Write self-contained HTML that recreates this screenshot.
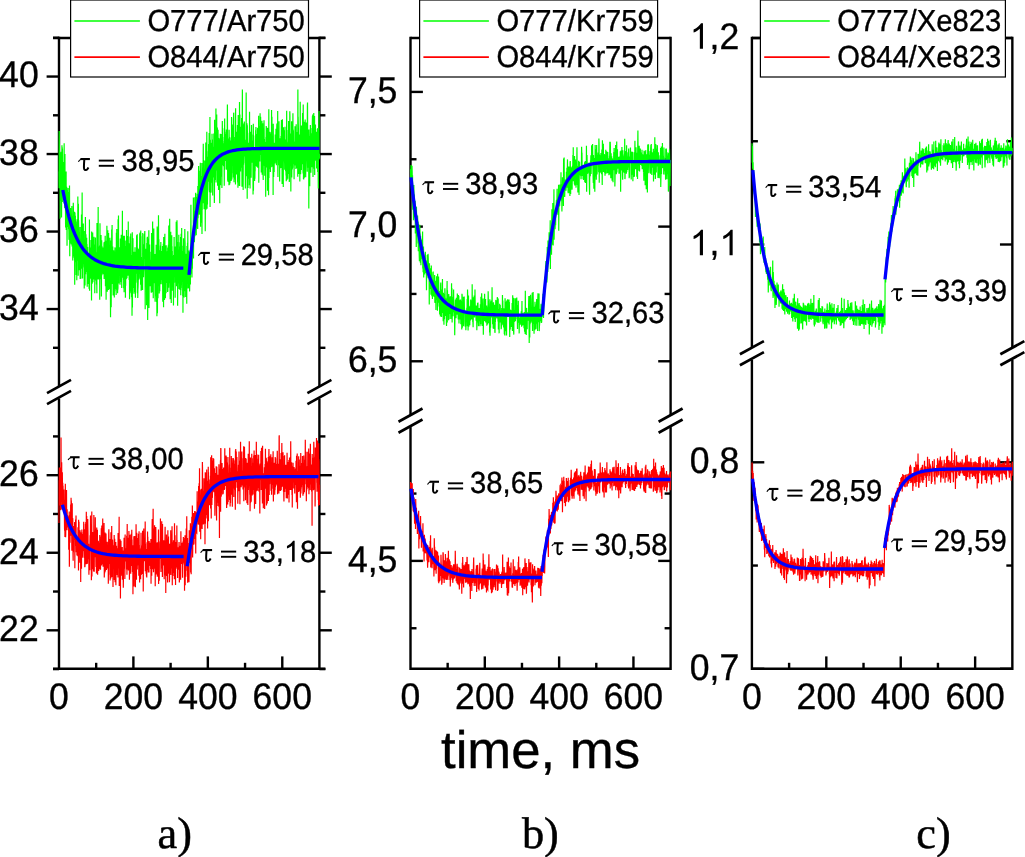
<!DOCTYPE html><html><head><meta charset="utf-8"><title>chart</title><style>html,body{margin:0;padding:0;background:#fff;overflow:hidden;}svg{display:block;text-rendering:geometricPrecision;}</style></head><body>
<svg width="1025" height="857" viewBox="0 0 1025 857">
<rect width="1025" height="857" fill="#fff"/>
<g stroke="#000" stroke-width="2.4" fill="none">
<line x1="59" y1="36.8" x2="59" y2="386.5"/>
<line x1="59" y1="398.5" x2="59" y2="670"/>
<line x1="47" y1="393.1" x2="71" y2="379.9" stroke-width="2.7"/>
<line x1="47" y1="404.1" x2="71" y2="390.9" stroke-width="2.7"/>
<line x1="319.4" y1="36.8" x2="319.4" y2="386.5"/>
<line x1="319.4" y1="398.5" x2="319.4" y2="670"/>
<line x1="307.4" y1="393.1" x2="331.4" y2="379.9" stroke-width="2.7"/>
<line x1="307.4" y1="404.1" x2="331.4" y2="390.9" stroke-width="2.7"/>
<line x1="53" y1="38" x2="325.4" y2="38"/>
<line x1="53" y1="668.8" x2="325.4" y2="668.8"/>
<line x1="59" y1="309.05" x2="46.6" y2="309.05"/>
<line x1="319.4" y1="309.05" x2="331.8" y2="309.05"/>
<line x1="59" y1="231.55" x2="46.6" y2="231.55"/>
<line x1="319.4" y1="231.55" x2="331.8" y2="231.55"/>
<line x1="59" y1="154.05" x2="46.6" y2="154.05"/>
<line x1="319.4" y1="154.05" x2="331.8" y2="154.05"/>
<line x1="59" y1="76.55" x2="46.6" y2="76.55"/>
<line x1="319.4" y1="76.55" x2="331.8" y2="76.55"/>
<line x1="59" y1="347.8" x2="53" y2="347.8"/>
<line x1="319.4" y1="347.8" x2="325.4" y2="347.8"/>
<line x1="59" y1="270.3" x2="53" y2="270.3"/>
<line x1="319.4" y1="270.3" x2="325.4" y2="270.3"/>
<line x1="59" y1="192.8" x2="53" y2="192.8"/>
<line x1="319.4" y1="192.8" x2="325.4" y2="192.8"/>
<line x1="59" y1="115.3" x2="53" y2="115.3"/>
<line x1="319.4" y1="115.3" x2="325.4" y2="115.3"/>
<line x1="59" y1="37.8" x2="53" y2="37.8"/>
<line x1="319.4" y1="37.8" x2="325.4" y2="37.8"/>
<line x1="59" y1="630.31" x2="46.6" y2="630.31"/>
<line x1="319.4" y1="630.31" x2="331.8" y2="630.31"/>
<line x1="59" y1="552.75" x2="46.6" y2="552.75"/>
<line x1="319.4" y1="552.75" x2="331.8" y2="552.75"/>
<line x1="59" y1="475.19" x2="46.6" y2="475.19"/>
<line x1="319.4" y1="475.19" x2="331.8" y2="475.19"/>
<line x1="59" y1="669.09" x2="53" y2="669.09"/>
<line x1="319.4" y1="669.09" x2="325.4" y2="669.09"/>
<line x1="59" y1="591.53" x2="53" y2="591.53"/>
<line x1="319.4" y1="591.53" x2="325.4" y2="591.53"/>
<line x1="59" y1="513.97" x2="53" y2="513.97"/>
<line x1="319.4" y1="513.97" x2="325.4" y2="513.97"/>
<line x1="59" y1="436.41" x2="53" y2="436.41"/>
<line x1="319.4" y1="436.41" x2="325.4" y2="436.41"/>
<line x1="96.17" y1="668.8" x2="96.17" y2="662.8"/>
<line x1="133.39" y1="668.8" x2="133.39" y2="656.4"/>
<line x1="170.61" y1="668.8" x2="170.61" y2="662.8"/>
<line x1="207.84" y1="668.8" x2="207.84" y2="656.4"/>
<line x1="245.06" y1="668.8" x2="245.06" y2="662.8"/>
<line x1="282.28" y1="668.8" x2="282.28" y2="656.4"/>
</g>
<g stroke="#000" stroke-width="2.4" fill="none">
<line x1="410.5" y1="36.8" x2="410.5" y2="415.1"/>
<line x1="410.5" y1="427.1" x2="410.5" y2="670"/>
<line x1="398.5" y1="421.7" x2="422.5" y2="408.5" stroke-width="2.7"/>
<line x1="398.5" y1="432.7" x2="422.5" y2="419.5" stroke-width="2.7"/>
<line x1="670.6" y1="36.8" x2="670.6" y2="415.1"/>
<line x1="670.6" y1="427.1" x2="670.6" y2="670"/>
<line x1="658.6" y1="421.7" x2="682.6" y2="408.5" stroke-width="2.7"/>
<line x1="658.6" y1="432.7" x2="682.6" y2="419.5" stroke-width="2.7"/>
<line x1="410.5" y1="38" x2="670.6" y2="38"/>
<line x1="410.5" y1="668.8" x2="670.6" y2="668.8"/>
<line x1="410.5" y1="361.27" x2="422.9" y2="361.27"/>
<line x1="670.6" y1="361.27" x2="658.2" y2="361.27"/>
<line x1="410.5" y1="226.6" x2="422.9" y2="226.6"/>
<line x1="670.6" y1="226.6" x2="658.2" y2="226.6"/>
<line x1="410.5" y1="91.92" x2="422.9" y2="91.92"/>
<line x1="670.6" y1="91.92" x2="658.2" y2="91.92"/>
<line x1="410.5" y1="293.94" x2="416.5" y2="293.94"/>
<line x1="670.6" y1="293.94" x2="664.6" y2="293.94"/>
<line x1="410.5" y1="159.26" x2="416.5" y2="159.26"/>
<line x1="670.6" y1="159.26" x2="664.6" y2="159.26"/>
<line x1="410.5" y1="560.9" x2="422.9" y2="560.9"/>
<line x1="670.6" y1="560.9" x2="658.2" y2="560.9"/>
<line x1="410.5" y1="628.24" x2="416.5" y2="628.24"/>
<line x1="670.6" y1="628.24" x2="664.6" y2="628.24"/>
<line x1="410.5" y1="493.56" x2="416.5" y2="493.56"/>
<line x1="670.6" y1="493.56" x2="664.6" y2="493.56"/>
<line x1="447.66" y1="668.8" x2="447.66" y2="662.8"/>
<line x1="484.81" y1="668.8" x2="484.81" y2="656.4"/>
<line x1="521.97" y1="668.8" x2="521.97" y2="662.8"/>
<line x1="559.13" y1="668.8" x2="559.13" y2="656.4"/>
<line x1="596.29" y1="668.8" x2="596.29" y2="662.8"/>
<line x1="633.44" y1="668.8" x2="633.44" y2="656.4"/>
</g>
<g stroke="#000" stroke-width="2.4" fill="none">
<line x1="751.9" y1="36.8" x2="751.9" y2="347.7"/>
<line x1="751.9" y1="359.7" x2="751.9" y2="670"/>
<line x1="739.9" y1="354.3" x2="763.9" y2="341.1" stroke-width="2.7"/>
<line x1="739.9" y1="365.3" x2="763.9" y2="352.1" stroke-width="2.7"/>
<line x1="1012.35" y1="36.8" x2="1012.35" y2="347.7"/>
<line x1="1012.35" y1="359.7" x2="1012.35" y2="670"/>
<line x1="1000.35" y1="354.3" x2="1024.35" y2="341.1" stroke-width="2.7"/>
<line x1="1000.35" y1="365.3" x2="1024.35" y2="352.1" stroke-width="2.7"/>
<line x1="751.9" y1="38" x2="1012.35" y2="38"/>
<line x1="751.9" y1="668.8" x2="1012.35" y2="668.8"/>
<line x1="751.9" y1="244.5" x2="764.3" y2="244.5"/>
<line x1="1012.35" y1="244.5" x2="999.95" y2="244.5"/>
<line x1="751.9" y1="38" x2="764.3" y2="38"/>
<line x1="1012.35" y1="38" x2="999.95" y2="38"/>
<line x1="751.9" y1="141.25" x2="757.9" y2="141.25"/>
<line x1="1012.35" y1="141.25" x2="1006.35" y2="141.25"/>
<line x1="751.9" y1="668.8" x2="764.3" y2="668.8"/>
<line x1="1012.35" y1="668.8" x2="999.95" y2="668.8"/>
<line x1="751.9" y1="462.3" x2="764.3" y2="462.3"/>
<line x1="1012.35" y1="462.3" x2="999.95" y2="462.3"/>
<line x1="751.9" y1="565.55" x2="757.9" y2="565.55"/>
<line x1="1012.35" y1="565.55" x2="1006.35" y2="565.55"/>
<line x1="789.11" y1="668.8" x2="789.11" y2="662.8"/>
<line x1="826.31" y1="668.8" x2="826.31" y2="656.4"/>
<line x1="863.52" y1="668.8" x2="863.52" y2="662.8"/>
<line x1="900.73" y1="668.8" x2="900.73" y2="656.4"/>
<line x1="937.94" y1="668.8" x2="937.94" y2="662.8"/>
<line x1="975.14" y1="668.8" x2="975.14" y2="656.4"/>
</g>
<path d="M58.95 171.56 59.08 188.26 59.21 130.96 59.34 149.78 59.47 152.68 59.6 162.38 59.73 160.5 59.86 153.14 59.99 156.82 60.12 218.74 60.25 174.9 60.38 170.04 60.51 180.04 60.64 191.36 60.77 151.86 60.9 181.75 61.03 176.72 61.16 200.79 61.29 178.05 61.43 156.91 61.56 217.59 61.69 173.66 61.82 155.75 61.95 145.23 62.08 192.05 62.21 147.24 62.34 202.02 62.47 148.71 62.6 182.8 62.73 182.3 62.86 183.89 62.99 195.37 63.12 164.57 63.25 187.4 63.38 162 63.51 190.51 63.64 198.35 63.77 188.23 63.9 186.61 64.03 203.57 64.16 143.14 64.29 196.89 64.42 201.33 64.55 175.44 64.68 208.35 64.81 189.52 64.94 154.03 65.07 197.31 65.2 183.36 65.33 192.66 65.46 200.25 65.59 227.49 65.72 206.26 65.85 204.33 65.98 212.83 66.12 171.57 66.25 230.12 66.38 186.65 66.51 216 66.64 186.79 66.77 190.18 66.9 201.74 67.03 245.82 67.16 223.58 67.29 199.36 67.42 205.95 67.55 189.99 67.68 211.72 67.81 201.98 67.94 227.08 68.07 188.07 68.2 207.98 68.33 198.82 68.46 201.65 68.59 229.29 68.72 218.64 68.85 227.83 68.98 239.76 69.11 239.47 69.24 192.02 69.37 228.73 69.5 185.51 69.63 218.2 69.76 256.32 69.89 216.61 70.02 213.7 70.15 224.38 70.28 221.9 70.41 222.48 70.54 208 70.67 243.36 70.81 240.1 70.94 219.58 71.07 229.99 71.2 236.92 71.33 244.41 71.46 232.65 71.59 238.78 71.72 220.96 71.85 206.02 71.98 217.3 72.11 246.45 72.24 246.03 72.37 230.59 72.5 217.4 72.63 234.38 72.76 260.5 72.89 254.98 73.02 216.6 73.15 229.11 73.28 202.7 73.41 209.04 73.54 234.53 73.67 231.76 73.8 249.95 73.93 256.03 74.06 248.14 74.19 257.67 74.32 222.52 74.45 211.78 74.58 243.05 74.71 284.75 74.84 240.94 74.97 212.58 75.1 239.37 75.23 262.15 75.36 215.71 75.49 250.92 75.63 224.34 75.76 260.42 75.89 251.45 76.02 242.58 76.15 275.09 76.28 229.6 76.41 224.61 76.54 273.16 76.67 221.54 76.8 280.24 76.93 237.96 77.06 219.29 77.19 239.21 77.32 241.99 77.45 243.59 77.58 236.37 77.71 260.82 77.84 196.45 77.97 230.23 78.1 236.04 78.23 275.83 78.36 203.64 78.49 235.29 78.62 220.26 78.75 229.58 78.88 254.61 79.01 250.48 79.14 270.27 79.27 231.74 79.4 248.46 79.53 265.87 79.66 260.96 79.79 237.63 79.92 265.67 80.05 226.9 80.18 278.92 80.32 247.8 80.45 242.94 80.58 250.43 80.71 261.62 80.84 278.78 80.97 243.2 81.1 239.11 81.23 257.44 81.36 229.93 81.49 214.46 81.62 262.76 81.75 239.86 81.88 268.67 82.01 227.94 82.14 192.6 82.27 253.19 82.4 250.94 82.53 278.59 82.66 258.35 82.79 254.42 82.92 259.86 83.05 241.91 83.18 250.53 83.31 223.55 83.44 259.27 83.57 234.27 83.7 241.27 83.83 263.2 83.96 267.46 84.09 231.09 84.22 288.46 84.35 239.31 84.48 266.57 84.61 268.94 84.74 255.28 84.87 254.44 85 285.47 85.14 268.39 85.27 260.09 85.4 217.11 85.53 237.73 85.66 274.16 85.79 255.9 85.92 234.21 86.05 240.29 86.18 246.82 86.31 265.81 86.44 260.27 86.57 272 86.7 237.67 86.83 272.06 86.96 243.92 87.09 247.91 87.22 286.65 87.35 255.26 87.48 251.33 87.61 250.11 87.74 246.92 87.87 283.98 88 280.64 88.13 268.22 88.26 258.22 88.39 274.65 88.52 253.49 88.65 263.68 88.78 262.84 88.91 257.01 89.04 286.75 89.17 288.9 89.3 280.81 89.43 219.42 89.56 290.77 89.69 269.34 89.83 247.54 89.96 255.75 90.09 277.95 90.22 278.75 90.35 272.78 90.48 259.31 90.61 257.42 90.74 272.65 90.87 255.21 91 239.98 91.13 245.3 91.26 254.59 91.39 263.66 91.52 300.45 91.65 231.51 91.78 266.7 91.91 255.98 92.04 263.54 92.17 283.64 92.3 281.59 92.43 255.11 92.56 247.59 92.69 232.38 92.82 257.01 92.95 282.15 93.08 253.5 93.21 272 93.34 272.17 93.47 266.35 93.6 279.48 93.73 256.81 93.86 243.29 93.99 236.85 94.12 276.82 94.25 252.41 94.38 253.46 94.52 275.3 94.65 244.54 94.78 293.24 94.91 272.34 95.04 249.75 95.17 247.8 95.3 280.46 95.43 237.49 95.56 247.88 95.69 260.25 95.82 264.06 95.95 260.56 96.08 267.7 96.21 253.5 96.34 258.18 96.47 284.59 96.6 272.9 96.73 252.15 96.86 293.34 96.99 223 97.12 262.49 97.25 273.65 97.38 279.5 97.51 263.21 97.64 253.84 97.77 272.34 97.9 257.6 98.03 270.36 98.16 207.12 98.29 268.71 98.42 246.5 98.55 279.46 98.68 275.85 98.81 275.55 98.94 254.07 99.07 270.06 99.2 255.37 99.34 266.01 99.47 259.41 99.6 245.48 99.73 299.66 99.86 275.9 99.99 223.13 100.12 279.24 100.25 235.82 100.38 257.95 100.51 251.36 100.64 252.31 100.77 267.09 100.9 256.39 101.03 235.1 101.16 262.56 101.29 269.65 101.42 296.39 101.55 254.94 101.68 240.27 101.81 255.69 101.94 275.37 102.07 246.22 102.2 249.35 102.33 273.63 102.46 262.93 102.59 267.41 102.72 251.29 102.85 247.58 102.98 257.17 103.11 260.44 103.24 257.06 103.37 271.65 103.5 273.89 103.63 273.95 103.76 272.69 103.89 246.79 104.03 242.39 104.16 278.94 104.29 263.98 104.42 266.1 104.55 241.79 104.68 259.85 104.81 251.79 104.94 247.52 105.07 252.01 105.2 235.63 105.33 265.67 105.46 286.24 105.59 250.68 105.72 265.96 105.85 243.45 105.98 277 106.11 299.68 106.24 240.87 106.37 260.02 106.5 291.43 106.63 271.4 106.76 266.63 106.89 225.65 107.02 261.65 107.15 281.99 107.28 291.86 107.41 276.79 107.54 253.63 107.67 251.63 107.8 230.14 107.93 244.3 108.06 286.09 108.19 262.62 108.32 239.39 108.45 289.92 108.58 233.11 108.72 288.87 108.85 258.81 108.98 271.43 109.11 277.92 109.24 270.02 109.37 289.22 109.5 265.39 109.63 258.91 109.76 252.57 109.89 237.72 110.02 252 110.15 283.89 110.28 280.94 110.41 291.72 110.54 317.14 110.67 278.89 110.8 274.88 110.93 240.4 111.06 260.8 111.19 307.15 111.32 275.52 111.45 262.86 111.58 271.39 111.71 229.51 111.84 249.7 111.97 240.7 112.1 224.98 112.23 280.23 112.36 284 112.49 262.32 112.62 272.28 112.75 246.58 112.88 274.34 113.01 280.26 113.14 294.94 113.27 295.46 113.4 275.09 113.54 263.43 113.67 250.17 113.8 254.38 113.93 277.63 114.06 276.68 114.19 266.31 114.32 297.59 114.45 278.32 114.58 266.32 114.71 262.4 114.84 267.52 114.97 248.03 115.1 247.47 115.23 272.71 115.36 255.01 115.49 260.99 115.62 289.35 115.75 262.51 115.88 291.16 116.01 266.06 116.14 295.06 116.27 275.07 116.4 232.86 116.53 289.82 116.66 262.37 116.79 229 116.92 268.5 117.05 269.31 117.18 241.85 117.31 254.85 117.44 276.8 117.57 293.25 117.7 288.11 117.83 289.68 117.96 287.76 118.09 219.27 118.23 252.69 118.36 270.07 118.49 215.45 118.62 281.18 118.75 283.5 118.88 251.84 119.01 259.36 119.14 248.76 119.27 266.28 119.4 265.86 119.53 266.51 119.66 247.25 119.79 274.03 119.92 260.21 120.05 284.76 120.18 272.66 120.31 238.53 120.44 239.33 120.57 268.08 120.7 257.55 120.83 275.7 120.96 282.11 121.09 267.18 121.22 234.79 121.35 244.12 121.48 277.72 121.61 246.9 121.74 287.94 121.87 265.15 122 276.77 122.13 250.1 122.26 265.01 122.39 210.66 122.52 262.98 122.65 277.86 122.78 249.92 122.92 250.96 123.05 265.97 123.18 268.22 123.31 251.65 123.44 279.85 123.57 235.76 123.7 288.21 123.83 240.38 123.96 251.41 124.09 292.37 124.22 248.18 124.35 235.67 124.48 268.54 124.61 249.63 124.74 245.9 124.87 253.8 125 253 125.13 248.62 125.26 247.61 125.39 297.79 125.52 254.4 125.65 285.64 125.78 240.49 125.91 277.54 126.04 243.45 126.17 258.5 126.3 279.31 126.43 257.15 126.56 229.91 126.69 256.76 126.82 264.27 126.95 278.16 127.08 248.31 127.21 261.62 127.34 268.48 127.47 235.97 127.6 265.28 127.74 251.58 127.87 275.64 128 265.24 128.13 264.18 128.26 221.47 128.39 265.29 128.52 260.32 128.65 249.44 128.78 257.68 128.91 243.37 129.04 270.71 129.17 279.94 129.3 278.76 129.43 257.54 129.56 299.34 129.69 283.66 129.82 249.42 129.95 264.8 130.08 236.49 130.21 265.21 130.34 281 130.47 291.57 130.6 259.53 130.73 233.5 130.86 264.26 130.99 293.36 131.12 270.24 131.25 291.74 131.38 283.24 131.51 297.16 131.64 278.9 131.77 254.91 131.9 276.01 132.03 315.75 132.16 257.71 132.29 232.29 132.43 307.53 132.56 275.33 132.69 255.67 132.82 256.05 132.95 238.32 133.08 280.97 133.21 270.32 133.34 255.57 133.47 259.57 133.6 259.48 133.73 287.9 133.86 264.15 133.99 293.84 134.12 251.71 134.25 256.01 134.38 258.47 134.51 257.41 134.64 265.93 134.77 287.14 134.9 290.65 135.03 247.29 135.16 291.96 135.29 269.48 135.42 297.87 135.55 264.49 135.68 251.78 135.81 282.69 135.94 279.54 136.07 258.99 136.2 268.13 136.33 270.19 136.46 273.63 136.59 235.14 136.72 244.82 136.85 268.78 136.98 272.67 137.12 257.78 137.25 234.3 137.38 293.27 137.51 261.9 137.64 247.87 137.77 298.06 137.9 289.28 138.03 287.49 138.16 283.63 138.29 278.59 138.42 249.28 138.55 268.36 138.68 274.54 138.81 279.82 138.94 276.83 139.07 248.65 139.2 256.31 139.33 261.49 139.46 264.09 139.59 251.21 139.72 233.17 139.85 244.71 139.98 273.66 140.11 267.62 140.24 278.85 140.37 231.97 140.5 259.93 140.63 284.76 140.76 230.56 140.89 247.27 141.02 236.2 141.15 290.86 141.28 268.44 141.41 256.95 141.54 270.71 141.67 266.15 141.8 285.06 141.94 290.09 142.07 285.25 142.2 274.39 142.33 282.38 142.46 283.32 142.59 290.02 142.72 232.99 142.85 274.46 142.98 269.38 143.11 270.93 143.24 263.16 143.37 266.5 143.5 277.3 143.63 271.69 143.76 270.34 143.89 247.52 144.02 244.04 144.15 253.71 144.28 234.05 144.41 258.11 144.54 251.79 144.67 233.79 144.8 231.09 144.93 259 145.06 256.92 145.19 309.24 145.32 284.35 145.45 253.09 145.58 258.45 145.71 248.73 145.84 252.98 145.97 261.28 146.1 267.02 146.23 256.11 146.36 283.58 146.49 280.2 146.63 305.13 146.76 243.09 146.89 280.81 147.02 260.85 147.15 237.45 147.28 262.24 147.41 236.76 147.54 267.46 147.67 319.99 147.8 292.78 147.93 302.57 148.06 290.67 148.19 238.57 148.32 275.84 148.45 270.7 148.58 276.24 148.71 248.27 148.84 230.33 148.97 307.98 149.1 290.66 149.23 273.84 149.36 258.67 149.49 271.47 149.62 244.44 149.75 286.24 149.88 271.14 150.01 265.15 150.14 259.84 150.27 266.75 150.4 270.52 150.53 260.37 150.66 286.3 150.79 272.01 150.92 266.23 151.05 251.65 151.18 291.16 151.31 292.67 151.45 281.12 151.58 233 151.71 261.41 151.84 286.89 151.97 268.74 152.1 292.28 152.23 259.7 152.36 283.17 152.49 278.01 152.62 221.56 152.75 260.33 152.88 263.54 153.01 256.13 153.14 251.08 153.27 298.25 153.4 265.77 153.53 283.05 153.66 242.61 153.79 228.57 153.92 259.07 154.05 275.79 154.18 254.32 154.31 278.14 154.44 283.31 154.57 259.54 154.7 266.93 154.83 254.05 154.96 288.59 155.09 301.67 155.22 277.5 155.35 258.47 155.48 254.67 155.61 262.77 155.74 284.98 155.87 253.69 156 296.18 156.14 244.86 156.27 267.92 156.4 293.11 156.53 301.97 156.66 260.34 156.79 283.14 156.92 316.15 157.05 290.28 157.18 226.45 157.31 273.43 157.44 313.24 157.57 246.01 157.7 285.44 157.83 228.42 157.96 298.26 158.09 252.07 158.22 283.44 158.35 285.41 158.48 215.24 158.61 240.91 158.74 274.36 158.87 239.17 159 267.72 159.13 250.1 159.26 293.62 159.39 258.43 159.52 250.72 159.65 280.31 159.78 291.33 159.91 265.13 160.04 273.42 160.17 277.47 160.3 258.72 160.43 245.54 160.56 278.22 160.69 261.4 160.83 242.11 160.96 284.36 161.09 276.37 161.22 270.8 161.35 253.79 161.48 263.88 161.61 279.7 161.74 277.33 161.87 252.44 162 250.97 162.13 274.63 162.26 271.62 162.39 284.24 162.52 246.11 162.65 285.63 162.78 301.63 162.91 286.16 163.04 270.61 163.17 285.34 163.3 243.67 163.43 259.7 163.56 307.26 163.69 237.07 163.82 246.13 163.95 283.76 164.08 255.65 164.21 257.39 164.34 246.86 164.47 300.09 164.6 256.56 164.73 262.86 164.86 233.68 164.99 282.76 165.12 267.96 165.25 277.61 165.38 298.17 165.51 271.04 165.65 245.49 165.78 248.88 165.91 269.7 166.04 293.23 166.17 245.36 166.3 263.45 166.43 265.38 166.56 280.63 166.69 251.2 166.82 274.06 166.95 283.03 167.08 267.42 167.21 266.28 167.34 279.9 167.47 279.19 167.6 292.05 167.73 247.64 167.86 291.52 167.99 263.81 168.12 246.51 168.25 257.63 168.38 244.71 168.51 264.34 168.64 287.79 168.77 225.4 168.9 245.68 169.03 282.75 169.16 262.43 169.29 283.21 169.42 242.93 169.55 267.15 169.68 218.64 169.81 252.07 169.94 282.21 170.07 291.25 170.2 299.15 170.34 267.09 170.47 251.48 170.6 260.83 170.73 231.71 170.86 293.89 170.99 290.54 171.12 250.87 171.25 302.96 171.38 242.45 171.51 278.79 171.64 252.79 171.77 235.13 171.9 275.68 172.03 246.14 172.16 290.84 172.29 251.07 172.42 270.16 172.55 259.06 172.68 270.73 172.81 256.15 172.94 283.75 173.07 279.76 173.2 269.49 173.33 265.75 173.46 305.62 173.59 254.94 173.72 259.82 173.85 282.84 173.98 267.95 174.11 237.12 174.24 265.47 174.37 260.86 174.5 249.27 174.63 271.86 174.76 246.57 174.89 263.41 175.03 246.59 175.16 297.84 175.29 262.79 175.42 276.57 175.55 273.6 175.68 281.58 175.81 265.3 175.94 282.49 176.07 270.54 176.2 221.7 176.33 274.1 176.46 243.62 176.59 286.21 176.72 272.32 176.85 261.09 176.98 220.23 177.11 227.54 177.24 245.81 177.37 260.97 177.5 241.96 177.63 305.87 177.76 276.88 177.89 266.49 178.02 249.43 178.15 261.71 178.28 263.66 178.41 259.76 178.54 266.7 178.67 283.46 178.8 234.71 178.93 272.46 179.06 289.11 179.19 242.17 179.32 264.57 179.45 260.9 179.58 246.45 179.71 286.22 179.85 261.97 179.98 289.93 180.11 275.99 180.24 262.87 180.37 273.63 180.5 261.04 180.63 236.99 180.76 295.2 180.89 275.13 181.02 290.15 181.15 233.76 181.28 288.07 181.41 283.84 181.54 267.4 181.67 227.88 181.8 270.09 181.93 255.49 182.06 264.51 182.19 269.22 182.32 250.98 182.45 265.7 182.58 268.4 182.71 295.92 182.84 266.25 182.97 312.85 183.1 245.71 183.23 265.58 183.36 291.73 183.49 238.32 183.62 279.95 183.75 275.69 183.88 256.74 184.01 263.61 184.14 297.57 184.27 259.65 184.4 273.47 184.54 276.39 184.67 291.13 184.8 228.9 184.93 240.21 185.06 242.7 185.19 262.86 185.32 279.84 185.45 283.99 185.58 262.73 185.71 296.97 185.84 266.77 185.97 281.31 186.1 253.75 186.23 284.02 186.36 254.52 186.49 290.21 186.62 284.57 186.75 303.71 186.88 260.11 187.01 246.11 187.14 283.95 187.27 274.22 187.4 258.14 187.53 242.75 187.66 283.38 187.79 231.14 187.92 259.34 188.05 288.51 188.18 263.4 188.31 276.9 188.44 277.5 188.57 279.46 188.7 288.3 188.83 280.61 188.96 261.06 189.09 250.43 189.23 266.91 189.36 258.39 189.49 277.12 189.62 291.38 189.75 281.47 189.88 251.98 190.01 267.65 190.14 262.57 190.27 252.18 190.4 284.49 190.53 270.16 190.66 264.05 190.79 232.68 190.92 204.71 191.05 239.44 191.18 273.81 191.31 246.84 191.44 249.24 191.57 243.52 191.7 256.47 191.83 246.01 191.96 277.6 192.09 241.58 192.22 237.77 192.35 268.64 192.48 254.81 192.61 252.69 192.74 248.41 192.87 236.59 193 242.31 193.13 245.44 193.26 236.25 193.39 197.51 193.52 258.38 193.65 222.1 193.78 219.44 193.91 222.78 194.05 214.6 194.18 210.72 194.31 224.85 194.44 242.33 194.57 219.01 194.7 232.71 194.83 197.16 194.96 236.31 195.09 199.49 195.22 233.53 195.35 205.3 195.48 207.14 195.61 193.86 195.74 192.78 195.87 211.85 196 196.77 196.13 210.28 196.26 235.32 196.39 196.93 196.52 206.17 196.65 209.53 196.78 198.93 196.91 209.34 197.04 213.67 197.17 228.33 197.3 193.99 197.43 203.01 197.56 203.36 197.69 228.89 197.82 186.03 197.95 207.63 198.08 218.34 198.21 214.23 198.34 188.98 198.47 182.15 198.6 166 198.74 190.39 198.87 195.09 199 170.87 199.13 214.74 199.26 201.23 199.39 192.99 199.52 186.89 199.65 205.39 199.78 190.39 199.91 204.89 200.04 185.58 200.17 214.25 200.3 162.67 200.43 172.73 200.56 226.77 200.69 211.89 200.82 222.7 200.95 175.96 201.08 204.35 201.21 209.03 201.34 206.91 201.47 185.56 201.6 216.52 201.73 195.98 201.86 163.01 201.99 233.97 202.12 189.11 202.25 210.12 202.38 172.62 202.51 167.62 202.64 201.69 202.77 200.11 202.9 169.91 203.03 188.33 203.16 157.99 203.29 143.75 203.42 203.17 203.56 160.26 203.69 195.72 203.82 201.47 203.95 187.88 204.08 209.29 204.21 186.98 204.34 185.27 204.47 179.35 204.6 186.94 204.73 185.3 204.86 160.44 204.99 176.99 205.12 170.41 205.25 231.22 205.38 200.17 205.51 161.53 205.64 187.5 205.77 142.56 205.9 176.59 206.03 209.74 206.16 176.46 206.29 198.96 206.42 167.28 206.55 182.68 206.68 180.78 206.81 131.65 206.94 157.84 207.07 208.8 207.2 156.68 207.33 195.09 207.46 204.59 207.59 170.79 207.72 190.45 207.85 178.06 207.98 159.54 208.11 181.69 208.25 178.58 208.38 151.3 208.51 161.34 208.64 143.93 208.77 162.88 208.9 168.28 209.03 150.19 209.16 133.11 209.29 181.12 209.42 192.15 209.55 150.55 209.68 168.99 209.81 154.68 209.94 117.09 210.07 207.11 210.2 172.23 210.33 139.77 210.46 190.4 210.59 179.83 210.72 192.73 210.85 179.59 210.98 175.54 211.11 192.55 211.24 159.84 211.37 169.41 211.5 144.03 211.63 142.71 211.76 168.27 211.89 168.51 212.02 133.78 212.15 170.81 212.28 182.76 212.41 139.49 212.54 156.73 212.67 195.59 212.8 146.7 212.94 173.53 213.07 177.42 213.2 165.73 213.33 164.94 213.46 172.78 213.59 167.3 213.72 164.53 213.85 133.48 213.98 166.02 214.11 146.24 214.24 189.5 214.37 203.05 214.5 181.92 214.63 119.75 214.76 179.44 214.89 162.58 215.02 139.51 215.15 136.94 215.28 180.05 215.41 147.46 215.54 158.12 215.67 160.75 215.8 177.27 215.93 108.39 216.06 182.49 216.19 143.58 216.32 151.15 216.45 170.48 216.58 165.58 216.71 114.56 216.84 169.82 216.97 155.34 217.1 138.54 217.23 146.37 217.36 127.57 217.49 172.68 217.62 185.75 217.76 145.59 217.89 148.52 218.02 129.66 218.15 143.82 218.28 137.77 218.41 157.47 218.54 189.97 218.67 176.84 218.8 175.31 218.93 138.17 219.06 172.41 219.19 142.76 219.32 139.5 219.45 170.16 219.58 154.23 219.71 203.29 219.84 159.59 219.97 150.05 220.1 169.98 220.23 133.67 220.36 168.54 220.49 185.21 220.62 152.85 220.75 145.58 220.88 176.65 221.01 133.93 221.14 162.22 221.27 145.03 221.4 160.65 221.53 139.94 221.66 166.31 221.79 165.39 221.92 187.99 222.05 147.63 222.18 162.89 222.31 120.94 222.45 139.39 222.58 159.34 222.71 128.19 222.84 152.1 222.97 137 223.1 163.11 223.23 165.33 223.36 144.89 223.49 166.28 223.62 143.17 223.75 155.85 223.88 163.52 224.01 164.14 224.14 164.76 224.27 185.69 224.4 141.08 224.53 150.35 224.66 118.48 224.79 169.76 224.92 131.81 225.05 141.76 225.18 143.29 225.31 160.88 225.44 147.54 225.57 147.46 225.7 154.28 225.83 146.38 225.96 152.27 226.09 133.99 226.22 142.13 226.35 129.39 226.48 168.76 226.61 169.58 226.74 165.01 226.87 158.69 227 140.83 227.14 162.8 227.27 122.77 227.4 104.62 227.53 129.54 227.66 180.48 227.79 156.68 227.92 181.48 228.05 138.38 228.18 171.12 228.31 182.09 228.44 170.62 228.57 157.19 228.7 172.22 228.83 143.01 228.96 185.18 229.09 129.67 229.22 137.14 229.35 151.97 229.48 136.92 229.61 184.77 229.74 164.19 229.87 137.46 230 183.19 230.13 177.09 230.26 144.07 230.39 180.93 230.52 173.73 230.65 141.63 230.78 140.52 230.91 157.02 231.04 172.9 231.17 180.88 231.3 179.59 231.43 141.78 231.56 117.02 231.69 118.83 231.82 179.59 231.96 170.94 232.09 173.31 232.22 150.74 232.35 152.38 232.48 159.98 232.61 159.48 232.74 152.23 232.87 132.2 233 124.58 233.13 153.54 233.26 147.56 233.39 177.47 233.52 130.24 233.65 112.74 233.78 113.11 233.91 149.76 234.04 182.27 234.17 143.84 234.3 137.04 234.43 157.53 234.56 179.6 234.69 170.93 234.82 166.96 234.95 167.94 235.08 144.7 235.21 151.84 235.34 158.03 235.47 184.62 235.6 108.22 235.73 139.72 235.86 157.16 235.99 145.45 236.12 147.6 236.25 144.98 236.38 131.86 236.51 159.57 236.65 174.59 236.78 143.1 236.91 158.28 237.04 171 237.17 137.42 237.3 148.15 237.43 125.08 237.56 179.87 237.69 182.5 237.82 145.97 237.95 187.74 238.08 166.05 238.21 114.95 238.34 159.02 238.47 154.48 238.6 159.32 238.73 162.65 238.86 141.04 238.99 171.23 239.12 155.62 239.25 185.65 239.38 147.46 239.51 101.94 239.64 185.9 239.77 160.1 239.9 114.59 240.03 137.97 240.16 134.39 240.29 167.27 240.42 137.51 240.55 171.55 240.68 139.84 240.81 167.7 240.94 137.82 241.07 126.72 241.2 160.64 241.33 144.95 241.47 159.23 241.6 117.98 241.73 129.62 241.86 142.73 241.99 186.77 242.12 156.91 242.25 117.34 242.38 89.44 242.51 184.61 242.64 155.59 242.77 125.19 242.9 168.01 243.03 165.47 243.16 190.02 243.29 152.91 243.42 139.76 243.55 164.77 243.68 123.48 243.81 140.66 243.94 130.16 244.07 138.28 244.2 124.67 244.33 121.6 244.46 128.01 244.59 156.53 244.72 149.68 244.85 147.63 244.98 158.04 245.11 163.34 245.24 158.14 245.37 188.45 245.5 154.46 245.63 156.32 245.76 139.74 245.89 169.68 246.02 176.21 246.16 92.56 246.29 164.54 246.42 128.11 246.55 155.67 246.68 150.58 246.81 125 246.94 123.2 247.07 144.07 247.2 198.83 247.33 125.35 247.46 141.2 247.59 143.41 247.72 143.82 247.85 170.28 247.98 188.01 248.11 148.03 248.24 156.76 248.37 142.69 248.5 178.81 248.63 147.81 248.76 161.88 248.89 145.16 249.02 170.27 249.15 147.58 249.28 132.79 249.41 185.15 249.54 111.8 249.67 152.09 249.8 142.05 249.93 131.47 250.06 188.51 250.19 155.23 250.32 140.93 250.45 131.88 250.58 155.19 250.71 148.69 250.85 144.17 250.98 136.1 251.11 177.74 251.24 152.89 251.37 145.17 251.5 124.9 251.63 133.94 251.76 162.66 251.89 134.41 252.02 161.13 252.15 146.58 252.28 156.23 252.41 155.32 252.54 140.39 252.67 143.65 252.8 147.38 252.93 161.17 253.06 194.43 253.19 165.24 253.32 123.75 253.45 190.84 253.58 146.42 253.71 135.46 253.84 151.02 253.97 147.57 254.1 153.47 254.23 148.08 254.36 148.13 254.49 172.7 254.62 180.89 254.75 150.48 254.88 178.8 255.01 166.38 255.14 171.33 255.27 153.7 255.4 152.56 255.53 163.78 255.67 130.32 255.8 149.69 255.93 127.06 256.06 165.95 256.19 152.64 256.32 159.9 256.45 142.19 256.58 133.96 256.71 166.85 256.84 140.38 256.97 144.5 257.1 149.23 257.23 157.42 257.36 149.71 257.49 128.77 257.62 128.61 257.75 167.86 257.88 142.56 258.01 143.96 258.14 131.71 258.27 166.26 258.4 157.43 258.53 138.26 258.66 115.78 258.79 182.8 258.92 137.85 259.05 126.39 259.18 139.17 259.31 126.86 259.44 148.36 259.57 137.98 259.7 125.96 259.83 161.46 259.96 132.26 260.09 113.19 260.22 154.96 260.36 138.06 260.49 127.81 260.62 116.79 260.75 135.14 260.88 136.99 261.01 139.29 261.14 138.91 261.27 172.53 261.4 168.62 261.53 154.44 261.66 159.22 261.79 139.79 261.92 120.8 262.05 158.59 262.18 174.64 262.31 135.23 262.44 135.31 262.57 135.17 262.7 123.31 262.83 158.9 262.96 127.82 263.09 174.6 263.22 180.11 263.35 150.08 263.48 147.63 263.61 132.21 263.74 165.63 263.87 150.06 264 120.14 264.13 130.68 264.26 157.35 264.39 138.98 264.52 156.8 264.65 153.15 264.78 175.73 264.91 146.55 265.05 168.57 265.18 169.44 265.31 173.57 265.44 141.88 265.57 153.74 265.7 196.79 265.83 144.72 265.96 136.91 266.09 150.7 266.22 126.02 266.35 132.21 266.48 140.28 266.61 143.02 266.74 167.51 266.87 127.56 267 144.91 267.13 153.38 267.26 142.85 267.39 162.5 267.52 190.86 267.65 127.88 267.78 131.88 267.91 138.66 268.04 138.06 268.17 138.1 268.3 156.41 268.43 181.53 268.56 195.22 268.69 146.87 268.82 109.36 268.95 178.05 269.08 148.66 269.21 140.53 269.34 169.26 269.47 146.22 269.6 144.12 269.73 131.77 269.87 165.9 270 164.44 270.13 132.2 270.26 137.73 270.39 171.93 270.52 134.71 270.65 140.45 270.78 133.79 270.91 143.83 271.04 164.72 271.17 149.53 271.3 167.3 271.43 159.8 271.56 109.97 271.69 148.09 271.82 147.95 271.95 116.76 272.08 163.23 272.21 147.4 272.34 138.78 272.47 158.23 272.6 166.65 272.73 162.09 272.86 138.37 272.99 147.65 273.12 194.9 273.25 123.73 273.38 149.74 273.51 148.99 273.64 176.89 273.77 160.03 273.9 152.58 274.03 142.73 274.16 171.93 274.29 149.68 274.42 146.52 274.56 151.56 274.69 161.43 274.82 149.08 274.95 153.25 275.08 163.47 275.21 134.62 275.34 143.82 275.47 149.7 275.6 161.35 275.73 158.99 275.86 139.2 275.99 128.74 276.12 141.24 276.25 138.84 276.38 165.28 276.51 160.44 276.64 149.56 276.77 127.86 276.9 123.54 277.03 150.68 277.16 159.95 277.29 155.49 277.42 143.53 277.55 159.18 277.68 110.9 277.81 170.14 277.94 176.92 278.07 151.65 278.2 152.9 278.33 144.4 278.46 165.34 278.59 130.96 278.72 137.38 278.85 155.91 278.98 121.29 279.11 157.69 279.25 157.03 279.38 148.11 279.51 138.9 279.64 181.52 279.77 138.15 279.9 151.27 280.03 163.65 280.16 148.07 280.29 168.25 280.42 148.37 280.55 153.2 280.68 148.19 280.81 160.84 280.94 136.05 281.07 165.25 281.2 167.97 281.33 128.52 281.46 119.91 281.59 123.12 281.72 133.18 281.85 161.42 281.98 149.56 282.11 184.09 282.24 178.3 282.37 119.23 282.5 140.94 282.63 142.6 282.76 178.84 282.89 163.22 283.02 165.94 283.15 132.89 283.28 186.9 283.41 127.36 283.54 148.87 283.67 130.05 283.8 131.29 283.93 153.12 284.07 131.29 284.2 161.36 284.33 158.18 284.46 149.39 284.59 160.43 284.72 169.71 284.85 169.05 284.98 126.69 285.11 160.73 285.24 165.29 285.37 141.18 285.5 140.97 285.63 171.26 285.76 160.87 285.89 150.82 286.02 175.55 286.15 166.02 286.28 181.26 286.41 140.95 286.54 167.01 286.67 110.63 286.8 136.08 286.93 180.05 287.06 129.92 287.19 145.44 287.32 141.72 287.45 157.41 287.58 169.99 287.71 178.76 287.84 145.46 287.97 154.7 288.1 164.96 288.23 170.31 288.36 143.03 288.49 174.07 288.62 121 288.76 153.61 288.89 122.16 289.02 139.54 289.15 133.3 289.28 181.97 289.41 180.09 289.54 163.1 289.67 151.39 289.8 111.2 289.93 116.04 290.06 151.86 290.19 162.18 290.32 158.07 290.45 134.5 290.58 133.6 290.71 158.59 290.84 191.46 290.97 162.17 291.1 147.59 291.23 146.21 291.36 156.71 291.49 154.19 291.62 121.17 291.75 177.62 291.88 156.97 292.01 158.89 292.14 139.76 292.27 169.36 292.4 167.55 292.53 134.53 292.66 167.82 292.79 134.79 292.92 113.27 293.05 164.23 293.18 129.46 293.31 137.82 293.44 130.55 293.58 146.92 293.71 141.5 293.84 151.35 293.97 157.26 294.1 179.28 294.23 156.98 294.36 157.97 294.49 157.63 294.62 163.76 294.75 165.41 294.88 153.78 295.01 126.23 295.14 130.12 295.27 153.76 295.4 142.3 295.53 140.54 295.66 138.44 295.79 134.67 295.92 169.09 296.05 163.17 296.18 124.21 296.31 151.91 296.44 147.97 296.57 139.54 296.7 168.2 296.83 154.38 296.96 149.71 297.09 132.02 297.22 166.37 297.35 153.02 297.48 153.68 297.61 135.21 297.74 176.68 297.87 89.55 298 121.92 298.13 116.75 298.27 123.8 298.4 128.79 298.53 138.69 298.66 141.99 298.79 152.01 298.92 174.01 299.05 159.03 299.18 150.67 299.31 145.42 299.44 155.49 299.57 163.63 299.7 134.4 299.83 181.53 299.96 148.06 300.09 164.55 300.22 101.81 300.35 151.94 300.48 140.87 300.61 174.19 300.74 167.56 300.87 154.37 301 160.24 301.13 142.43 301.26 131.13 301.39 170.02 301.52 125.49 301.65 138.34 301.78 126.18 301.91 130.34 302.04 140.51 302.17 164.18 302.3 129.88 302.43 162.23 302.56 113.01 302.69 132.5 302.82 131.84 302.96 160.94 303.09 173.41 303.22 104.4 303.35 149.68 303.48 179.04 303.61 148.77 303.74 179.54 303.87 170.25 304 153.72 304.13 121.64 304.26 135.76 304.39 177.64 304.52 131.46 304.65 127.75 304.78 139.7 304.91 172.32 305.04 150.3 305.17 119.38 305.3 136.38 305.43 161.14 305.56 170.13 305.69 177.28 305.82 158.04 305.95 157.17 306.08 129.94 306.21 137.62 306.34 122.42 306.47 145.6 306.6 156.01 306.73 149.2 306.86 130.47 306.99 159.15 307.12 165.73 307.25 171.79 307.38 107.38 307.51 102.45 307.64 127.66 307.78 158.51 307.91 167.86 308.04 162.16 308.17 149.03 308.3 153.05 308.43 143.65 308.56 135.49 308.69 129.59 308.82 208.51 308.95 143.59 309.08 158.89 309.21 158.67 309.34 165.28 309.47 147.39 309.6 166.01 309.73 186.24 309.86 136.22 309.99 137.35 310.12 129.4 310.25 141.58 310.38 125.05 310.51 154.59 310.64 160.99 310.77 171.31 310.9 172.74 311.03 141.23 311.16 151.92 311.29 133.25 311.42 149.52 311.55 150.08 311.68 157.8 311.81 147.18 311.94 128.1 312.07 167.27 312.2 145.75 312.33 122.06 312.47 115.89 312.6 161.24 312.73 114.56 312.86 161.09 312.99 176.97 313.12 158.42 313.25 163.71 313.38 159.1 313.51 137.01 313.64 152.5 313.77 113 313.9 160.03 314.03 160.45 314.16 151.13 314.29 168.83 314.42 145.13 314.55 116.02 314.68 175.1 314.81 150.2 314.94 136.73 315.07 138.51 315.2 141.39 315.33 152.2 315.46 124.39 315.59 150.39 315.72 141.66 315.85 160.65 315.98 142.3 316.11 160.33 316.24 131.69 316.37 155.04 316.5 142.64 316.63 168.45 316.76 155.38 316.89 167.57 317.02 139.31 317.16 136.93 317.29 147.77 317.42 128.91 317.55 143.19 317.68 172.1 317.81 128.08 317.94 137.61 318.07 149.8 318.2 179.09 318.33 188.48 318.46 137.9 318.59 139.59 318.72 153.26 318.85 136 318.98 111 319.11 159.39 319.24 155.35 319.37 153.66 319.5 158.61" fill="none" stroke="#00ff00" stroke-width="1.2"/>
<path d="M58.95 523.08 59.08 480.35 59.21 493.59 59.34 467.62 59.47 468.8 59.6 479.02 59.73 470.23 59.86 485.73 59.99 505.54 60.12 486.12 60.25 492.62 60.38 492.84 60.51 467.54 60.64 510.19 60.77 493.89 60.9 500.1 61.03 437.46 61.16 494 61.29 509.6 61.43 471.68 61.56 498.35 61.69 462.23 61.82 499.54 61.95 490.37 62.08 479.19 62.21 494.44 62.34 472.27 62.47 491.66 62.6 509.85 62.73 482.81 62.86 500.41 62.99 485.75 63.12 491.06 63.25 495.61 63.38 504.35 63.51 502.2 63.64 504.54 63.77 493.28 63.9 489.38 64.03 508.13 64.16 500.34 64.29 504.79 64.42 516.18 64.55 528.64 64.68 530.81 64.81 504.89 64.94 536.9 65.07 525.8 65.2 509.41 65.33 483.64 65.46 523.39 65.59 537.32 65.72 535.05 65.85 523.53 65.98 514.91 66.12 526.9 66.25 521.93 66.38 512.71 66.51 490.07 66.64 514.27 66.77 518.87 66.9 528.73 67.03 530.21 67.16 509.36 67.29 519.18 67.42 516.7 67.55 514.9 67.68 527.61 67.81 518.48 67.94 516.31 68.07 525.01 68.2 521.3 68.33 522.15 68.46 519.91 68.59 522.21 68.72 549.64 68.85 528.78 68.98 531.66 69.11 519.29 69.24 511.48 69.37 566.76 69.5 536.86 69.63 527.78 69.76 528.97 69.89 515.06 70.02 542.77 70.15 526.31 70.28 519.92 70.41 525.33 70.54 530.51 70.67 504.61 70.81 535.72 70.94 526.31 71.07 497.75 71.2 529.78 71.33 500.56 71.46 524.8 71.59 513.98 71.72 533 71.85 550.8 71.98 527.58 72.11 536.57 72.24 503.15 72.37 540.37 72.5 544.41 72.63 545.07 72.76 518.22 72.89 542.62 73.02 554.55 73.15 560.83 73.28 531.46 73.41 552.28 73.54 530.62 73.67 534.55 73.8 526.09 73.93 530.85 74.06 537.36 74.19 535.38 74.32 537.68 74.45 539.93 74.58 523.42 74.71 522.1 74.84 568.26 74.97 531.82 75.1 545.87 75.23 535.31 75.36 525.64 75.49 539.75 75.63 519.43 75.76 525.57 75.89 543.58 76.02 515.41 76.15 536.35 76.28 552.13 76.41 535.94 76.54 537.27 76.67 551.97 76.8 541.09 76.93 555.59 77.06 552.94 77.19 538.74 77.32 545.07 77.45 543.01 77.58 548.29 77.71 542.55 77.84 556.16 77.97 527.33 78.1 542.23 78.23 533.44 78.36 532.12 78.49 570.54 78.62 519.76 78.75 538.25 78.88 525.29 79.01 521.74 79.14 539.34 79.27 554.96 79.4 545.7 79.53 532.2 79.66 539.86 79.79 562.83 79.92 555.87 80.05 530.15 80.18 554.72 80.32 559.26 80.45 532.79 80.58 532.14 80.71 582.08 80.84 540.54 80.97 544.64 81.1 540.13 81.23 536.81 81.36 533.57 81.49 568.85 81.62 542.05 81.75 541.12 81.88 529.46 82.01 548.03 82.14 533.99 82.27 544.71 82.4 539.21 82.53 541.11 82.66 541.23 82.79 557.79 82.92 549.65 83.05 542.27 83.18 544.93 83.31 535.4 83.44 532.01 83.57 538.76 83.7 521.77 83.83 550.65 83.96 539.51 84.09 549.84 84.22 549.7 84.35 549.64 84.48 557.72 84.61 529.22 84.74 567.14 84.87 540.47 85 566.8 85.14 549.41 85.27 550.16 85.4 523.76 85.53 533 85.66 546.72 85.79 521.96 85.92 553.55 86.05 544.74 86.18 564.26 86.31 511.77 86.44 552.08 86.57 558.27 86.7 516 86.83 553.51 86.96 537.13 87.09 549.41 87.22 564.04 87.35 546.78 87.48 562.83 87.61 534.04 87.74 519 87.87 525.35 88 534.5 88.13 559.19 88.26 555.83 88.39 556.34 88.52 548.26 88.65 543.84 88.78 551.18 88.91 574.64 89.04 564.33 89.17 569.35 89.3 547.33 89.43 557.17 89.56 557.61 89.69 551.46 89.83 570.26 89.96 542.71 90.09 535.27 90.22 542.4 90.35 548.31 90.48 515.57 90.61 540.59 90.74 549.78 90.87 543.19 91 527.13 91.13 547.39 91.26 548.42 91.39 580.19 91.52 528.3 91.65 555.4 91.78 511.59 91.91 576.54 92.04 553.99 92.17 531.95 92.3 559.75 92.43 562.51 92.56 569.3 92.69 553.98 92.82 557.15 92.95 544.46 93.08 534.24 93.21 549.62 93.34 532.11 93.47 563.44 93.6 571.44 93.73 542.22 93.86 514.91 93.99 557.27 94.12 539.54 94.25 571.77 94.38 537.96 94.52 530.86 94.65 557.34 94.78 543.1 94.91 540.82 95.04 541.35 95.17 531.82 95.3 517.37 95.43 550.07 95.56 549.92 95.69 529.61 95.82 556.63 95.95 567.09 96.08 537.86 96.21 552.86 96.34 549.39 96.47 573.54 96.6 543.84 96.73 527.59 96.86 532.74 96.99 556.96 97.12 547.72 97.25 561.9 97.38 529.8 97.51 559.56 97.64 574.68 97.77 544.29 97.9 547.51 98.03 554.96 98.16 545.05 98.29 540.81 98.42 542.57 98.55 552.08 98.68 571.02 98.81 543.1 98.94 554.6 99.07 558.09 99.2 551.53 99.34 569.2 99.47 553.07 99.6 563.71 99.73 534.93 99.86 553.34 99.99 536.42 100.12 547.05 100.25 541.46 100.38 551.19 100.51 569.83 100.64 558.8 100.77 554.09 100.9 553.34 101.03 544.32 101.16 553.22 101.29 528.16 101.42 535.55 101.55 565.38 101.68 559.95 101.81 525.55 101.94 559 102.07 559.77 102.2 541.65 102.33 564.26 102.46 552.9 102.59 555.49 102.72 518.59 102.85 540.37 102.98 541.71 103.11 566.83 103.24 542.21 103.37 564.08 103.5 562.12 103.63 544.79 103.76 543.99 103.89 540.52 104.03 522.99 104.16 546.2 104.29 577.47 104.42 566.23 104.55 547 104.68 573.35 104.81 559.85 104.94 534 105.07 532.54 105.2 571.08 105.33 570.93 105.46 565.22 105.59 540.45 105.72 565.21 105.85 569.27 105.98 533.54 106.11 545.69 106.24 545.3 106.37 555.9 106.5 569.95 106.63 555.54 106.76 565.72 106.89 561.01 107.02 552.48 107.15 560.16 107.28 541.66 107.41 546.11 107.54 563.8 107.67 568.39 107.8 561.81 107.93 562.18 108.06 567.83 108.19 546.57 108.32 583.78 108.45 568.14 108.58 547.24 108.72 533.49 108.85 529.24 108.98 551.57 109.11 560.42 109.24 555.33 109.37 563.89 109.5 548.65 109.63 542.21 109.76 538.95 109.89 574.72 110.02 557.47 110.15 580.6 110.28 545.05 110.41 544.05 110.54 560.62 110.67 543.09 110.8 578.4 110.93 532.29 111.06 532.97 111.19 554.51 111.32 577.23 111.45 547.45 111.58 555.09 111.71 526.08 111.84 576.94 111.97 545.53 112.1 566.74 112.23 553.43 112.36 539.69 112.49 540.18 112.62 545.38 112.75 565.65 112.88 571.43 113.01 587.09 113.14 545.19 113.27 568.01 113.4 562.31 113.54 549.42 113.67 562.36 113.8 553.32 113.93 568.24 114.06 557.5 114.19 534.94 114.32 579.92 114.45 573.18 114.58 539 114.71 538.75 114.84 562.2 114.97 557.5 115.1 582.25 115.23 546.26 115.36 562.75 115.49 550 115.62 549.08 115.75 542.1 115.88 585.18 116.01 561.89 116.14 559.8 116.27 558.44 116.4 565.8 116.53 545.86 116.66 560.6 116.79 549.48 116.92 564.4 117.05 556.64 117.18 575.03 117.31 548.3 117.44 567.28 117.57 556.03 117.7 550.4 117.83 572.71 117.96 577.43 118.09 533.04 118.23 566.12 118.36 567.2 118.49 568.42 118.62 562.86 118.75 544.82 118.88 557.79 119.01 536.06 119.14 516.73 119.27 585.88 119.4 542.95 119.53 565.74 119.66 546.48 119.79 547.1 119.92 565.72 120.05 539.19 120.18 540.5 120.31 546.3 120.44 598.38 120.57 551.6 120.7 564.17 120.83 542.42 120.96 540.85 121.09 564.87 121.22 562.26 121.35 557.66 121.48 563.2 121.61 555.5 121.74 575.66 121.87 547.46 122 560.68 122.13 552.83 122.26 546.97 122.39 579.78 122.52 562.53 122.65 556.15 122.78 550.57 122.92 562.9 123.05 568.64 123.18 572.77 123.31 587.77 123.44 576.64 123.57 553.12 123.7 552.14 123.83 564.38 123.96 549.52 124.09 537.68 124.22 557.98 124.35 566.73 124.48 568.78 124.61 564.73 124.74 559.4 124.87 579.05 125 542.88 125.13 534.47 125.26 552.8 125.39 561.47 125.52 550.37 125.65 548.32 125.78 556.3 125.91 561.02 126.04 560.51 126.17 557.06 126.3 560.53 126.43 558.97 126.56 569.58 126.69 535.67 126.82 536.25 126.95 574.71 127.08 543.09 127.21 524.1 127.34 554.56 127.47 559.49 127.6 561.76 127.74 564.3 127.87 537.71 128 559.44 128.13 569.5 128.26 551.56 128.39 570.53 128.52 543.07 128.65 562.35 128.78 563.75 128.91 531.08 129.04 541.09 129.17 549.85 129.3 550.82 129.43 579.83 129.56 566.34 129.69 555.21 129.82 549.63 129.95 534.86 130.08 554.13 130.21 553.09 130.34 546.98 130.47 553.02 130.6 562.54 130.73 573.78 130.86 543.82 130.99 540.26 131.12 555.01 131.25 533.86 131.38 551.69 131.51 556.81 131.64 559.82 131.77 529.76 131.9 566 132.03 539.54 132.16 565.3 132.29 558.38 132.43 571.93 132.56 568.93 132.69 547.31 132.82 553.62 132.95 594.14 133.08 545.33 133.21 569.03 133.34 546.72 133.47 553.62 133.6 565.62 133.73 566.15 133.86 536.32 133.99 550.9 134.12 586.58 134.25 542.79 134.38 549.99 134.51 536.5 134.64 567.76 134.77 536.03 134.9 562 135.03 572.23 135.16 571.65 135.29 551.83 135.42 587.32 135.55 559.07 135.68 568.77 135.81 542.34 135.94 552.84 136.07 524.19 136.2 551.05 136.33 563.66 136.46 579.67 136.59 547.47 136.72 532.69 136.85 541.33 136.98 561.32 137.12 547.07 137.25 569.58 137.38 555.98 137.51 565.55 137.64 547.01 137.77 557.65 137.9 537.94 138.03 559.83 138.16 553.07 138.29 564.4 138.42 533.86 138.55 538.87 138.68 559.7 138.81 575.75 138.94 540.13 139.07 531.3 139.2 551.2 139.33 545.11 139.46 563.5 139.59 582.54 139.72 555.59 139.85 558.46 139.98 562.81 140.11 549.38 140.24 551.45 140.37 567.86 140.5 555.44 140.63 579.23 140.76 547.81 140.89 569.16 141.02 532.63 141.15 569.45 141.28 575.01 141.41 558.46 141.54 561.83 141.67 562.33 141.8 545.45 141.94 547.68 142.07 573.81 142.2 563.87 142.33 574 142.46 545.77 142.59 530.65 142.72 557.05 142.85 563.4 142.98 552.2 143.11 545.05 143.24 591.56 143.37 564.94 143.5 552.01 143.63 547.97 143.76 528.44 143.89 537.65 144.02 544.26 144.15 546 144.28 554.77 144.41 557.52 144.54 561.32 144.67 552.4 144.8 549.62 144.93 546.05 145.06 546.5 145.19 521.42 145.32 571.18 145.45 543.74 145.58 566.56 145.71 549.11 145.84 563.18 145.97 559.22 146.1 573.77 146.23 558.92 146.36 550.69 146.49 576.55 146.63 549.19 146.76 577.51 146.89 563.8 147.02 542.36 147.15 566.35 147.28 570.14 147.41 566.5 147.54 531.59 147.67 553.26 147.8 536.86 147.93 545.51 148.06 555.4 148.19 546.32 148.32 572.5 148.45 558.91 148.58 561.82 148.71 562.13 148.84 548.65 148.97 572.38 149.1 540.99 149.23 542.68 149.36 562.6 149.49 554.05 149.62 550.71 149.75 554.23 149.88 549.01 150.01 542.95 150.14 564.25 150.27 565.91 150.4 547.77 150.53 542.7 150.66 568.99 150.79 551.82 150.92 539.06 151.05 583.71 151.18 551.05 151.31 552.2 151.45 559.3 151.58 543.13 151.71 575.64 151.84 549.82 151.97 566.7 152.1 527.78 152.23 519.08 152.36 554.22 152.49 569.29 152.62 558.5 152.75 557.38 152.88 554.85 153.01 531.17 153.14 508.76 153.27 550.27 153.4 528.62 153.53 572.22 153.66 564.69 153.79 544.61 153.92 546.7 154.05 534.31 154.18 568.69 154.31 558.69 154.44 560.12 154.57 525.35 154.7 535.85 154.83 566.39 154.96 537.5 155.09 547.83 155.22 586.19 155.35 566.85 155.48 559.12 155.61 563.62 155.74 526.95 155.87 530.77 156 574.39 156.14 571.22 156.27 568.8 156.4 565.93 156.53 560.73 156.66 557.03 156.79 557.93 156.92 542.49 157.05 565.88 157.18 552.42 157.31 576.81 157.44 572.77 157.57 562.02 157.7 542.13 157.83 553.92 157.96 562.84 158.09 552.65 158.22 542.22 158.35 563.48 158.48 529.55 158.61 584.09 158.74 540.93 158.87 548.92 159 542.18 159.13 562.09 159.26 580.86 159.39 548.68 159.52 551.34 159.65 549.64 159.78 550.25 159.91 552.26 160.04 554.62 160.17 558.94 160.3 545.5 160.43 518.62 160.56 544.42 160.69 542.3 160.83 556.41 160.96 571.91 161.09 541.83 161.22 559.78 161.35 555.23 161.48 566.44 161.61 556.6 161.74 521.16 161.87 565.09 162 538.49 162.13 568.4 162.26 558.57 162.39 577.02 162.52 524.05 162.65 538.74 162.78 550.96 162.91 552.26 163.04 546.53 163.17 553.25 163.3 543.21 163.43 565.58 163.56 543.41 163.69 547.03 163.82 540.87 163.95 540.94 164.08 553.02 164.21 579.37 164.34 549.37 164.47 541.6 164.6 564.65 164.73 575.45 164.86 542.27 164.99 535.8 165.12 526.84 165.25 570.77 165.38 569.43 165.51 545.28 165.65 545.39 165.78 592.9 165.91 547.89 166.04 541.17 166.17 569.03 166.3 558.64 166.43 534.5 166.56 539.82 166.69 575.9 166.82 551.78 166.95 563.03 167.08 545.88 167.21 538.68 167.34 542.36 167.47 565.61 167.6 582.38 167.73 554.5 167.86 530.19 167.99 573.85 168.12 543.3 168.25 550.24 168.38 541.37 168.51 536.53 168.64 573.41 168.77 543.55 168.9 549.29 169.03 543.9 169.16 571.72 169.29 560.42 169.42 582.19 169.55 578.95 169.68 543.82 169.81 571.3 169.94 555.53 170.07 547.55 170.2 562.83 170.34 545.49 170.47 573.41 170.6 565.85 170.73 530.26 170.86 574.94 170.99 550.49 171.12 558.65 171.25 560.01 171.38 556.89 171.51 533.86 171.64 557.41 171.77 568.61 171.9 560.53 172.03 526.23 172.16 560.61 172.29 585.15 172.42 551.12 172.55 544.45 172.68 542.15 172.81 559.81 172.94 575.88 173.07 562.61 173.2 566.98 173.33 565.43 173.46 540.25 173.59 554.1 173.72 540.66 173.85 553.37 173.98 573.12 174.11 546.95 174.24 551.76 174.37 579.22 174.5 523.21 174.63 560.94 174.76 566.15 174.89 565.09 175.03 535.29 175.16 559.46 175.29 575.24 175.42 558.6 175.55 584.91 175.68 541.9 175.81 547.55 175.94 564.17 176.07 568.88 176.2 543.13 176.33 558.78 176.46 560.54 176.59 565.08 176.72 546.47 176.85 525.52 176.98 567.49 177.11 540.07 177.24 558.44 177.37 549.08 177.5 562.04 177.63 578.09 177.76 562.47 177.89 556.54 178.02 558.19 178.15 547.17 178.28 562.19 178.41 569.65 178.54 557.56 178.67 554.72 178.8 565.24 178.93 548 179.06 541.89 179.19 549.5 179.32 582.5 179.45 581.45 179.58 568.1 179.71 579.59 179.85 567.88 179.98 545.64 180.11 561.48 180.24 555.21 180.37 566.34 180.5 569.66 180.63 579.65 180.76 568.24 180.89 531.23 181.02 552.23 181.15 555.73 181.28 559.76 181.41 564.03 181.54 550.27 181.67 550.06 181.8 560.18 181.93 542.84 182.06 548.2 182.19 557.78 182.32 560.32 182.45 543.39 182.58 577.8 182.71 562.33 182.84 564.97 182.97 541.57 183.1 542.72 183.23 563.38 183.36 537.1 183.49 561.37 183.62 549.76 183.75 559.54 183.88 554.86 184.01 561.4 184.14 561.04 184.27 559.14 184.4 539.75 184.54 590.67 184.67 538.1 184.8 575.34 184.93 550.66 185.06 535.15 185.19 585.35 185.32 555.46 185.45 547.1 185.58 553.75 185.71 555.54 185.84 576.78 185.97 558.73 186.1 551.06 186.23 528.6 186.36 556.65 186.49 548.73 186.62 553.45 186.75 516.29 186.88 549.23 187.01 541.82 187.14 555.05 187.27 570.67 187.4 538.97 187.53 537.93 187.66 582.81 187.79 579.52 187.92 571.77 188.05 552.23 188.18 564.05 188.31 551.61 188.44 551.82 188.57 574.31 188.7 568.79 188.83 542.91 188.96 582.17 189.09 570.98 189.23 530.26 189.36 541.03 189.49 552.68 189.62 563.07 189.75 557.24 189.88 553.65 190.01 534.38 190.14 552.88 190.27 531.5 190.4 523.17 190.53 528.56 190.66 572.43 190.79 536.06 190.92 532.08 191.05 556.42 191.18 574.27 191.31 538.46 191.44 536.6 191.57 533.9 191.7 526.03 191.83 516.73 191.96 549.09 192.09 538.76 192.22 547.37 192.35 505.59 192.48 527.22 192.61 557.6 192.74 547.72 192.87 531.51 193 523.78 193.13 521.49 193.26 514.46 193.39 526.37 193.52 513.07 193.65 523.1 193.78 544.69 193.91 529.79 194.05 543.75 194.18 521.84 194.31 530.73 194.44 527.9 194.57 538.96 194.7 510.93 194.83 536.27 194.96 524.14 195.09 512.79 195.22 511.14 195.35 518.5 195.48 523.53 195.61 529.67 195.74 553.56 195.87 512.67 196 524.76 196.13 512.36 196.26 523.48 196.39 524.58 196.52 513.97 196.65 532.55 196.78 532.75 196.91 518.06 197.04 506.84 197.17 491.36 197.3 516.41 197.43 516.47 197.56 519.16 197.69 501.43 197.82 511.23 197.95 521.69 198.08 512.37 198.21 524.45 198.34 512.44 198.47 522.91 198.6 486.09 198.74 508.89 198.87 506.01 199 524.85 199.13 483.32 199.26 513.14 199.39 514.25 199.52 468.24 199.65 521.26 199.78 531.83 199.91 503.38 200.04 526.25 200.17 489.47 200.3 504.4 200.43 504.83 200.56 511.9 200.69 539.32 200.82 507.91 200.95 517.98 201.08 495.28 201.21 528.42 201.34 519.65 201.47 488.64 201.6 504.29 201.73 498.79 201.86 497.46 201.99 508.75 202.12 529.06 202.25 499.06 202.38 461.9 202.51 467.59 202.64 517.73 202.77 514.99 202.9 490.74 203.03 508.04 203.16 495.81 203.29 524.6 203.42 511.85 203.56 511.24 203.69 513.49 203.82 498.11 203.95 478.15 204.08 504.1 204.21 523.86 204.34 516.64 204.47 503.54 204.6 512.85 204.73 487.44 204.86 482.08 204.99 544.21 205.12 493.88 205.25 472.27 205.38 523.67 205.51 476.59 205.64 472.84 205.77 484.5 205.9 485.29 206.03 495.93 206.16 493.89 206.29 506.62 206.42 515.08 206.55 498.43 206.68 469.62 206.81 513.28 206.94 518.39 207.07 502.37 207.2 498.58 207.33 506.01 207.46 484.43 207.59 528.38 207.72 483.79 207.85 480.64 207.98 495 208.11 497.12 208.25 466.86 208.38 521.29 208.51 472.36 208.64 499.69 208.77 495.45 208.9 488.97 209.03 485.45 209.16 505.12 209.29 493.64 209.42 505.28 209.55 488.02 209.68 484.08 209.81 486.81 209.94 479.5 210.07 485.76 210.2 483.1 210.33 493.98 210.46 475.73 210.59 508.57 210.72 457.36 210.85 487.17 210.98 488.17 211.11 463.47 211.24 518.45 211.37 475.3 211.5 469.4 211.63 455.36 211.76 493.88 211.89 505.12 212.02 477.7 212.15 482.8 212.28 484.75 212.41 497.88 212.54 488.52 212.67 482.88 212.8 460.58 212.94 491.41 213.07 457.97 213.2 490.86 213.33 488.02 213.46 487.16 213.59 489.87 213.72 458.77 213.85 469.97 213.98 492.27 214.11 482.68 214.24 475.65 214.37 468.2 214.5 478.3 214.63 473.98 214.76 488.72 214.89 515.79 215.02 504.65 215.15 472.97 215.28 482.23 215.41 484.69 215.54 483.83 215.67 495.94 215.8 485.87 215.93 495.28 216.06 474.59 216.19 466.35 216.32 498.87 216.45 512.49 216.58 520.56 216.71 484.91 216.84 466.84 216.97 474.35 217.1 480.21 217.23 505.94 217.36 491.27 217.49 477.48 217.62 501.23 217.76 502.67 217.89 484.07 218.02 490.71 218.15 474.7 218.28 484.28 218.41 486.39 218.54 495.03 218.67 506.38 218.8 496.9 218.93 464.35 219.06 475.06 219.19 476.85 219.32 507.07 219.45 538.07 219.58 469.35 219.71 494.91 219.84 486.2 219.97 496.61 220.1 491.47 220.23 472 220.36 466.32 220.49 460.15 220.62 511.71 220.75 448.09 220.88 448.56 221.01 464.01 221.14 491.59 221.27 496.64 221.4 492.53 221.53 475.83 221.66 473.79 221.79 476.61 221.92 476.6 222.05 462.93 222.18 486.53 222.31 473.67 222.45 482.78 222.58 486.77 222.71 494.53 222.84 472.78 222.97 469.09 223.1 485.42 223.23 493.8 223.36 478.57 223.49 488.58 223.62 467.6 223.75 472.66 223.88 480.81 224.01 481.85 224.14 484.81 224.27 478.79 224.4 489.93 224.53 488.83 224.66 489.1 224.79 448.29 224.92 481.36 225.05 471.05 225.18 482.67 225.31 477.56 225.44 485.93 225.57 485.1 225.7 462.85 225.83 473.07 225.96 456.14 226.09 455.56 226.22 480.72 226.35 456.75 226.48 494.93 226.61 508.07 226.74 503.66 226.87 467.1 227 499.93 227.14 491.11 227.27 462.46 227.4 477.88 227.53 477.25 227.66 504.44 227.79 488.48 227.92 456.93 228.05 472.37 228.18 501.94 228.31 498.29 228.44 490.92 228.57 481.29 228.7 480 228.83 496.16 228.96 492.3 229.09 495.57 229.22 477.93 229.35 467.84 229.48 464.54 229.61 500 229.74 447.7 229.87 484.72 230 467.7 230.13 506.57 230.26 492.53 230.39 474.93 230.52 502.98 230.65 484.98 230.78 472.71 230.91 484.35 231.04 493.23 231.17 494.72 231.3 455.91 231.43 490.49 231.56 478.55 231.69 458.21 231.82 458.74 231.96 465.39 232.09 492.26 232.22 483.41 232.35 506.73 232.48 463.43 232.61 484.67 232.74 471.84 232.87 468.4 233 484.88 233.13 464.12 233.26 457.95 233.39 488.57 233.52 467.46 233.65 459.19 233.78 497.04 233.91 460.22 234.04 461.43 234.17 489.86 234.3 481.74 234.43 474.89 234.56 469.07 234.69 463.77 234.82 472.58 234.95 482.58 235.08 472.79 235.21 501.55 235.34 509.8 235.47 450.47 235.6 479.2 235.73 448.9 235.86 482.28 235.99 470.69 236.12 467.74 236.25 451.44 236.38 478.41 236.51 466.74 236.65 473.84 236.78 464.69 236.91 457.07 237.04 487.69 237.17 474.69 237.3 471.23 237.43 474.95 237.56 474.23 237.69 485.22 237.82 503.8 237.95 487.41 238.08 472.35 238.21 478.85 238.34 468.98 238.47 464.77 238.6 478.15 238.73 491.13 238.86 485.63 238.99 451.5 239.12 468.97 239.25 487.32 239.38 484.99 239.51 487.67 239.64 478.12 239.77 475.14 239.9 504.19 240.03 487.06 240.16 474.08 240.29 460.5 240.42 479.73 240.55 441.67 240.68 479.86 240.81 481.57 240.94 476.51 241.07 463.05 241.2 487.29 241.33 467.38 241.47 463.48 241.6 480.47 241.73 471.78 241.86 451.52 241.99 484.16 242.12 481.86 242.25 485.39 242.38 471.67 242.51 472.26 242.64 470.53 242.77 475.52 242.9 482.56 243.03 489.47 243.16 481.62 243.29 458.32 243.42 461.91 243.55 464.88 243.68 446.36 243.81 501.13 243.94 460.87 244.07 466.15 244.2 487.37 244.33 481.92 244.46 446.82 244.59 459.1 244.72 476.07 244.85 472.86 244.98 480.93 245.11 468.18 245.24 469.72 245.37 472.15 245.5 500.2 245.63 486.65 245.76 457.96 245.89 479.1 246.02 471.98 246.16 458.92 246.29 466.43 246.42 483.65 246.55 466.77 246.68 475.3 246.81 475.29 246.94 503.32 247.07 464.79 247.2 496.41 247.33 470.42 247.46 462.82 247.59 480.1 247.72 464.77 247.85 505.03 247.98 477.88 248.11 477.15 248.24 453.82 248.37 490.07 248.5 470.17 248.63 459.6 248.76 486.01 248.89 485.27 249.02 468.84 249.15 479.09 249.28 441.34 249.41 477.1 249.54 479.85 249.67 487.96 249.8 494.69 249.93 484.5 250.06 511.16 250.19 502.54 250.32 493.75 250.45 457.59 250.58 502.66 250.71 473.44 250.85 483 250.98 471.66 251.11 466.34 251.24 501.82 251.37 467.28 251.5 476.43 251.63 493.67 251.76 453.68 251.89 469.41 252.02 475.45 252.15 495.47 252.28 458.15 252.41 474.82 252.54 462.75 252.67 471.84 252.8 466.16 252.93 486.37 253.06 494.4 253.19 476.41 253.32 488.24 253.45 485.89 253.58 479.19 253.71 455.46 253.84 489.91 253.97 484.17 254.1 450.62 254.23 485.22 254.36 473.51 254.49 508.63 254.62 478.09 254.75 474.35 254.88 459.33 255.01 477.25 255.14 456.63 255.27 455.04 255.4 484.98 255.53 502.58 255.67 503.97 255.8 478.46 255.93 476.7 256.06 480.22 256.19 491.58 256.32 441.82 256.45 463.32 256.58 456.17 256.71 468.31 256.84 483.42 256.97 463.61 257.1 454.57 257.23 475.3 257.36 490.69 257.49 475.45 257.62 488.02 257.75 478.01 257.88 475.64 258.01 485.92 258.14 478.14 258.27 480.91 258.4 458.74 258.53 477.89 258.66 454.83 258.79 491.38 258.92 464.59 259.05 483.45 259.18 477.77 259.31 470.75 259.44 480.64 259.57 472.63 259.7 487.5 259.83 513.62 259.96 472.99 260.09 469.88 260.22 463.6 260.36 472.17 260.49 479.68 260.62 469.22 260.75 479.16 260.88 451.03 261.01 471.55 261.14 458.64 261.27 489.88 261.4 489.32 261.53 447.65 261.66 467.38 261.79 481.47 261.92 489.74 262.05 466.06 262.18 473.69 262.31 498.26 262.44 503.53 262.57 445.83 262.7 468.78 262.83 484.65 262.96 476.78 263.09 488.83 263.22 483.29 263.35 508.23 263.48 473.73 263.61 473.36 263.74 484.38 263.87 481.87 264 489.61 264.13 474.19 264.26 480.31 264.39 467.2 264.52 488.21 264.65 508.95 264.78 491.76 264.91 484.46 265.05 464 265.18 474.38 265.31 477.84 265.44 448.71 265.57 478.33 265.7 488.77 265.83 460.47 265.96 478.16 266.09 460.13 266.22 458.51 266.35 458.69 266.48 505.53 266.61 473.43 266.74 477.67 266.87 461.25 267 485.02 267.13 488.76 267.26 503.59 267.39 462.5 267.52 466.85 267.65 475.09 267.78 484.19 267.91 473.43 268.04 496.94 268.17 467.84 268.3 456.94 268.43 501.03 268.56 481.67 268.69 469.38 268.82 456.36 268.95 448.97 269.08 472.7 269.21 495.12 269.34 472.29 269.47 460.45 269.6 484.08 269.73 483.5 269.87 456.31 270 478.72 270.13 464.58 270.26 468.3 270.39 470.43 270.52 474.51 270.65 475.55 270.78 454.16 270.91 471.85 271.04 490.66 271.17 467.94 271.3 483.36 271.43 469.84 271.56 494.8 271.69 478.03 271.82 468.73 271.95 488.63 272.08 457.17 272.21 462.71 272.34 484.89 272.47 467.06 272.6 459.17 272.73 466.71 272.86 469.19 272.99 459.29 273.12 451.27 273.25 482.33 273.38 501.6 273.51 479.82 273.64 481.19 273.77 484.55 273.9 469.25 274.03 462.79 274.16 473.51 274.29 481.5 274.42 487.38 274.56 480.26 274.69 494.83 274.82 489.24 274.95 480.92 275.08 490.01 275.21 457.03 275.34 487.29 275.47 484.86 275.6 458.19 275.73 478.26 275.86 484.28 275.99 463.95 276.12 471.68 276.25 475.1 276.38 466.81 276.51 471.75 276.64 464.12 276.77 474.96 276.9 485.53 277.03 477.13 277.16 459.73 277.29 450.66 277.42 469.3 277.55 494.35 277.68 479.68 277.81 471.59 277.94 486.07 278.07 481.7 278.2 467.26 278.33 463.81 278.46 484.87 278.59 484.62 278.72 486.05 278.85 493.49 278.98 477.05 279.11 436.73 279.25 435.2 279.38 489.08 279.51 473.4 279.64 483.18 279.77 475.11 279.9 487.09 280.03 490.78 280.16 468.77 280.29 459.14 280.42 490.91 280.55 479.96 280.68 462.53 280.81 477.32 280.94 478.3 281.07 453.09 281.2 490.34 281.33 484.91 281.46 468.37 281.59 452.84 281.72 456.18 281.85 443 281.98 475.74 282.11 462.37 282.24 486.66 282.37 459.7 282.5 460.94 282.63 465.61 282.76 477.01 282.89 454.18 283.02 452.33 283.15 483.16 283.28 455.97 283.41 487.81 283.54 491.72 283.67 467.63 283.8 495.21 283.93 501.57 284.07 478.92 284.2 486.21 284.33 490.94 284.46 480.85 284.59 455.16 284.72 492.01 284.85 483.18 284.98 488.92 285.11 477.02 285.24 473.52 285.37 469.7 285.5 480.85 285.63 478.18 285.76 464.67 285.89 481.04 286.02 482.03 286.15 482.31 286.28 498.18 286.41 479.67 286.54 479.34 286.67 476.91 286.8 480.81 286.93 473.75 287.06 452.7 287.19 464.01 287.32 474.01 287.45 498.61 287.58 482.13 287.71 477.48 287.84 494.66 287.97 487.19 288.1 475.82 288.23 470.79 288.36 462.43 288.49 462.39 288.62 473.56 288.76 471.47 288.89 460.07 289.02 502.55 289.15 481.98 289.28 477.56 289.41 489.88 289.54 457.58 289.67 479.11 289.8 476.95 289.93 469.44 290.06 461.85 290.19 489.98 290.32 466.12 290.45 478.58 290.58 487.08 290.71 441.35 290.84 465.8 290.97 462.63 291.1 485.82 291.23 490.1 291.36 479.33 291.49 464.46 291.62 462.22 291.75 482.58 291.88 469.42 292.01 495.06 292.14 467.36 292.27 507.54 292.4 483.09 292.53 466.2 292.66 479.45 292.79 477.88 292.92 482.45 293.05 462.79 293.18 479.87 293.31 479.67 293.44 478.48 293.58 467.08 293.71 488.42 293.84 470.19 293.97 467.45 294.1 467.12 294.23 472.2 294.36 470.08 294.49 475.82 294.62 483.88 294.75 493.58 294.88 483.73 295.01 478.26 295.14 476.53 295.27 485.11 295.4 468.47 295.53 478.54 295.66 479.66 295.79 473.05 295.92 481.52 296.05 460.78 296.18 477.08 296.31 491.36 296.44 502.36 296.57 455.73 296.7 464.52 296.83 477.99 296.96 499.44 297.09 468.27 297.22 453.39 297.35 490.37 297.48 508.72 297.61 470.98 297.74 478.2 297.87 487.39 298 470.86 298.13 484.35 298.27 470.67 298.4 492.02 298.53 484.16 298.66 456.2 298.79 470.16 298.92 468.04 299.05 466.11 299.18 477.68 299.31 459.44 299.44 488.25 299.57 491.56 299.7 465.86 299.83 490.99 299.96 482.56 300.09 485.76 300.22 474.66 300.35 497.63 300.48 491.28 300.61 478.8 300.74 452.89 300.87 493.44 301 488.93 301.13 488.6 301.26 482.03 301.39 463 301.52 487.14 301.65 473.62 301.78 464.41 301.91 476.99 302.04 475.53 302.17 481.96 302.3 480.12 302.43 456.07 302.56 485.02 302.69 462.67 302.82 485.29 302.96 495.74 303.09 493.32 303.22 469.29 303.35 475.18 303.48 493.94 303.61 492.65 303.74 455.57 303.87 460.18 304 459.77 304.13 484.22 304.26 478.15 304.39 492.21 304.52 477.69 304.65 473.93 304.78 476.78 304.91 484.24 305.04 460.3 305.17 472.29 305.3 439.67 305.43 478.75 305.56 453 305.69 465.34 305.82 463.29 305.95 479.4 306.08 451.78 306.21 468.84 306.34 501.26 306.47 487.04 306.6 490.81 306.73 485.41 306.86 471.79 306.99 489.35 307.12 466.2 307.25 475.56 307.38 468.48 307.51 486.92 307.64 480.04 307.78 451.69 307.91 459.55 308.04 460.64 308.17 469.75 308.3 464.33 308.43 488.16 308.56 470.12 308.69 448.62 308.82 464.42 308.95 494.21 309.08 470.36 309.21 485.57 309.34 490.31 309.47 481.53 309.6 463.4 309.73 465.8 309.86 453.39 309.99 484.45 310.12 455.63 310.25 482.95 310.38 443.76 310.51 464.58 310.64 468.92 310.77 490 310.9 477.94 311.03 464.7 311.16 480.11 311.29 464.44 311.42 486.82 311.55 491.39 311.68 465.27 311.81 472.05 311.94 469.41 312.07 525.77 312.2 454.11 312.33 476.04 312.47 460.77 312.6 485.32 312.73 474.66 312.86 485.08 312.99 487.38 313.12 457.84 313.25 471.72 313.38 490.36 313.51 471.73 313.64 474.68 313.77 441.67 313.9 445.86 314.03 470.24 314.16 461.9 314.29 489.53 314.42 488.83 314.55 457.33 314.68 465.76 314.81 484.98 314.94 468.98 315.07 506.42 315.2 499.72 315.33 447.4 315.46 470.2 315.59 452.2 315.72 457.85 315.85 458.13 315.98 462.88 316.11 453.1 316.24 450.19 316.37 476.85 316.5 438 316.63 468.2 316.76 481.49 316.89 481.37 317.02 491.65 317.16 456.1 317.29 469 317.42 440.5 317.55 484.66 317.68 475.05 317.81 477.65 317.94 455.98 318.07 473 318.2 477.79 318.33 500.12 318.46 486.8 318.59 505.83 318.72 443.32 318.85 488.37 318.98 459.26 319.11 461.59 319.24 484.73 319.37 504.98 319.5 484.73" fill="none" stroke="#ff0000" stroke-width="1.2"/>
<path d="M410.5 169.13 410.69 180.62 410.87 173.21 411.06 165.07 411.24 167.29 411.43 183.67 411.61 181.82 411.8 172.51 411.99 165.83 412.17 171.85 412.36 188.88 412.54 175.28 412.73 209.7 412.92 201.64 413.1 188.37 413.29 192.63 413.47 220.31 413.66 204.76 413.84 185.08 414.03 206.41 414.22 217.28 414.4 194.53 414.59 217.24 414.77 203.94 414.96 214.13 415.14 200.66 415.33 233.5 415.52 205.67 415.7 220.48 415.89 220.33 416.07 224 416.26 246.89 416.45 206.73 416.63 227.82 416.82 219.04 417 236.46 417.19 217.86 417.37 233.18 417.56 215.4 417.75 221.54 417.93 243.41 418.12 221.77 418.3 251.29 418.49 223.97 418.67 250.29 418.86 234.33 419.05 247.4 419.23 255.6 419.42 261.11 419.6 234.1 419.79 224.73 419.98 234 420.16 247.06 420.35 262.85 420.53 236.07 420.72 240.96 420.9 265.32 421.09 254.91 421.28 252.2 421.46 248.13 421.65 252.75 421.83 239.57 422.02 256.21 422.2 259.09 422.39 255.17 422.58 231.61 422.76 268.52 422.95 259.04 423.13 272.24 423.32 261.28 423.5 246.39 423.69 277.44 423.88 271.43 424.06 257.88 424.25 269.44 424.43 260.76 424.62 274.48 424.81 269.03 424.99 269.93 425.18 264.98 425.36 251.82 425.55 272.99 425.73 267.3 425.92 268.81 426.11 273.11 426.29 260.49 426.48 290.26 426.66 262.71 426.85 260.59 427.03 278.14 427.22 254.99 427.41 269.01 427.59 260.12 427.78 264.27 427.96 253.94 428.15 255.6 428.34 262.26 428.52 273.74 428.71 273.3 428.89 267.47 429.08 266.39 429.26 304.58 429.45 263.3 429.64 275.49 429.82 288.93 430.01 279.06 430.19 276.82 430.38 278.14 430.56 268.24 430.75 269.95 430.94 294.66 431.12 286.59 431.31 265.51 431.49 285.29 431.68 272.13 431.87 296.24 432.05 282.96 432.24 281.26 432.42 299 432.61 290.37 432.79 292.73 432.98 283.25 433.17 271.58 433.35 289.81 433.54 281.89 433.72 295.93 433.91 283.02 434.09 296.93 434.28 280.19 434.47 282.91 434.65 275.1 434.84 301.71 435.02 302.91 435.21 291.79 435.4 288.89 435.58 280.82 435.77 293.75 435.95 309.92 436.14 291.53 436.32 298.28 436.51 276.3 436.7 298.57 436.88 299.88 437.07 298.23 437.25 282.56 437.44 310.8 437.62 273.72 437.81 301.69 438 298.71 438.18 302.78 438.37 281.32 438.55 276.57 438.74 287.67 438.93 297.61 439.11 305.15 439.3 304.92 439.48 303.15 439.67 314.52 439.85 300.15 440.04 290.91 440.23 293.49 440.41 316.51 440.6 285.17 440.78 282.45 440.97 294.7 441.15 302.83 441.34 293.34 441.53 317.09 441.71 297.45 441.9 308.85 442.08 289.42 442.27 305.01 442.46 279.11 442.64 312.88 442.83 300.57 443.01 301.05 443.2 321.22 443.38 292.81 443.57 312.25 443.76 299.99 443.94 324.65 444.13 293.68 444.31 304.6 444.5 319.25 444.68 310.08 444.87 288.38 445.06 293.31 445.24 301.27 445.43 298.3 445.61 309.19 445.8 315.92 445.99 308.95 446.17 298.6 446.36 322.45 446.54 325.87 446.73 310.12 446.91 295.25 447.1 280.9 447.29 322.47 447.47 290.16 447.66 302.76 447.84 303.64 448.03 304.4 448.21 298.1 448.4 299.95 448.59 320.15 448.77 294.1 448.96 303.51 449.14 319.17 449.33 299.95 449.51 301.16 449.7 312.67 449.89 313.81 450.07 296.6 450.26 308.14 450.44 296.38 450.63 310.68 450.82 319.09 451 309.27 451.19 300.63 451.37 313.1 451.56 283.34 451.74 313.94 451.93 288.22 452.12 322.39 452.3 308.03 452.49 309.66 452.67 304.88 452.86 306.46 453.04 316.17 453.23 296.64 453.42 305.97 453.6 289.56 453.79 311.25 453.97 311.8 454.16 308.3 454.35 312.25 454.53 312.43 454.72 335.15 454.9 320.82 455.09 311.49 455.27 305.15 455.46 299.45 455.65 308.82 455.83 305.06 456.02 318.33 456.2 300.52 456.39 297.81 456.57 304.82 456.76 314.8 456.95 306.84 457.13 314.44 457.32 293.52 457.5 303.84 457.69 306.55 457.88 312.85 458.06 314.44 458.25 319.38 458.43 295.09 458.62 298.59 458.8 296 458.99 323.5 459.18 302.08 459.36 302.35 459.55 301.63 459.73 319.57 459.92 307.25 460.1 299.81 460.29 306.53 460.48 299.45 460.66 311.19 460.85 324.21 461.03 309.48 461.22 307.03 461.41 300.87 461.59 316.23 461.78 329.56 461.96 293.76 462.15 294.98 462.33 327.65 462.52 313.45 462.71 303.22 462.89 306.01 463.08 312.7 463.26 317.66 463.45 296.88 463.63 326.15 463.82 299.19 464.01 302.99 464.19 296.47 464.38 307.14 464.56 309.86 464.75 310.96 464.94 311.35 465.12 323.51 465.31 326.61 465.49 316.59 465.68 313.38 465.86 330.18 466.05 325.16 466.24 313.21 466.42 314.36 466.61 315.26 466.79 307.7 466.98 321.34 467.16 298.96 467.35 326.15 467.54 289.61 467.72 295.49 467.91 303.3 468.09 330.53 468.28 316.76 468.47 295.55 468.65 311.44 468.84 326.76 469.02 323.88 469.21 316.27 469.39 311.25 469.58 306.56 469.77 325.27 469.95 316.66 470.14 305.81 470.32 316.43 470.51 320.37 470.69 299.51 470.88 300.98 471.07 304.93 471.25 319.48 471.44 305.12 471.62 319.2 471.81 309.23 472 315.4 472.18 284.17 472.37 313.18 472.55 297.96 472.74 322.61 472.92 322.12 473.11 327.34 473.3 313.98 473.48 297.22 473.67 301.06 473.85 312.1 474.04 299.09 474.22 295.44 474.41 316.36 474.6 317.43 474.78 313.26 474.97 289.49 475.15 301.96 475.34 312.34 475.52 312.27 475.71 306.84 475.9 312.88 476.08 320.84 476.27 305.63 476.45 308.91 476.64 315.57 476.83 330.21 477.01 322.44 477.2 311.18 477.38 310.72 477.57 303.11 477.75 322.52 477.94 302.48 478.13 313.07 478.31 321.42 478.5 326.13 478.68 315.72 478.87 309.03 479.05 318.42 479.24 307.89 479.43 321.31 479.61 314.92 479.8 308.08 479.98 326.36 480.17 313.37 480.36 304.21 480.54 307.01 480.73 324.26 480.91 296.83 481.1 302.54 481.28 309.79 481.47 310.26 481.66 293.24 481.84 299.95 482.03 324.49 482.21 325.95 482.4 311.22 482.58 315.24 482.77 322.08 482.96 310.99 483.14 298.4 483.33 334.75 483.51 308.86 483.7 314.65 483.89 321.31 484.07 313.95 484.26 321.28 484.44 308.35 484.63 293.86 484.81 321.07 485 309.5 485.19 320.59 485.37 307.38 485.56 298.95 485.74 322.51 485.93 318.52 486.11 316.89 486.3 318.97 486.49 306.71 486.67 305.63 486.86 325.63 487.04 313.92 487.23 313.36 487.42 308.63 487.6 324.48 487.79 307.14 487.97 315.19 488.16 291.37 488.34 300.83 488.53 304.07 488.72 323.14 488.9 320.92 489.09 320.48 489.27 311.92 489.46 310.05 489.64 332.55 489.83 299.23 490.02 335.72 490.2 329.34 490.39 301.56 490.57 327.85 490.76 315.07 490.95 305.63 491.13 307.6 491.32 300.61 491.5 317.6 491.69 306.72 491.87 315.42 492.06 287.16 492.25 308.46 492.43 302.87 492.62 324.26 492.8 322.96 492.99 304.44 493.17 328.5 493.36 308.68 493.55 302.17 493.73 321.2 493.92 328.92 494.1 310.15 494.29 309.8 494.48 326.92 494.66 304.73 494.85 332.69 495.03 332.28 495.22 320.91 495.4 322.32 495.59 312.12 495.78 300.49 495.96 300.14 496.15 309.55 496.33 305.81 496.52 317.29 496.7 316.65 496.89 318.48 497.08 310.99 497.26 297.16 497.45 297.78 497.63 310.11 497.82 309.48 498.01 321.44 498.19 298.58 498.38 329.54 498.56 327.24 498.75 318.23 498.93 315.21 499.12 333.37 499.31 308.98 499.49 322.61 499.68 303.83 499.86 322.6 500.05 316.28 500.23 304.93 500.42 317.93 500.61 310.6 500.79 314.29 500.98 319.84 501.16 329.19 501.35 327.14 501.54 313.96 501.72 308.11 501.91 319.13 502.09 325.35 502.28 314.12 502.46 295.11 502.65 314.84 502.84 300.5 503.02 321.56 503.21 323.63 503.39 319.56 503.58 327.38 503.76 308.38 503.95 311.96 504.14 314.96 504.32 333.83 504.51 334.11 504.69 318.65 504.88 335.44 505.06 298.34 505.25 304.83 505.44 324.18 505.62 301.74 505.81 307.38 505.99 331.29 506.18 312.64 506.37 308.47 506.55 335.41 506.74 300.44 506.92 316.48 507.11 314.91 507.29 314.29 507.48 317.07 507.67 299.25 507.85 301.9 508.04 315.71 508.22 308.17 508.41 316.78 508.59 312.12 508.78 314.49 508.97 299.48 509.15 315 509.34 301.94 509.52 319.84 509.71 337.09 509.9 309.25 510.08 327.67 510.27 329.47 510.45 312.57 510.64 312.63 510.82 310.05 511.01 321.14 511.2 326.93 511.38 321.38 511.57 323.7 511.75 311 511.94 326.5 512.12 302.98 512.31 329.26 512.5 331.04 512.68 295.19 512.87 300.42 513.05 311.32 513.24 297.77 513.43 304.22 513.61 331.38 513.8 334.62 513.98 306.16 514.17 298.33 514.35 322.09 514.54 309.93 514.73 315.58 514.91 319.29 515.1 316.25 515.28 317.06 515.47 321.19 515.65 298.36 515.84 315.4 516.03 304.11 516.21 312.47 516.4 309.66 516.58 307.69 516.77 297.39 516.96 319.14 517.14 309.56 517.33 319.07 517.51 329.01 517.7 304.94 517.88 308.14 518.07 322.83 518.26 300.81 518.44 312.45 518.63 315.25 518.81 315.9 519 319.93 519.18 333.38 519.37 322.56 519.56 324.53 519.74 317.62 519.93 322.1 520.11 320.37 520.3 324.78 520.49 316.38 520.67 317.35 520.86 320.18 521.04 319.31 521.23 311.35 521.41 315.37 521.6 326.79 521.79 316.79 521.97 301.05 522.16 324.36 522.34 325.55 522.53 318.6 522.71 313.14 522.9 316.66 523.09 322.56 523.27 313.51 523.46 325.31 523.64 321.98 523.83 322.84 524.02 328.11 524.2 311.98 524.39 319.71 524.57 331.65 524.76 320.73 524.94 312.16 525.13 333.93 525.32 290.64 525.5 320.56 525.69 312.59 525.87 322.93 526.06 313.19 526.24 334.88 526.43 308.32 526.62 307.95 526.8 328.76 526.99 324.24 527.17 329.35 527.36 312.38 527.54 317.84 527.73 315.22 527.92 320.72 528.1 318.71 528.29 318.66 528.47 315.98 528.66 302.04 528.85 296.04 529.03 324.05 529.22 342.93 529.4 295.88 529.59 317.98 529.77 337.41 529.96 302.45 530.15 324.16 530.33 317.13 530.52 294.71 530.7 298.9 530.89 322.83 531.07 319.88 531.26 318.3 531.45 310.85 531.63 307.67 531.82 321.38 532 304.61 532.19 292.72 532.38 323.25 532.56 330.94 532.75 313.1 532.93 294.75 533.12 292.05 533.3 307.12 533.49 307.89 533.68 323.66 533.86 317.6 534.05 333.79 534.23 306.68 534.42 316.21 534.6 323.51 534.79 330.27 534.98 301.78 535.16 304.69 535.35 305.72 535.53 323.32 535.72 324.83 535.91 329.18 536.09 327.16 536.28 316.92 536.46 316.04 536.65 298.96 536.83 321.69 537.02 319.73 537.21 323.77 537.39 302.3 537.58 331.01 537.76 300.03 537.95 293.29 538.13 322.31 538.32 314.13 538.51 305.5 538.69 312.32 538.88 318.22 539.06 293.43 539.25 331.12 539.44 326.25 539.62 323.77 539.81 318.6 539.99 318.01 540.18 310.44 540.36 308.72 540.55 321.11 540.74 317.06 540.92 306.37 541.11 303.88 541.29 322.97 541.48 315.75 541.66 322.64 541.85 313.63 542.04 304.77 542.22 310.88 542.41 316.5 542.59 296.89 542.78 312.25 542.97 293.81 543.15 307.13 543.34 308.65 543.52 317.99 543.71 307.76 543.89 297.86 544.08 295.55 544.27 299.02 544.45 288.49 544.64 291.62 544.82 283.27 545.01 276.73 545.19 284 545.38 287.65 545.57 265.58 545.75 265.41 545.94 260.92 546.12 280.3 546.31 264.52 546.5 260.67 546.68 261.29 546.87 282.47 547.05 278.31 547.24 247.12 547.42 250.92 547.61 264.15 547.8 271.9 547.98 240.49 548.17 259.91 548.35 263.39 548.54 257.81 548.72 247.62 548.91 250.79 549.1 232.38 549.28 241.98 549.47 232.57 549.65 252.37 549.84 237.92 550.03 237.94 550.21 220.26 550.4 268.91 550.58 233.07 550.77 247.6 550.95 243.11 551.14 239.25 551.33 246.98 551.51 254.71 551.7 228.85 551.88 209.26 552.07 244.78 552.25 227.67 552.44 240.05 552.63 221.29 552.81 202.97 553 237.74 553.18 245.6 553.37 207.89 553.56 203.53 553.74 222.98 553.93 189.24 554.11 239.82 554.3 226.32 554.48 213.27 554.67 223.04 554.86 213.11 555.04 229.3 555.23 224.03 555.41 209.84 555.6 225.22 555.78 209.87 555.97 208.71 556.16 210.08 556.34 200.92 556.53 199.82 556.71 212.24 556.9 206.54 557.08 188.85 557.27 204.87 557.46 210.27 557.64 201.31 557.83 214.62 558.01 208.89 558.2 205.67 558.39 203.46 558.57 184.79 558.76 230.71 558.94 195.84 559.13 207.13 559.31 191.8 559.5 203.48 559.69 205.91 559.87 184.58 560.06 199.91 560.24 186.5 560.43 193.15 560.61 200.61 560.8 187.7 560.99 172.32 561.17 198.94 561.36 196.46 561.54 184.29 561.73 193.22 561.92 211.4 562.1 197.1 562.29 191.29 562.47 177.35 562.66 187.46 562.84 191.35 563.03 192.17 563.22 194.04 563.4 206.08 563.59 158.55 563.77 193.95 563.96 193.79 564.14 157.42 564.33 193.09 564.52 187.49 564.7 197.06 564.89 186.19 565.07 183.03 565.26 187.5 565.45 179.57 565.63 182.45 565.82 180.41 566 190.68 566.19 186.43 566.37 171.85 566.56 181.96 566.75 185.09 566.93 167.83 567.12 187.74 567.3 170.15 567.49 159.38 567.67 183.28 567.86 172.47 568.05 191.76 568.23 193.21 568.42 182.39 568.6 166.48 568.79 185.36 568.98 166.48 569.16 176.96 569.35 184.37 569.53 193.08 569.72 179.08 569.9 195.92 570.09 162.77 570.28 161.05 570.46 179.72 570.65 194.1 570.83 167.43 571.02 166.87 571.2 168.86 571.39 168.8 571.58 174.39 571.76 181.65 571.95 189.7 572.13 188.12 572.32 173.67 572.51 165.72 572.69 179.44 572.88 155.08 573.06 179.02 573.25 147.28 573.43 181.24 573.62 178.3 573.81 180.64 573.99 161.66 574.18 170.98 574.36 184.36 574.55 155.88 574.73 185.53 574.92 165.64 575.11 185.56 575.29 174.24 575.48 159.51 575.66 167.4 575.85 167.93 576.04 187.63 576.22 175.07 576.41 168.01 576.59 165.43 576.78 161.31 576.96 147.38 577.15 167.98 577.34 185.02 577.52 166.03 577.71 177.95 577.89 192.49 578.08 173.93 578.26 179 578.45 173.68 578.64 160.82 578.82 165.54 579.01 195.09 579.19 177.63 579.38 165.4 579.57 161.7 579.75 173.94 579.94 173.9 580.12 174.27 580.31 172.49 580.49 167.49 580.68 168.85 580.87 174.99 581.05 179.33 581.24 173.97 581.42 166.65 581.61 146.86 581.79 153.83 581.98 152.66 582.17 175.98 582.35 167.4 582.54 170.99 582.72 165.95 582.91 165.48 583.09 179.1 583.28 165.17 583.47 180.1 583.65 174.11 583.84 168.77 584.02 172.2 584.21 164.72 584.4 171.84 584.58 162.38 584.77 182.26 584.95 165.29 585.14 162.34 585.32 161.11 585.51 182.99 585.7 171.88 585.88 168.82 586.07 171.89 586.25 175.27 586.44 145.74 586.62 191.64 586.81 173.67 587 154.97 587.18 162.97 587.37 173.6 587.55 171.84 587.74 173.83 587.93 164.35 588.11 169.09 588.3 169.37 588.48 171.91 588.67 172.03 588.85 168.49 589.04 162.52 589.23 173.79 589.41 188.51 589.6 194.77 589.78 163.94 589.97 164.74 590.15 174.54 590.34 176.25 590.53 160.57 590.71 161.61 590.9 155.3 591.08 174.08 591.27 165.51 591.46 163.93 591.64 145.25 591.83 153.11 592.01 158.96 592.2 152.65 592.38 161.18 592.57 143.95 592.76 159.49 592.94 168.28 593.13 177.61 593.31 182.9 593.5 155.13 593.68 175.61 593.87 188.76 594.06 167.14 594.24 158.07 594.43 162.84 594.61 170.76 594.8 191.76 594.99 173.26 595.17 144.98 595.36 175.24 595.54 164.74 595.73 164.55 595.91 176.45 596.1 149.29 596.29 179.68 596.47 162.37 596.66 145.04 596.84 160.29 597.03 174.42 597.21 170.54 597.4 157.45 597.59 165.29 597.77 155.36 597.96 157.42 598.14 152.58 598.33 162.58 598.52 158.75 598.7 172.21 598.89 138.53 599.07 144.93 599.26 182.68 599.44 154.47 599.63 167.37 599.82 155.19 600 171.28 600.19 161.54 600.37 171.87 600.56 171.64 600.74 161.63 600.93 152.91 601.12 157.31 601.3 155.71 601.49 174.26 601.67 160.19 601.86 149.45 602.05 164.44 602.23 184.98 602.42 140.14 602.6 151.08 602.79 160.46 602.97 159.5 603.16 159.74 603.35 143.8 603.53 171.93 603.72 163.11 603.9 158.72 604.09 168.92 604.27 153.99 604.46 172.65 604.65 161.18 604.83 165.38 605.02 175.65 605.2 170.9 605.39 154.69 605.58 173.78 605.76 149.72 605.95 156.41 606.13 169.27 606.32 151.38 606.5 161.9 606.69 151.33 606.88 173.5 607.06 172.36 607.25 152.1 607.43 166.83 607.62 168.24 607.8 151.91 607.99 172.99 608.18 165.01 608.36 165.58 608.55 158.36 608.73 170.09 608.92 175.33 609.1 164.59 609.29 173.86 609.48 155.76 609.66 160.48 609.85 141.86 610.03 174.57 610.22 141.72 610.41 146.79 610.59 167.93 610.78 178.18 610.96 177.32 611.15 153.17 611.33 170.51 611.52 168.85 611.71 156.35 611.89 169.4 612.08 180.68 612.26 158.27 612.45 159.32 612.63 171.85 612.82 163.71 613.01 182.34 613.19 162.9 613.38 165.43 613.56 169.83 613.75 152.02 613.94 170.23 614.12 148.06 614.31 168.17 614.49 155.69 614.68 152.13 614.86 186.51 615.05 179.08 615.24 160.24 615.42 157.66 615.61 144.98 615.79 168.33 615.98 165.83 616.16 161.64 616.35 174.17 616.54 162.57 616.72 141.62 616.91 172.59 617.09 166.3 617.28 153.22 617.47 149.35 617.65 168.78 617.84 167.21 618.02 156.97 618.21 158.17 618.39 164.71 618.58 160.2 618.77 159.83 618.95 173.85 619.14 156.55 619.32 157.69 619.51 159.72 619.69 163.11 619.88 173.82 620.07 170.14 620.25 151.25 620.44 155.13 620.62 191.64 620.81 154.74 621 150.49 621.18 164.41 621.37 170.41 621.55 166.38 621.74 158.32 621.92 146.98 622.11 158.75 622.3 150.39 622.48 176.32 622.67 179.7 622.85 150.27 623.04 161.15 623.22 154.42 623.41 172.39 623.6 165.91 623.78 158.99 623.97 168.24 624.15 166.88 624.34 156.23 624.53 172.9 624.71 138.84 624.9 179.12 625.08 177.99 625.27 155.71 625.45 166.15 625.64 162.82 625.83 164.41 626.01 151.02 626.2 161.73 626.38 173.81 626.57 145.22 626.75 171.89 626.94 165.47 627.13 156.46 627.31 165.97 627.5 161.6 627.68 170.08 627.87 158.24 628.06 152.38 628.24 167.46 628.43 166.52 628.61 148.6 628.8 166.57 628.98 162.09 629.17 178.36 629.36 165.09 629.54 177.33 629.73 156.42 629.91 157.35 630.1 161.68 630.28 150.79 630.47 147.48 630.66 158.02 630.84 153.51 631.03 153.19 631.21 179.42 631.4 168.14 631.59 169.56 631.77 151.92 631.96 154.08 632.14 157.52 632.33 174.8 632.51 151.82 632.7 165.09 632.89 181.19 633.07 171.5 633.26 160.72 633.44 173.99 633.63 161.23 633.81 169.01 634 177.04 634.19 152.29 634.37 176.45 634.56 157.11 634.74 158.99 634.93 140.83 635.11 157.87 635.3 148.25 635.49 163.44 635.67 169.23 635.86 152.66 636.04 147.3 636.23 162.22 636.42 164.82 636.6 155.06 636.79 176.77 636.97 171.7 637.16 152.88 637.34 158.58 637.53 179.04 637.72 147.49 637.9 130.39 638.09 153.25 638.27 170.78 638.46 146.17 638.64 161.14 638.83 163.09 639.02 153.92 639.2 145.69 639.39 154.26 639.57 171.49 639.76 154.08 639.95 158.19 640.13 157.06 640.32 148.4 640.5 157.63 640.69 164.97 640.87 152.6 641.06 158.39 641.25 160.5 641.43 154.98 641.62 155.92 641.8 165.94 641.99 149.67 642.17 169.25 642.36 164.38 642.55 163.8 642.73 154.34 642.92 162.34 643.1 155.01 643.29 161.33 643.48 172.35 643.66 169.47 643.85 180.81 644.03 151.44 644.22 150.72 644.4 160.47 644.59 169.48 644.78 165.04 644.96 151.42 645.15 185.2 645.33 180.99 645.52 179.17 645.7 150.13 645.89 163.21 646.08 159.4 646.26 189.13 646.45 167.02 646.63 174.47 646.82 154.34 647.01 161.04 647.19 166.84 647.38 192.48 647.56 165.98 647.75 144.54 647.93 165.56 648.12 158.71 648.31 156.35 648.49 144.29 648.68 163.36 648.86 173.32 649.05 171.01 649.23 159.98 649.42 162.03 649.61 155.05 649.79 157.27 649.98 154.1 650.16 151.11 650.35 160.94 650.54 173.77 650.72 148.53 650.91 145.06 651.09 161.09 651.28 143.99 651.46 170.08 651.65 160.88 651.84 175.04 652.02 152.33 652.21 156.03 652.39 167.83 652.58 163.42 652.76 156.79 652.95 155.77 653.14 162.17 653.32 148.73 653.51 181.57 653.69 155.43 653.88 160.04 654.07 151.19 654.25 174.78 654.44 165.23 654.62 160.85 654.81 137.19 654.99 163.37 655.18 167.58 655.37 179.09 655.55 159.35 655.74 143.91 655.92 163.22 656.11 169.51 656.29 172.43 656.48 154.32 656.67 148.7 656.85 164.61 657.04 166.48 657.22 145.63 657.41 145.67 657.6 162.34 657.78 162.49 657.97 177.95 658.15 170.93 658.34 152.29 658.52 169.06 658.71 176.34 658.9 160.95 659.08 160.11 659.27 178.23 659.45 170.29 659.64 161.62 659.82 159.41 660.01 155.24 660.2 174.29 660.38 164.17 660.57 148 660.75 186.91 660.94 177.12 661.12 173.09 661.31 146.57 661.5 174.11 661.68 146.43 661.87 166.93 662.05 157.94 662.24 168.34 662.43 142.98 662.61 167.22 662.8 157.11 662.98 167.96 663.17 157.32 663.35 163.95 663.54 155.85 663.73 174.41 663.91 147.53 664.1 157.4 664.28 160.9 664.47 163.85 664.65 171.2 664.84 163.13 665.03 166.13 665.21 174.73 665.4 159.74 665.58 179.72 665.77 148.71 665.96 152.04 666.14 160.31 666.33 148.44 666.51 153.2 666.7 165.63 666.88 179.23 667.07 168.9 667.26 156.55 667.44 161.5 667.63 174.28 667.81 155.16 668 153.22 668.18 153.37 668.37 191.2 668.56 191.62 668.74 166.58 668.93 170.49 669.11 167.02 669.3 161.48 669.49 149.16 669.67 161.54 669.86 161.87 670.04 186.06 670.23 160.09 670.41 162.35 670.6 160.47" fill="none" stroke="#00ff00" stroke-width="1.2"/>
<path d="M410.5 481.91 410.69 488.81 410.87 485.95 411.06 484.26 411.24 485.35 411.43 483.05 411.61 492.01 411.8 487.51 411.99 493.33 412.17 483.23 412.36 499.06 412.54 504.06 412.73 489.95 412.92 490.74 413.1 510.62 413.29 489.07 413.47 511.87 413.66 509.24 413.84 500.3 414.03 497.45 414.22 510.41 414.4 515.39 414.59 523.77 414.77 518.94 414.96 516.64 415.14 503.64 415.33 506.54 415.52 528.92 415.7 499.03 415.89 507.26 416.07 520.53 416.26 508.38 416.45 507.72 416.63 522.96 416.82 514.11 417 521.01 417.19 514.98 417.37 533.99 417.56 523.61 417.75 522.67 417.93 518.3 418.12 518.93 418.3 515.54 418.49 522.92 418.67 510.74 418.86 548.55 419.05 529.53 419.23 535.07 419.42 531.36 419.6 539.32 419.79 528.19 419.98 537.23 420.16 530.49 420.35 524.37 420.53 516.05 420.72 526.33 420.9 535.23 421.09 535.21 421.28 535.89 421.46 547.85 421.65 530.94 421.83 531.97 422.02 533.94 422.2 541.11 422.39 535.14 422.58 538.48 422.76 533 422.95 523.21 423.13 551.6 423.32 536.32 423.5 541.82 423.69 540.48 423.88 536.4 424.06 561.47 424.25 543.51 424.43 534.78 424.62 553.33 424.81 539.81 424.99 546.72 425.18 538.54 425.36 547.93 425.55 553.19 425.73 550.72 425.92 551.91 426.11 553.33 426.29 545.27 426.48 549.68 426.66 547.85 426.85 554.7 427.03 560.42 427.22 544.65 427.41 554.12 427.59 567.67 427.78 562.59 427.96 545.57 428.15 553.09 428.34 553.44 428.52 552.29 428.71 557.4 428.89 562.23 429.08 553.66 429.26 554.47 429.45 547.08 429.64 553.63 429.82 557.58 430.01 553.85 430.19 540.99 430.38 552.05 430.56 535.34 430.75 567.57 430.94 549.64 431.12 556.48 431.31 554.14 431.49 557.37 431.68 551.32 431.87 559.58 432.05 568.33 432.24 547.88 432.42 555.59 432.61 557.84 432.79 557.91 432.98 564.13 433.17 560.05 433.35 564.28 433.54 562 433.72 556.14 433.91 576.5 434.09 565.42 434.28 538.14 434.47 550.7 434.65 546.68 434.84 570.26 435.02 553.04 435.21 549.72 435.4 561 435.58 552.4 435.77 566.19 435.95 564.87 436.14 573.86 436.32 550.4 436.51 568.8 436.7 559.48 436.88 555.17 437.07 551.42 437.25 554.31 437.44 552.27 437.62 552.43 437.81 561.82 438 561.57 438.18 558.49 438.37 581.59 438.55 555.4 438.74 583.21 438.93 574.19 439.11 576.25 439.3 562.4 439.48 581.37 439.67 570.09 439.85 579.89 440.04 580.52 440.23 564.56 440.41 563.69 440.6 571.73 440.78 575.99 440.97 554.8 441.15 561.21 441.34 571.72 441.53 564.52 441.71 584.7 441.9 567.57 442.08 583.23 442.27 568.78 442.46 578.21 442.64 577.18 442.83 571.14 443.01 552.32 443.2 552.88 443.38 563.21 443.57 571.82 443.76 579.56 443.94 560.59 444.13 583.07 444.31 570.1 444.5 560.2 444.68 567.24 444.87 568.83 445.06 579.48 445.24 571.58 445.43 553.89 445.61 570.65 445.8 566.34 445.99 567.08 446.17 561.2 446.36 580.08 446.54 568.93 446.73 569.99 446.91 577.9 447.1 557.88 447.29 578.83 447.47 575.5 447.66 560.54 447.84 580.02 448.03 568.65 448.21 576.15 448.4 550.72 448.59 572.74 448.77 574.3 448.96 573.37 449.14 559.52 449.33 560.18 449.51 563.15 449.7 570.87 449.89 580.07 450.07 561.16 450.26 586.45 450.44 578.4 450.63 574.11 450.82 578.21 451 576.27 451.19 565.12 451.37 573.59 451.56 567.75 451.74 575.74 451.93 568.93 452.12 577.84 452.3 579.86 452.49 567.43 452.67 580.92 452.86 582.82 453.04 565.81 453.23 579.57 453.42 573.12 453.6 564.3 453.79 570.5 453.97 571.14 454.16 564.35 454.35 578.38 454.53 575.91 454.72 577.5 454.9 567.35 455.09 575.78 455.27 550.82 455.46 565.3 455.65 565.18 455.83 568.38 456.02 569.36 456.2 581.17 456.39 569.19 456.57 579.46 456.76 570.33 456.95 583.13 457.13 563.8 457.32 567.6 457.5 568.54 457.69 582.57 457.88 584.48 458.06 566.72 458.25 582.96 458.43 576.42 458.62 576.7 458.8 583.11 458.99 585.53 459.18 581.79 459.36 589.56 459.55 567.41 459.73 581.89 459.92 568.16 460.1 583.38 460.29 581.24 460.48 579.07 460.66 579.24 460.85 572.84 461.03 570.86 461.22 569.1 461.41 574.33 461.59 576.5 461.78 593.83 461.96 577.36 462.15 581.73 462.33 562.73 462.52 581.85 462.71 557.01 462.89 580.74 463.08 583.82 463.26 565 463.45 575.51 463.63 587.43 463.82 570.25 464.01 579.11 464.19 574.56 464.38 568.57 464.56 565.85 464.75 575.08 464.94 564.62 465.12 578.7 465.31 569.71 465.49 582.67 465.68 572.05 465.86 562.05 466.05 565.9 466.24 573.68 466.42 569.21 466.61 576.52 466.79 582.57 466.98 557.39 467.16 557 467.35 582.11 467.54 571.1 467.72 564.13 467.91 584.23 468.09 574.15 468.28 583.72 468.47 580.84 468.65 576.32 468.84 564.32 469.02 572.95 469.21 570.39 469.39 571.09 469.58 586.39 469.77 572.73 469.95 577.67 470.14 578.49 470.32 598.93 470.51 572.3 470.69 585.42 470.88 571.02 471.07 574.85 471.25 579.33 471.44 575.91 471.62 581.73 471.81 591.05 472 569.06 472.18 577.03 472.37 571.91 472.55 576.77 472.74 582.86 472.92 580.73 473.11 574.84 473.3 579.31 473.48 564.95 473.67 557.5 473.85 570.63 474.04 575.67 474.22 585.9 474.41 578.37 474.6 579.39 474.78 583.13 474.97 577.82 475.15 578.49 475.34 578.42 475.52 582.95 475.71 576.22 475.9 585.9 476.08 568.83 476.27 575.23 476.45 565.27 476.64 591.9 476.83 571.9 477.01 574.7 477.2 566.81 477.38 572.3 477.57 564.91 477.75 567.93 477.94 573.69 478.13 585.2 478.31 589.09 478.5 573.79 478.68 577 478.87 584.55 479.05 590.57 479.24 576.44 479.43 584.51 479.61 570.34 479.8 562.64 479.98 573.13 480.17 583.58 480.36 575.15 480.54 577.67 480.73 577.9 480.91 575.75 481.1 581.18 481.28 575.73 481.47 585.23 481.66 589.48 481.84 579.39 482.03 571.8 482.21 568.5 482.4 573.96 482.58 575.92 482.77 572.01 482.96 588.87 483.14 553.62 483.33 572.18 483.51 560 483.7 583.97 483.89 574.02 484.07 585.45 484.26 564.87 484.44 573.8 484.63 575.04 484.81 564.4 485 565.28 485.19 573.17 485.37 587.59 485.56 585.44 485.74 570.66 485.93 587.75 486.11 579.58 486.3 576.49 486.49 592.44 486.67 573.53 486.86 571.36 487.04 585.72 487.23 570.4 487.42 569.21 487.6 589.6 487.79 589.9 487.97 566.7 488.16 585.58 488.34 569.44 488.53 573.74 488.72 567.03 488.9 554.37 489.09 573.21 489.27 575.18 489.46 579.69 489.64 575.05 489.83 568.22 490.02 567.04 490.2 574.17 490.39 577.15 490.57 582.38 490.76 589.42 490.95 583.06 491.13 587.28 491.32 570.62 491.5 593.23 491.69 591.66 491.87 581.5 492.06 568.94 492.25 592.22 492.43 577.28 492.62 569.43 492.8 569.59 492.99 589.8 493.17 578.66 493.36 585.9 493.55 579.12 493.73 581.74 493.92 583.04 494.1 587.22 494.29 568.98 494.48 579.88 494.66 571.23 494.85 569.12 495.03 584.1 495.22 585.11 495.4 578.96 495.59 590.16 495.78 575.21 495.96 581.54 496.15 572.27 496.33 572.26 496.52 564.46 496.7 574.92 496.89 569.25 497.08 577.96 497.26 578.61 497.45 591 497.63 565.51 497.82 575.17 498.01 590.22 498.19 568.15 498.38 583.34 498.56 581.05 498.75 571.55 498.93 572.94 499.12 573.2 499.31 575.39 499.49 577.18 499.68 576.77 499.86 583.71 500.05 580.89 500.23 575.2 500.42 577.5 500.61 574.01 500.79 582.01 500.98 576.93 501.16 581.84 501.35 580.28 501.54 587.92 501.72 572.61 501.91 584.43 502.09 571.52 502.28 582.71 502.46 582.02 502.65 554.52 502.84 583.89 503.02 580.28 503.21 582.41 503.39 579.48 503.58 574.16 503.76 583.8 503.95 576.19 504.14 566.91 504.32 572.66 504.51 579.95 504.69 575.66 504.88 580.17 505.06 573.35 505.25 577.01 505.44 575.58 505.62 577.89 505.81 572.48 505.99 577.95 506.18 579.38 506.37 574.25 506.55 583.6 506.74 587.98 506.92 576.25 507.11 561.8 507.29 595.24 507.48 579.95 507.67 582.18 507.85 595.86 508.04 572.17 508.22 568.7 508.41 557.59 508.59 593.18 508.78 583.36 508.97 574.12 509.15 566.3 509.34 579.43 509.52 574.36 509.71 578.73 509.9 581.45 510.08 567.69 510.27 578.72 510.45 570.26 510.64 575.55 510.82 576.83 511.01 562.54 511.2 577.53 511.38 575.25 511.57 580.56 511.75 581.92 511.94 578.17 512.12 587.58 512.31 581.15 512.5 587.69 512.68 573.29 512.87 583.59 513.05 572.55 513.24 559.33 513.43 580.06 513.61 584.15 513.8 582.79 513.98 576.81 514.17 582.44 514.35 578.29 514.54 583.21 514.73 566.18 514.91 585.91 515.1 573.99 515.28 583.88 515.47 579.15 515.65 575.94 515.84 569.79 516.03 582.28 516.21 583.26 516.4 570.32 516.58 579.1 516.77 573.46 516.96 578.84 517.14 590.86 517.33 579.98 517.51 576.54 517.7 569.38 517.88 582.35 518.07 581.76 518.26 562 518.44 571.52 518.63 556.55 518.81 579.87 519 572.59 519.18 576.62 519.37 569.54 519.56 570.47 519.74 567.28 519.93 570.14 520.11 585.73 520.3 578.65 520.49 578.78 520.67 573.41 520.86 582.24 521.04 578.77 521.23 575.61 521.41 585.59 521.6 573.11 521.79 587.63 521.97 580.92 522.16 583.76 522.34 573.06 522.53 568.73 522.71 595.15 522.9 572.77 523.09 577.11 523.27 584.5 523.46 567.96 523.64 575.18 523.83 567.13 524.02 589.07 524.2 580.35 524.39 585.79 524.57 589.29 524.76 588.49 524.94 558.38 525.13 564.38 525.32 585.11 525.5 587.1 525.69 575.39 525.87 576.02 526.06 584.24 526.24 563.1 526.43 593.74 526.62 586.49 526.8 579.79 526.99 567.1 527.17 571.61 527.36 575.82 527.54 585.77 527.73 580.59 527.92 581.03 528.1 573.49 528.29 571.21 528.47 578.57 528.66 570.31 528.85 559.06 529.03 582.38 529.22 573.32 529.4 576.98 529.59 577.76 529.77 562.45 529.96 574.67 530.15 579.17 530.33 574.98 530.52 574.57 530.7 578.77 530.89 562.15 531.07 585.35 531.26 574.33 531.45 592.23 531.63 591.32 531.82 573.49 532 582.67 532.19 594.15 532.38 602.48 532.56 564.32 532.75 578.14 532.93 577.53 533.12 575.06 533.3 586.58 533.49 574.43 533.68 579.06 533.86 570.13 534.05 568.54 534.23 571.12 534.42 570.67 534.6 566.12 534.79 573.85 534.98 585.16 535.16 580.78 535.35 579.89 535.53 580.23 535.72 578.01 535.91 570.6 536.09 574.14 536.28 582.8 536.46 574.15 536.65 575.45 536.83 575.6 537.02 575.18 537.21 581.87 537.39 576.22 537.58 578.57 537.76 567.76 537.95 571.57 538.13 580.51 538.32 569.15 538.51 587.66 538.69 567.93 538.88 575.99 539.06 577.65 539.25 588.41 539.44 581.77 539.62 585.35 539.81 571.81 539.99 569.53 540.18 568.63 540.36 572.57 540.55 584.26 540.74 595.9 540.92 572.42 541.11 566.01 541.29 585.7 541.48 575.11 541.66 574.19 541.85 583.25 542.04 568.74 542.22 575.94 542.41 566.29 542.59 571.89 542.78 559.13 542.97 564.83 543.15 555.01 543.34 569.92 543.52 553.93 543.71 573.09 543.89 559.58 544.08 549.61 544.27 557.47 544.45 549.6 544.64 573.45 544.82 565.74 545.01 551.04 545.19 549.25 545.38 548.33 545.57 546.42 545.75 540.17 545.94 536.45 546.12 544.61 546.31 548.34 546.5 549.18 546.68 538.94 546.87 539.98 547.05 546.98 547.24 536.89 547.42 530.25 547.61 547.44 547.8 542.15 547.98 536.1 548.17 534.54 548.35 556.92 548.54 532.06 548.72 518.8 548.91 534.78 549.1 509.05 549.28 520.53 549.47 523.26 549.65 532.5 549.84 525.61 550.03 524.72 550.21 515.61 550.4 533.45 550.58 514.66 550.77 518.08 550.95 529.05 551.14 517.5 551.33 519.11 551.51 511.65 551.7 525.35 551.88 522.09 552.07 517.92 552.25 518.63 552.44 515.34 552.63 519.6 552.81 502.78 553 517.93 553.18 514.73 553.37 497.21 553.56 508.02 553.74 522.84 553.93 517.75 554.11 506.19 554.3 513.81 554.48 508.32 554.67 523.84 554.86 501.52 555.04 523.31 555.23 506.41 555.41 505.75 555.6 499.24 555.78 503.62 555.97 490.74 556.16 496.32 556.34 500.57 556.53 510.81 556.71 501.8 556.9 503.24 557.08 505.71 557.27 511.42 557.46 495.49 557.64 500.05 557.83 497.27 558.01 505.55 558.2 509.79 558.39 506.49 558.57 495.82 558.76 493.41 558.94 504.04 559.13 502.13 559.31 496.23 559.5 500.03 559.69 498.01 559.87 494.43 560.06 485.71 560.24 485.38 560.43 500.12 560.61 496.56 560.8 501.32 560.99 492.91 561.17 501.25 561.36 494.18 561.54 486.14 561.73 484.39 561.92 477.43 562.1 497.2 562.29 481.27 562.47 512.29 562.66 491.08 562.84 493.81 563.03 486.75 563.22 480.64 563.4 492.81 563.59 497.09 563.77 476.75 563.96 492.26 564.14 481.02 564.33 492.09 564.52 503.05 564.7 496.32 564.89 502.16 565.07 492.23 565.26 492.69 565.45 506.32 565.63 486.64 565.82 490.01 566 492.85 566.19 496.05 566.37 478.09 566.56 498.19 566.75 501.8 566.93 495.13 567.12 480.92 567.3 489.02 567.49 491.89 567.67 496.85 567.86 492.21 568.05 486.81 568.23 477.7 568.42 490.69 568.6 502.13 568.79 498.13 568.98 492.22 569.16 488.3 569.35 488.51 569.53 492.48 569.72 500.56 569.9 487.64 570.09 488.55 570.28 479.95 570.46 487.8 570.65 477.74 570.83 482.18 571.02 482.11 571.2 469.8 571.39 480.58 571.58 495.72 571.76 490.56 571.95 490.11 572.13 498.76 572.32 494.69 572.51 479.35 572.69 496.14 572.88 491.08 573.06 480.12 573.25 486.95 573.43 490.96 573.62 477.48 573.81 485.6 573.99 498.76 574.18 491.4 574.36 474.7 574.55 472.59 574.73 491.73 574.92 474.21 575.11 489.95 575.29 473.53 575.48 471.36 575.66 490.55 575.85 487.41 576.04 482.26 576.22 486.96 576.41 487.7 576.59 468.88 576.78 488.09 576.96 468.62 577.15 481.11 577.34 476.87 577.52 491.03 577.71 483.68 577.89 494.55 578.08 483.22 578.26 484.22 578.45 475.15 578.64 489.15 578.82 487.8 579.01 478.69 579.19 495.75 579.38 476.59 579.57 490.3 579.75 494.14 579.94 501.09 580.12 474.83 580.31 479.88 580.49 475.35 580.68 471.66 580.87 479.43 581.05 478.63 581.24 479.11 581.42 489.64 581.61 475.86 581.79 488.28 581.98 485.11 582.17 489.76 582.35 486.34 582.54 490.05 582.72 487.38 582.91 479.39 583.09 496.35 583.28 482.52 583.47 476.89 583.65 485.73 583.84 472.27 584.02 479.64 584.21 498.77 584.4 489.57 584.58 481.98 584.77 477.85 584.95 478.89 585.14 465.39 585.32 482.4 585.51 474.7 585.7 491.66 585.88 489.21 586.07 501.17 586.25 485.93 586.44 480.29 586.62 481.95 586.81 474.28 587 486.51 587.18 482.29 587.37 480.04 587.55 472.52 587.74 477.13 587.93 480.36 588.11 484.6 588.3 487.61 588.48 466.63 588.67 479.77 588.85 474.38 589.04 483.14 589.23 491.16 589.41 474.75 589.6 481.42 589.78 466.76 589.97 474.82 590.15 481.41 590.34 489.51 590.53 488.17 590.71 480.61 590.9 463.92 591.08 488.79 591.27 476.22 591.46 460.54 591.64 482.07 591.83 487.13 592.01 484.5 592.2 470.45 592.38 477.61 592.57 477.06 592.76 477.61 592.94 475.69 593.13 480.27 593.31 476.85 593.5 483.75 593.68 475.82 593.87 490.37 594.06 476.63 594.24 483.23 594.43 469.02 594.61 482.66 594.8 478.41 594.99 486.26 595.17 469.28 595.36 485.03 595.54 491.68 595.73 482.95 595.91 495.71 596.1 485.83 596.29 485.53 596.47 493.82 596.66 489.14 596.84 482.16 597.03 479.64 597.21 493.69 597.4 480.73 597.59 476.16 597.77 492.15 597.96 484.18 598.14 473.58 598.33 483.82 598.52 475.81 598.7 486.2 598.89 473.26 599.07 476.53 599.26 486.17 599.44 486.46 599.63 493.35 599.82 479.1 600 476.52 600.19 462.52 600.37 473.08 600.56 482.55 600.74 480.99 600.93 476.51 601.12 480.46 601.3 475.6 601.49 473.29 601.67 473.43 601.86 480.36 602.05 477.18 602.23 473.04 602.42 467.08 602.6 491.43 602.79 482.79 602.97 477.52 603.16 492.58 603.35 480.49 603.53 479.83 603.72 472.26 603.9 484.97 604.09 497.48 604.27 477.8 604.46 484.03 604.65 480.63 604.83 468.09 605.02 487.58 605.2 482.3 605.39 470.22 605.58 492.56 605.76 472.98 605.95 487.79 606.13 472.14 606.32 479.08 606.5 492.49 606.69 476.06 606.88 462.32 607.06 480.58 607.25 481.25 607.43 476.54 607.62 484.82 607.8 477.7 607.99 481.56 608.18 473.44 608.36 474.49 608.55 479.42 608.73 483.35 608.92 476.56 609.1 478.15 609.29 483.76 609.48 474.91 609.66 482.95 609.85 477.33 610.03 469.32 610.22 488.39 610.41 471.3 610.59 478.57 610.78 483.14 610.96 476.54 611.15 485.28 611.33 472.16 611.52 478.1 611.71 486.76 611.89 477.73 612.08 490.55 612.26 470.91 612.45 483.11 612.63 470.54 612.82 467.22 613.01 477.59 613.19 473.48 613.38 473.62 613.56 469.34 613.75 486.12 613.94 475.46 614.12 466.82 614.31 477.02 614.49 476.14 614.68 485.63 614.86 474.18 615.05 474.45 615.24 483.78 615.42 473.75 615.61 481.63 615.79 490.15 615.98 460.27 616.16 465.86 616.35 487.26 616.54 476.74 616.72 468.88 616.91 483.22 617.09 469.25 617.28 479.31 617.47 467.03 617.65 488.61 617.84 490.36 618.02 470.97 618.21 479.53 618.39 463.29 618.58 478.93 618.77 498.2 618.95 480.68 619.14 483.04 619.32 475.03 619.51 479.75 619.69 479.2 619.88 490.23 620.07 484.27 620.25 485.91 620.44 467.1 620.62 493.48 620.81 487.79 621 484 621.18 475.04 621.37 480.51 621.55 475.36 621.74 485.67 621.92 473.33 622.11 487.32 622.3 471.38 622.48 476.54 622.67 469.62 622.85 483.49 623.04 475.55 623.22 479.96 623.41 475.12 623.6 472.92 623.78 482.07 623.97 476.25 624.15 473.25 624.34 477.69 624.53 469.88 624.71 468.91 624.9 473.57 625.08 471.36 625.27 484.64 625.45 477.23 625.64 487.94 625.83 479.33 626.01 476.8 626.2 476.5 626.38 484.06 626.57 480.42 626.75 473.98 626.94 478 627.13 480.8 627.31 475.2 627.5 470.84 627.68 465.25 627.87 473.35 628.06 463.02 628.24 486.43 628.43 465.77 628.61 488.58 628.8 481.85 628.98 477 629.17 487.53 629.36 477.84 629.54 467.02 629.73 480.9 629.91 484.12 630.1 491.12 630.28 484.98 630.47 481.05 630.66 476.46 630.84 482.31 631.03 482.75 631.21 482.53 631.4 479.35 631.59 465.36 631.77 472.23 631.96 485.19 632.14 489.91 632.33 473.59 632.51 488.99 632.7 475.19 632.89 480.41 633.07 486.87 633.26 474 633.44 489.95 633.63 478.35 633.81 490.54 634 476.66 634.19 480.23 634.37 479.79 634.56 491.06 634.74 478.95 634.93 483.36 635.11 465.14 635.3 471.7 635.49 488.87 635.67 477.87 635.86 477.33 636.04 462.08 636.23 475.17 636.42 466.66 636.6 474.77 636.79 486.9 636.97 482.83 637.16 469.6 637.34 479.16 637.53 484.66 637.72 472.06 637.9 470.9 638.09 475.7 638.27 474.82 638.46 470.39 638.64 474.45 638.83 483.42 639.02 484.3 639.2 474.01 639.39 478.09 639.57 473.48 639.76 484.94 639.95 479.09 640.13 472.96 640.32 483.12 640.5 488.6 640.69 470.71 640.87 479.06 641.06 485.32 641.25 479.16 641.43 471.04 641.62 481.16 641.8 483.03 641.99 477.44 642.17 468.23 642.36 480.59 642.55 476.59 642.73 475.19 642.92 480.05 643.1 474.42 643.29 477.11 643.48 480.76 643.66 489.44 643.85 486.64 644.03 491.41 644.22 482.58 644.4 484.83 644.59 479.7 644.78 473.41 644.96 475.42 645.15 492.53 645.33 466.39 645.52 474.03 645.7 493.11 645.89 464.79 646.08 486.18 646.26 483.54 646.45 473.36 646.63 481.33 646.82 484.76 647.01 473.73 647.19 482.19 647.38 478.2 647.56 469.2 647.75 483.28 647.93 481.54 648.12 470.78 648.31 484.79 648.49 475.64 648.68 476.36 648.86 483.53 649.05 482.86 649.23 487.86 649.42 478.91 649.61 474.44 649.79 471.22 649.98 480.13 650.16 488.54 650.35 478.52 650.54 481.57 650.72 474.19 650.91 480.85 651.09 478.46 651.28 485.92 651.46 488.52 651.65 470.13 651.84 477.7 652.02 474.32 652.21 474.49 652.39 475.39 652.58 472.83 652.76 468.89 652.95 473.21 653.14 474.68 653.32 491.79 653.51 490.11 653.69 458.66 653.88 487.1 654.07 482.65 654.25 481.94 654.44 483.56 654.62 466.17 654.81 481.82 654.99 489.3 655.18 489.35 655.37 490.86 655.55 462.54 655.74 479.73 655.92 474.16 656.11 477.44 656.29 469.52 656.48 477.5 656.67 493.16 656.85 472.18 657.04 492.52 657.22 485.24 657.41 474.15 657.6 488.99 657.78 490.27 657.97 481.68 658.15 482.8 658.34 483.6 658.52 475.49 658.71 478.99 658.9 487.27 659.08 478.64 659.27 474.44 659.45 478.33 659.64 482.16 659.82 478.96 660.01 492.41 660.2 472.72 660.38 471.41 660.57 481.07 660.75 478.34 660.94 477.34 661.12 490.36 661.31 465.92 661.5 496.03 661.68 482.79 661.87 499 662.05 478.22 662.24 467.85 662.43 487.27 662.61 476.52 662.8 475.15 662.98 486.63 663.17 478.17 663.35 465.09 663.54 470.1 663.73 469.37 663.91 472.67 664.1 467.83 664.28 489.68 664.47 490.09 664.65 472.71 664.84 478.05 665.03 486.82 665.21 487.24 665.4 480.9 665.58 486.76 665.77 474.38 665.96 477.97 666.14 479.85 666.33 482.59 666.51 471.01 666.7 491.4 666.88 479.72 667.07 485.65 667.26 486.56 667.44 487.49 667.63 479.22 667.81 474.48 668 479.99 668.18 478.49 668.37 482.07 668.56 481.83 668.74 480.24 668.93 476.35 669.11 478.86 669.3 474.2 669.49 478.43 669.67 482.91 669.86 482.31 670.04 472.54 670.23 490.36 670.41 474.39 670.6 471.5" fill="none" stroke="#ff0000" stroke-width="1.2"/>
<path d="M751.9 143.28 752.09 144.32 752.27 162.66 752.46 145.95 752.64 168.73 752.83 165.94 753.02 162.16 753.2 170.06 753.39 178.88 753.57 170.15 753.76 173.36 753.95 178.87 754.13 191.03 754.32 194.12 754.5 188.99 754.69 190.86 754.88 195.68 755.06 190.81 755.25 200.24 755.43 216.93 755.62 203.48 755.81 197.13 755.99 211.25 756.18 202.51 756.36 204.16 756.55 203.62 756.74 219.25 756.92 207.13 757.11 226.8 757.3 210.98 757.48 213.55 757.67 223.22 757.85 220.39 758.04 223.22 758.23 226.64 758.41 225 758.6 223.58 758.78 225.04 758.97 223.97 759.16 222.38 759.34 224.62 759.53 242.43 759.71 225.86 759.9 233.78 760.09 223.57 760.27 236.73 760.46 254.21 760.64 244.38 760.83 250.31 761.02 241.72 761.2 241.92 761.39 241.19 761.57 244.9 761.76 238.01 761.95 244.64 762.13 246.05 762.32 251.68 762.5 249.76 762.69 253.87 762.88 249.19 763.06 251.99 763.25 236.47 763.43 259.21 763.62 251.94 763.81 249.95 763.99 262.64 764.18 257.39 764.36 254.46 764.55 258.44 764.74 247.08 764.92 261.42 765.11 259.58 765.29 264.68 765.48 261.62 765.67 258.28 765.85 272.14 766.04 270.39 766.22 262.56 766.41 274.09 766.6 263.14 766.78 265.51 766.97 274.08 767.15 270.43 767.34 272.38 767.53 276.81 767.71 279.7 767.9 275.95 768.09 272.41 768.27 292.47 768.46 279.84 768.64 267.47 768.83 273.49 769.02 276.29 769.2 285.37 769.39 280.22 769.57 270.53 769.76 275.78 769.95 279.49 770.13 280.47 770.32 278.57 770.5 266.83 770.69 281.04 770.88 288.65 771.06 289.71 771.25 291.27 771.43 279.49 771.62 283.76 771.81 280.28 771.99 280.33 772.18 285.96 772.36 288.07 772.55 280.51 772.74 260.56 772.92 293.79 773.11 297.88 773.29 271.92 773.48 279.78 773.67 290.13 773.85 287.22 774.04 280.82 774.22 287.23 774.41 296.19 774.6 293.85 774.78 295.5 774.97 307.97 775.15 289.61 775.34 285.58 775.53 285.79 775.71 290.37 775.9 294.82 776.08 290.94 776.27 304.88 776.46 297.67 776.64 288.77 776.83 296.59 777.01 282.62 777.2 291.06 777.39 285.26 777.57 295.54 777.76 288.89 777.94 294.14 778.13 290.63 778.32 284.51 778.5 297.63 778.69 294.75 778.88 291.75 779.06 306.79 779.25 294.28 779.43 296.97 779.62 297.63 779.81 293.38 779.99 297.12 780.18 295.25 780.36 292.34 780.55 303.41 780.74 290.49 780.92 301.7 781.11 293.94 781.29 293.29 781.48 291.6 781.67 303.72 781.85 295.26 782.04 308.8 782.22 289.69 782.41 294.4 782.6 284.26 782.78 309.95 782.97 299.86 783.15 298.22 783.34 301.73 783.53 311.09 783.71 288.96 783.9 292.57 784.08 304.73 784.27 301.28 784.46 292.59 784.64 309.4 784.83 314.49 785.01 295.14 785.2 299.26 785.39 295.91 785.57 309.15 785.76 306.22 785.94 295.15 786.13 304.7 786.32 303.54 786.5 309.28 786.69 311.72 786.87 302.73 787.06 301.79 787.25 302.04 787.43 297.03 787.62 313.65 787.8 308.28 787.99 306.73 788.18 308.79 788.36 310.67 788.55 311.25 788.74 308.77 788.92 311.12 789.11 314.65 789.29 308.96 789.48 300.42 789.67 313.95 789.85 303.29 790.04 304.96 790.22 308 790.41 307.76 790.6 303.39 790.78 311.24 790.97 305.33 791.15 310.14 791.34 311.68 791.53 302.69 791.71 317.88 791.9 310.84 792.08 315.97 792.27 313.75 792.46 304.13 792.64 316.77 792.83 321.47 793.01 305.94 793.2 298.29 793.39 315.56 793.57 305.34 793.76 304.41 793.94 315.48 794.13 316.97 794.32 293.87 794.5 303.12 794.69 319.23 794.87 308.15 795.06 301.45 795.25 321.94 795.43 313.56 795.62 310.35 795.8 301.66 795.99 306.63 796.18 316.7 796.36 318.12 796.55 315.86 796.73 306.5 796.92 306.3 797.11 312.91 797.29 306.15 797.48 328.84 797.66 298.23 797.85 323.15 798.04 319.11 798.22 306.42 798.41 310.07 798.59 330.71 798.78 304.23 798.97 311.59 799.15 303.11 799.34 329.57 799.53 305.92 799.71 311.93 799.9 308.2 800.08 312.24 800.27 306.39 800.46 306.66 800.64 308.66 800.83 323.52 801.01 312.49 801.2 311.02 801.39 306.65 801.57 310.98 801.76 323.2 801.94 307.42 802.13 312.38 802.32 317.71 802.5 323.96 802.69 329.44 802.87 309.86 803.06 321.53 803.25 302.66 803.43 314.08 803.62 303.5 803.8 305.67 803.99 321.21 804.18 320.53 804.36 310.01 804.55 320.81 804.73 309.77 804.92 317.75 805.11 305.24 805.29 311.41 805.48 305.55 805.66 321.65 805.85 311.36 806.04 311.96 806.22 312.89 806.41 320.64 806.59 325.56 806.78 305.87 806.97 311.99 807.15 312.81 807.34 314.47 807.52 306.03 807.71 303.6 807.9 308.3 808.08 307.95 808.27 307.46 808.45 319.12 808.64 309.77 808.83 302.89 809.01 321.88 809.2 315.34 809.39 318.91 809.57 314.7 809.76 311.26 809.94 319 810.13 304.44 810.32 308.39 810.5 315.91 810.69 316.51 810.87 298.74 811.06 318.56 811.25 319.82 811.43 305.97 811.62 311.25 811.8 311.79 811.99 317.23 812.18 302.94 812.36 307.3 812.55 318.33 812.73 315.89 812.92 319.01 813.11 302.78 813.29 313.06 813.48 312.54 813.66 310.62 813.85 295.06 814.04 324.66 814.22 313.84 814.41 326.6 814.59 317.99 814.78 315.9 814.97 323.77 815.15 324.43 815.34 310.82 815.52 317.86 815.71 318.36 815.9 317.5 816.08 312.16 816.27 308.63 816.45 309.55 816.64 319.23 816.83 322.32 817.01 317.34 817.2 315.06 817.38 312.25 817.57 316.03 817.76 322.65 817.94 317.42 818.13 313.55 818.31 300.09 818.5 319.13 818.69 319.75 818.87 310.59 819.06 322.87 819.24 298.04 819.43 315.37 819.62 312.67 819.8 315.99 819.99 313.05 820.18 310.61 820.36 308.8 820.55 308.35 820.73 321.8 820.92 309.7 821.11 310.48 821.29 310.69 821.48 309.4 821.66 312.74 821.85 314.46 822.04 306.11 822.22 317.81 822.41 318.21 822.59 306.68 822.78 322.63 822.97 319.16 823.15 324.34 823.34 312.86 823.52 312.09 823.71 313.02 823.9 311.89 824.08 321.08 824.27 321.07 824.45 315.55 824.64 328.63 824.83 308.5 825.01 315.3 825.2 315.05 825.38 312.95 825.57 314.22 825.76 312.32 825.94 324.52 826.13 328.4 826.31 312.55 826.5 310.16 826.69 328.42 826.87 326.96 827.06 308.12 827.24 303.62 827.43 320.8 827.62 322.08 827.8 311.57 827.99 318.66 828.17 309.9 828.36 322.91 828.55 310.71 828.73 320.22 828.92 323.19 829.1 324.52 829.29 307.23 829.48 304.7 829.66 302.38 829.85 320.18 830.03 305.51 830.22 313.69 830.41 304.56 830.59 309.69 830.78 312.25 830.97 316.63 831.15 319.27 831.34 315.69 831.52 328.77 831.71 318.29 831.9 303.17 832.08 316.14 832.27 322.53 832.45 314.78 832.64 322.14 832.83 308.64 833.01 307.81 833.2 318.12 833.38 318.01 833.57 317.12 833.76 318.4 833.94 320.41 834.13 304.08 834.31 324.15 834.5 317.84 834.69 319.11 834.87 314.1 835.06 318.84 835.24 313.64 835.43 319.72 835.62 313.06 835.8 315.01 835.99 320.71 836.17 311.8 836.36 324.56 836.55 310.82 836.73 311.24 836.92 307.91 837.1 318.09 837.29 313.67 837.48 312.03 837.66 309.85 837.85 309.74 838.03 304.92 838.22 317.24 838.41 318.8 838.59 319.78 838.78 315.63 838.96 321.02 839.15 318.15 839.34 321.34 839.52 313.78 839.71 311.93 839.89 322.04 840.08 312.55 840.27 325.83 840.45 314.05 840.64 310.84 840.83 315.49 841.01 325.16 841.2 324.13 841.38 311.25 841.57 297.85 841.76 322.81 841.94 317.33 842.13 314.98 842.31 316.19 842.5 307.92 842.69 323.25 842.87 317.32 843.06 323.23 843.24 314.35 843.43 313.1 843.62 317.38 843.8 328.22 843.99 321.29 844.17 298.76 844.36 315.8 844.55 319.77 844.73 316.62 844.92 321.51 845.1 317.08 845.29 319.84 845.48 316.87 845.66 309.99 845.85 318.16 846.03 316.73 846.22 315.52 846.41 319.19 846.59 314.15 846.78 307.93 846.96 314.54 847.15 312.08 847.34 314.36 847.52 313.64 847.71 317.96 847.89 299.91 848.08 310.88 848.27 303.84 848.45 307.06 848.64 315.22 848.82 316.2 849.01 307.21 849.2 312.97 849.38 308.89 849.57 312.03 849.75 307.1 849.94 307.09 850.13 320 850.31 311.87 850.5 302.69 850.68 319.01 850.87 315.5 851.06 318.32 851.24 313.83 851.43 317.68 851.62 316.74 851.8 302.31 851.99 313.55 852.17 318.31 852.36 319.45 852.55 317.5 852.73 321.25 852.92 318.64 853.1 310.37 853.29 312.55 853.48 324.88 853.66 318.99 853.85 319.36 854.03 316.33 854.22 313.46 854.41 321.46 854.59 320.83 854.78 319.14 854.96 310.45 855.15 325.57 855.34 301.18 855.52 309.89 855.71 308.36 855.89 305.36 856.08 308.31 856.27 311.59 856.45 319.07 856.64 305.77 856.82 325.65 857.01 311.84 857.2 313.32 857.38 309.77 857.57 317.54 857.75 308.7 857.94 316.71 858.13 316.83 858.31 317.58 858.5 319.68 858.68 312.43 858.87 309.91 859.06 325.77 859.24 319.53 859.43 313.45 859.61 314.4 859.8 318.43 859.99 316.11 860.17 306.45 860.36 325.67 860.54 323.99 860.73 312 860.92 315.84 861.1 322.23 861.29 310.97 861.48 319.68 861.66 324.09 861.85 315.69 862.03 320.14 862.22 305.13 862.41 321.98 862.59 319.76 862.78 320.13 862.96 324.52 863.15 299.6 863.34 320.38 863.52 315.94 863.71 311.66 863.89 308.71 864.08 328.96 864.27 307.84 864.45 316.77 864.64 303.98 864.82 319.22 865.01 322.82 865.2 311.67 865.38 324.1 865.57 313.22 865.75 325.06 865.94 322.65 866.13 313.01 866.31 316.08 866.5 316.75 866.68 314.74 866.87 307.98 867.06 311.3 867.24 320.06 867.43 310.32 867.61 316.18 867.8 320.41 867.99 317.67 868.17 323.44 868.36 307.82 868.54 323.99 868.73 315.33 868.92 321.4 869.1 315.2 869.29 334.6 869.47 322.2 869.66 303.65 869.85 309.84 870.03 310.27 870.22 323.1 870.4 325.18 870.59 313.08 870.78 315.11 870.96 316.51 871.15 317.74 871.33 312 871.52 300.48 871.71 318.85 871.89 326.69 872.08 310.3 872.27 324.34 872.45 321.28 872.64 307.69 872.82 317.08 873.01 308.62 873.2 323.24 873.38 315.51 873.57 311.22 873.75 312.71 873.94 310.37 874.13 318.86 874.31 320.87 874.5 316 874.68 309.18 874.87 320.26 875.06 312.98 875.24 308.33 875.43 327.6 875.61 313.59 875.8 324.4 875.99 310.11 876.17 310.88 876.36 307.49 876.54 316.97 876.73 308.75 876.92 306.33 877.1 309.22 877.29 309.41 877.47 314.21 877.66 317.6 877.85 316.38 878.03 309.38 878.22 322.15 878.4 315.65 878.59 304.09 878.78 309.45 878.96 329.87 879.15 313.31 879.33 325.81 879.52 325.38 879.71 320.04 879.89 306.65 880.08 299.83 880.26 323.4 880.45 308.66 880.64 320.95 880.82 305.39 881.01 311.38 881.19 311.96 881.38 300.39 881.57 313.46 881.75 316.28 881.94 333.66 882.12 308.36 882.31 313.11 882.5 321.86 882.68 315.12 882.87 319.38 883.06 324.03 883.24 327.23 883.43 306.06 883.61 309.84 883.8 310.53 883.99 323.17 884.17 321.66 884.36 304.67 884.54 311.39 884.73 304.88 884.92 325.24 885.1 279.73 885.29 282.23 885.47 273.59 885.66 282.4 885.85 274.38 886.03 266.77 886.22 259.64 886.4 257.12 886.59 264.55 886.78 264.94 886.96 248.96 887.15 254.02 887.33 265.71 887.52 248.4 887.71 248.26 887.89 256.66 888.08 236.83 888.26 247.38 888.45 246.81 888.64 252.5 888.82 231.6 889.01 233.34 889.19 243.69 889.38 243.27 889.57 247 889.75 244.95 889.94 234.27 890.12 233.84 890.31 238.65 890.5 242.65 890.68 226.41 890.87 223.22 891.05 230.12 891.24 226.85 891.43 215.12 891.61 228.28 891.8 231.74 891.98 223.22 892.17 229.6 892.36 214.67 892.54 226.11 892.73 218.41 892.92 215.27 893.1 206.12 893.29 214.48 893.47 217.13 893.66 217.11 893.85 218.55 894.03 217.15 894.22 215.11 894.4 209.61 894.59 208.99 894.78 210.85 894.96 198.17 895.15 213.62 895.33 196.36 895.52 203.32 895.71 190.87 895.89 214.63 896.08 201.95 896.26 206.91 896.45 202.3 896.64 204.26 896.82 203.03 897.01 202.59 897.19 206.5 897.38 189.29 897.57 201.34 897.75 197.85 897.94 194.42 898.12 189.55 898.31 200.92 898.5 192.9 898.68 197.14 898.87 188.6 899.05 189.63 899.24 189.59 899.43 184.87 899.61 207.83 899.8 187.22 899.98 200.98 900.17 195.05 900.36 188.35 900.54 183.15 900.73 194.15 900.91 193.05 901.1 180.38 901.29 195.68 901.47 192.12 901.66 182.4 901.84 183.18 902.03 192.59 902.22 180.28 902.4 172.3 902.59 178.19 902.77 180.23 902.96 175.47 903.15 193.42 903.33 179.34 903.52 180.84 903.71 176.22 903.89 182.7 904.08 178.5 904.26 177.12 904.45 178.64 904.64 181.73 904.82 158.53 905.01 180.69 905.19 170.92 905.38 175.39 905.57 179.55 905.75 175.2 905.94 168.3 906.12 185.63 906.31 187.12 906.5 175.41 906.68 173.89 906.87 175.33 907.05 174 907.24 181.37 907.43 167.25 907.61 178.69 907.8 177.38 907.98 174.08 908.17 179.56 908.36 170.71 908.54 168.75 908.73 171.85 908.91 167.93 909.1 187.67 909.29 167.35 909.47 162.67 909.66 176.5 909.84 171.98 910.03 170.78 910.22 161.97 910.4 156.59 910.59 160.48 910.77 162.49 910.96 160.5 911.15 169.5 911.33 168.13 911.52 168.44 911.7 160.27 911.89 176.2 912.08 157.74 912.26 172.49 912.45 163.07 912.63 177.87 912.82 166.01 913.01 168.91 913.19 163.22 913.38 166.88 913.57 158.2 913.75 186.9 913.94 161.05 914.12 166.23 914.31 171.61 914.5 163.36 914.68 171.9 914.87 161.7 915.05 173.81 915.24 166.69 915.43 166.46 915.61 160.75 915.8 163.91 915.98 152.24 916.17 172.89 916.36 166.16 916.54 159.57 916.73 175.3 916.91 163.79 917.1 171.19 917.29 159.73 917.47 165.18 917.66 165.56 917.84 175.84 918.03 153.64 918.22 165.65 918.4 162.05 918.59 156.16 918.77 163.28 918.96 160.98 919.15 154.03 919.33 161.2 919.52 156.54 919.7 141.72 919.89 158.07 920.08 159.22 920.26 157.14 920.45 167.48 920.63 166.14 920.82 154.99 921.01 164.25 921.19 150.44 921.38 160.63 921.56 164.27 921.75 158.07 921.94 154.17 922.12 156.71 922.31 148.14 922.49 155.63 922.68 163.97 922.87 164.48 923.05 158.27 923.24 157.57 923.42 159.29 923.61 151.12 923.8 148.69 923.98 157.83 924.17 158.62 924.36 155.66 924.54 155.91 924.73 157.76 924.91 152.9 925.1 161.8 925.29 163.28 925.47 158.24 925.66 147.82 925.84 160.43 926.03 163.16 926.22 154.16 926.4 146.4 926.59 155 926.77 172.56 926.96 150.44 927.15 162.68 927.33 156.35 927.52 164.72 927.7 170.51 927.89 163.26 928.08 160.06 928.26 155.75 928.45 147.99 928.63 144.36 928.82 166.41 929.01 153.6 929.19 164.53 929.38 157.95 929.56 152.8 929.75 151.27 929.94 162.48 930.12 151.64 930.31 154 930.49 153.52 930.68 156.49 930.87 161.12 931.05 159.01 931.24 166.84 931.42 169.8 931.61 155.1 931.8 161.04 931.98 157.86 932.17 144.34 932.35 154.41 932.54 168.28 932.73 150.49 932.91 150.41 933.1 151.65 933.28 151.44 933.47 153.97 933.66 169.18 933.84 141.44 934.03 160.58 934.22 156.67 934.4 158.33 934.59 165.66 934.77 158.53 934.96 153.97 935.15 154.47 935.33 167.19 935.52 158.22 935.7 140.77 935.89 155.19 936.08 163.58 936.26 156.91 936.45 162.77 936.63 162 936.82 147.28 937.01 148.41 937.19 157.49 937.38 171.03 937.56 156.36 937.75 156.02 937.94 153.15 938.12 151.57 938.31 161.33 938.49 157.43 938.68 145.64 938.87 142.53 939.05 153.75 939.24 151.63 939.42 145.91 939.61 143.75 939.8 162.54 939.98 162.05 940.17 153.77 940.35 159.87 940.54 165.67 940.73 154.13 940.91 139.2 941.1 152.51 941.28 150.04 941.47 154.8 941.66 155.05 941.84 159.17 942.03 158.3 942.21 152.33 942.4 159.32 942.59 157.21 942.77 160.19 942.96 157.25 943.14 146.55 943.33 146.83 943.52 155.45 943.7 157.08 943.89 143.2 944.07 154.27 944.26 145.16 944.45 156.59 944.63 156.93 944.82 151.6 945.01 152.71 945.19 161.59 945.38 139.14 945.56 150.23 945.75 143.99 945.94 150.07 946.12 142.94 946.31 159.36 946.49 156.45 946.68 148.55 946.87 157.63 947.05 156.8 947.24 144.38 947.42 164.73 947.61 152.53 947.8 163.09 947.98 142.44 948.17 140.04 948.35 162.17 948.54 161.26 948.73 151.68 948.91 156.09 949.1 144.34 949.28 143.5 949.47 151.39 949.66 152.2 949.84 159.97 950.03 152.09 950.21 146.01 950.4 144.89 950.59 152.77 950.77 160.29 950.96 151.74 951.14 155.94 951.33 163.28 951.52 157.51 951.7 141.4 951.89 160.6 952.07 158.57 952.26 155.41 952.45 160.18 952.63 168.11 952.82 156.84 953 138.91 953.19 149.89 953.38 152.98 953.56 148.83 953.75 155.58 953.93 161.87 954.12 154.58 954.31 152.26 954.49 156.26 954.68 137.05 954.86 151.89 955.05 160.34 955.24 150.47 955.42 162.47 955.61 160.13 955.8 159.46 955.98 158.67 956.17 170.63 956.35 163.23 956.54 145.86 956.73 151.03 956.91 151.77 957.1 161.63 957.28 160.16 957.47 151.74 957.66 155.06 957.84 160.98 958.03 158.85 958.21 149.62 958.4 142.64 958.59 141.41 958.77 147.17 958.96 164.12 959.14 149.2 959.33 152.23 959.52 168.32 959.7 158.3 959.89 145.61 960.07 154.48 960.26 160.73 960.45 148.43 960.63 147.24 960.82 152.88 961 152.68 961.19 147.57 961.38 141.44 961.56 155.01 961.75 149.93 961.93 150.59 962.12 155.97 962.31 163.02 962.49 152.42 962.68 149.66 962.86 156.53 963.05 152.78 963.24 154.31 963.42 155.43 963.61 143.77 963.79 155.99 963.98 155.39 964.17 149.6 964.35 151.78 964.54 149.72 964.72 148.21 964.91 150.26 965.1 151.4 965.28 154.58 965.47 152.15 965.66 149.33 965.84 153.34 966.03 146.56 966.21 144.52 966.4 147.41 966.59 138.78 966.77 153.77 966.96 157.68 967.14 150.05 967.33 145.67 967.52 164.98 967.7 157.6 967.89 158.1 968.07 136.52 968.26 162.4 968.45 159.72 968.63 160.01 968.82 153.24 969 141.62 969.19 169.29 969.38 152.85 969.56 147.57 969.75 165.22 969.93 148.92 970.12 146.61 970.31 158.15 970.49 143.91 970.68 146.74 970.86 162.18 971.05 141.85 971.24 152.37 971.42 143.46 971.61 144.62 971.79 157.06 971.98 159.5 972.17 164.92 972.35 152.8 972.54 154.48 972.72 139.68 972.91 160.94 973.1 154.99 973.28 149.25 973.47 153.17 973.65 158.18 973.84 170.55 974.03 155.76 974.21 148.63 974.4 157.47 974.58 143.89 974.77 145.25 974.96 159.26 975.14 153.41 975.33 158.16 975.51 162.76 975.7 153.32 975.89 142.76 976.07 147.11 976.26 145.31 976.45 152.5 976.63 148.77 976.82 163.23 977 146.19 977.19 159.34 977.38 153.03 977.56 145.2 977.75 151.71 977.93 150.41 978.12 151.8 978.31 165.86 978.49 154.09 978.68 154.55 978.86 164.38 979.05 153.73 979.24 158.66 979.42 157.39 979.61 141.15 979.79 157.35 979.98 144.37 980.17 153.89 980.35 164.8 980.54 154.56 980.72 153.71 980.91 143.07 981.1 157.49 981.28 144.45 981.47 149.8 981.65 139.49 981.84 151.62 982.03 151.71 982.21 168.24 982.4 138.82 982.58 153.42 982.77 155.08 982.96 150.95 983.14 155.32 983.33 150.61 983.51 154.83 983.7 152.75 983.89 153.19 984.07 147.39 984.26 155.17 984.44 151.73 984.63 145.86 984.82 161.24 985 167.4 985.19 160.95 985.37 146.15 985.56 154.08 985.75 159.49 985.93 145.9 986.12 154.78 986.31 160.14 986.49 153.89 986.68 153.81 986.86 142.09 987.05 159.31 987.24 144.59 987.42 153.75 987.61 138.72 987.79 163.26 987.98 146.54 988.17 143.87 988.35 157.73 988.54 144.84 988.72 140.65 988.91 150.94 989.1 145.35 989.28 154.86 989.47 158.35 989.65 152.6 989.84 163.07 990.03 153.17 990.21 148.15 990.4 139.7 990.58 149.87 990.77 150.58 990.96 154.93 991.14 147.47 991.33 148.59 991.51 156.14 991.7 157.09 991.89 156.54 992.07 152.79 992.26 149.72 992.44 154.09 992.63 161.33 992.82 152.95 993 165.24 993.19 149.19 993.37 145.4 993.56 166.54 993.75 156.07 993.93 154.51 994.12 155.01 994.3 152.72 994.49 143.31 994.68 145.69 994.86 140.3 995.05 154.36 995.23 137.88 995.42 157.28 995.61 145.95 995.79 147.24 995.98 156.09 996.16 159.01 996.35 140.67 996.54 157.32 996.72 153.35 996.91 158.33 997.1 153.69 997.28 150.2 997.47 147.89 997.65 151.5 997.84 147.9 998.03 144.63 998.21 161.88 998.4 158.85 998.58 147.55 998.77 155.95 998.96 160.05 999.14 143.22 999.33 148.82 999.51 162.28 999.7 158.57 999.89 158.46 1000.07 161.19 1000.26 157.5 1000.44 161.09 1000.63 147.67 1000.82 160.62 1001 154.7 1001.19 145.28 1001.37 154.03 1001.56 155.85 1001.75 157.14 1001.93 150.09 1002.12 153.44 1002.3 150.25 1002.49 148.03 1002.68 151.86 1002.86 155.52 1003.05 147.43 1003.23 167.71 1003.42 151.8 1003.61 155.6 1003.79 143.2 1003.98 166.31 1004.16 157.99 1004.35 155.92 1004.54 155.27 1004.72 162.71 1004.91 149.56 1005.09 153.36 1005.28 156.6 1005.47 147.92 1005.65 149.65 1005.84 145.63 1006.02 154.26 1006.21 150.88 1006.4 153.38 1006.58 158.21 1006.77 151.45 1006.95 165.37 1007.14 146.24 1007.33 152.51 1007.51 139.28 1007.7 152.03 1007.89 145.76 1008.07 149.4 1008.26 147.34 1008.44 144.66 1008.63 146.58 1008.82 156.68 1009 157.63 1009.19 158.07 1009.37 156.88 1009.56 148.54 1009.75 146.39 1009.93 159.64 1010.12 148.99 1010.3 150.3 1010.49 142.02 1010.68 156.35 1010.86 155.8 1011.05 153.46 1011.23 153.11 1011.42 137.63 1011.61 155.2 1011.79 153.78 1011.98 148.65 1012.16 148.57 1012.35 151.6" fill="none" stroke="#00ff00" stroke-width="1.2"/>
<path d="M751.9 472.68 752.09 462.39 752.27 481.93 752.46 472.39 752.64 470.64 752.83 482.5 753.02 477.98 753.2 472.96 753.39 482.26 753.57 494.61 753.76 487.83 753.95 501.04 754.13 487.09 754.32 482.34 754.5 492.94 754.69 497.88 754.88 500.24 755.06 487.81 755.25 496.85 755.43 501.46 755.62 504.52 755.81 510.97 755.99 500.29 756.18 519.45 756.36 502.88 756.55 505.26 756.74 505.27 756.92 504.8 757.11 522.53 757.3 506.15 757.48 503.95 757.67 512.73 757.85 511 758.04 505.15 758.23 517.79 758.41 517.06 758.6 512.93 758.78 525.28 758.97 517.24 759.16 528.31 759.34 532.06 759.53 529.03 759.71 520.29 759.9 523.56 760.09 522.11 760.27 521.15 760.46 528.62 760.64 533.58 760.83 530.46 761.02 531.66 761.2 535.38 761.39 522.96 761.57 540.96 761.76 532.07 761.95 537.28 762.13 533.13 762.32 540.07 762.5 529.09 762.69 532.4 762.88 540.5 763.06 533.21 763.25 538.19 763.43 538.75 763.62 537.31 763.81 529.07 763.99 543.03 764.18 525.41 764.36 549.57 764.55 540.46 764.74 557.17 764.92 547.93 765.11 535.85 765.29 546.95 765.48 538.22 765.67 548.09 765.85 533.98 766.04 537.03 766.22 543.49 766.41 542.94 766.6 539.13 766.78 553.99 766.97 550.99 767.15 545.59 767.34 553.58 767.53 547.84 767.71 543.84 767.9 550.86 768.09 548.6 768.27 543.74 768.46 545.87 768.64 548.98 768.83 556.16 769.02 554.06 769.2 548.23 769.39 540.14 769.57 557.47 769.76 547.6 769.95 548.45 770.13 545.07 770.32 553.21 770.5 556.08 770.69 557.26 770.88 549.27 771.06 563.45 771.25 549.62 771.43 561.69 771.62 567.43 771.81 551.85 771.99 548.78 772.18 560.56 772.36 552.5 772.55 560.79 772.74 544.93 772.92 556.59 773.11 560.61 773.29 554.32 773.48 563.02 773.67 556.94 773.85 558.29 774.04 557.63 774.22 557.75 774.41 554.62 774.6 556.6 774.78 552.33 774.97 569 775.15 553.86 775.34 562.11 775.53 560.16 775.71 566.67 775.9 556.33 776.08 549.94 776.27 564.29 776.46 562.24 776.64 553.26 776.83 557.15 777.01 560.55 777.2 558 777.39 562.88 777.57 554.7 777.76 554.8 777.94 565.97 778.13 567.55 778.32 563.37 778.5 562.81 778.69 557.24 778.88 556.16 779.06 568.41 779.25 556.73 779.43 560.9 779.62 558.98 779.81 563.33 779.99 560.03 780.18 552.59 780.36 553.51 780.55 573.17 780.74 555.71 780.92 553.96 781.11 565.63 781.29 563.83 781.48 559.95 781.67 575.51 781.85 558.73 782.04 553.69 782.22 567.28 782.41 559.03 782.6 565.26 782.78 563.27 782.97 561.75 783.15 569.1 783.34 548.28 783.53 560.93 783.71 578.07 783.9 574.55 784.08 570.33 784.27 561.55 784.46 579.88 784.64 552.32 784.83 570.41 785.01 567.25 785.2 565.34 785.39 568.38 785.57 557.16 785.76 563.54 785.94 564.78 786.13 567.86 786.32 570.37 786.5 583.23 786.69 571.46 786.87 566.84 787.06 550.9 787.25 563.89 787.43 560.38 787.62 574.28 787.8 570.3 787.99 571.49 788.18 570.81 788.36 559.08 788.55 567.53 788.74 568.11 788.92 567.14 789.11 564.64 789.29 565.98 789.48 562.84 789.67 565.72 789.85 565.63 790.04 569.73 790.22 561 790.41 563.97 790.6 567.21 790.78 570.72 790.97 554.45 791.15 561.46 791.34 563.54 791.53 568.45 791.71 564.94 791.9 570.85 792.08 557.35 792.27 562.23 792.46 563.38 792.64 565.31 792.83 564.29 793.01 572.24 793.2 561.41 793.39 569.26 793.57 574.7 793.76 567.02 793.94 562.17 794.13 559.1 794.32 560.59 794.5 558.68 794.69 561.12 794.87 573.72 795.06 570.89 795.25 566.77 795.43 563.24 795.62 563.24 795.8 569.05 795.99 568.13 796.18 567.68 796.36 564.59 796.55 566.9 796.73 564.92 796.92 566.58 797.11 568.78 797.29 557.5 797.48 564.89 797.66 568.9 797.85 575.39 798.04 572.17 798.22 565.43 798.41 558.33 798.59 569.56 798.78 570.24 798.97 565.11 799.15 566.28 799.34 565.32 799.53 580.99 799.71 579.06 799.9 580.77 800.08 572.14 800.27 568 800.46 559 800.64 566.9 800.83 559.41 801.01 566.56 801.2 574.4 801.39 571.61 801.57 579.46 801.76 570.02 801.94 557.75 802.13 569.96 802.32 576 802.5 567.85 802.69 578.8 802.87 567.57 803.06 548.66 803.25 565.87 803.43 559.46 803.62 568.71 803.8 565.65 803.99 567.01 804.18 567.43 804.36 566.3 804.55 570.55 804.73 569.69 804.92 567.89 805.11 581.2 805.29 561.45 805.48 557.96 805.66 572.86 805.85 571.52 806.04 569.46 806.22 570.67 806.41 568.57 806.59 579.71 806.78 568.64 806.97 575.3 807.15 572.66 807.34 568.02 807.52 571.65 807.71 565.18 807.9 570.36 808.08 574.36 808.27 567.68 808.45 562.11 808.64 564.25 808.83 563.75 809.01 563.65 809.2 568.15 809.39 571.8 809.57 571.57 809.76 566.05 809.94 558.26 810.13 572.07 810.32 555.65 810.5 561.9 810.69 571.25 810.87 561.92 811.06 574.5 811.25 574.14 811.43 556.87 811.62 570.62 811.8 559.59 811.99 566.89 812.18 571.23 812.36 562.41 812.55 575.7 812.73 557.91 812.92 576.3 813.11 579.8 813.29 576.76 813.48 560.1 813.66 566.32 813.85 572.61 814.04 572.6 814.22 573.01 814.41 572.23 814.59 564.24 814.78 573.86 814.97 568.92 815.15 576.03 815.34 572.91 815.52 570.33 815.71 555.14 815.9 573.74 816.08 571.89 816.27 578.05 816.45 578.15 816.64 572.56 816.83 562.58 817.01 575.76 817.2 566.72 817.38 569.95 817.57 561.95 817.76 556.09 817.94 583.36 818.13 573.19 818.31 562.08 818.5 574.65 818.69 562.39 818.87 569.48 819.06 566.7 819.24 570.79 819.43 570.96 819.62 561.21 819.8 563.06 819.99 572.84 820.18 574.73 820.36 575.77 820.55 574.84 820.73 569.32 820.92 566.34 821.11 577.66 821.29 567.75 821.48 572.81 821.66 572.81 821.85 574.14 822.04 576.99 822.22 572.1 822.41 567.01 822.59 572.28 822.78 576.61 822.97 575.13 823.15 561.29 823.34 566.08 823.52 569.65 823.71 563.9 823.9 564.54 824.08 571.48 824.27 561.52 824.45 567.29 824.64 553.01 824.83 559.61 825.01 559.5 825.2 568.85 825.38 569.23 825.57 570 825.76 567.91 825.94 575.52 826.13 568.65 826.31 573.37 826.5 570.72 826.69 567.86 826.87 563.11 827.06 566.94 827.24 566.97 827.43 571.89 827.62 563.94 827.8 570.61 827.99 565.99 828.17 565.57 828.36 563.07 828.55 567.95 828.73 569.6 828.92 557.71 829.1 566.67 829.29 574.11 829.48 572.89 829.66 588.11 829.85 570.44 830.03 577.81 830.22 567.22 830.41 566.67 830.59 569.23 830.78 575.73 830.97 575.41 831.15 573.92 831.34 551.61 831.52 573.11 831.71 564.03 831.9 568.7 832.08 576.44 832.27 564.68 832.45 575.15 832.64 573.87 832.83 564.57 833.01 578.44 833.2 567.83 833.38 578.49 833.57 571.78 833.76 564.54 833.94 561.85 834.13 581.28 834.31 569.21 834.5 561.52 834.69 569.18 834.87 569.74 835.06 570.38 835.24 573.06 835.43 569.32 835.62 567.81 835.8 572.24 835.99 578 836.17 572.43 836.36 565.32 836.55 557.11 836.73 570.92 836.92 578.46 837.1 566.81 837.29 567.51 837.48 572.96 837.66 564.98 837.85 570.49 838.03 572.47 838.22 572.74 838.41 567.03 838.59 563.33 838.78 573.99 838.96 563.42 839.15 575.76 839.34 574.39 839.52 572.3 839.71 561.79 839.89 564.75 840.08 565.29 840.27 565.97 840.45 558.6 840.64 556.72 840.83 560.41 841.01 569.93 841.2 571.36 841.38 565.07 841.57 567.42 841.76 584.81 841.94 567 842.13 574.99 842.31 555.93 842.5 582.71 842.69 556.72 842.87 565.41 843.06 571.51 843.24 573.11 843.43 565.89 843.62 564.74 843.8 565.28 843.99 562.88 844.17 571.56 844.36 570.36 844.55 562.12 844.73 571.77 844.92 571.07 845.1 573.18 845.29 573.7 845.48 569.02 845.66 566.82 845.85 574.53 846.03 559.2 846.22 562.5 846.41 566.98 846.59 559.34 846.78 567.55 846.96 575.86 847.15 567.14 847.34 556.42 847.52 569.05 847.71 570.03 847.89 575.84 848.08 571.26 848.27 571.39 848.45 566.5 848.64 570.8 848.82 560.59 849.01 577.45 849.2 559.25 849.38 577.32 849.57 575.65 849.75 570.98 849.94 571.26 850.13 563.4 850.31 573.12 850.5 573.35 850.68 571.04 850.87 570.45 851.06 571.87 851.24 570.06 851.43 569.76 851.62 570.07 851.8 574.22 851.99 560.9 852.17 573.45 852.36 563.7 852.55 564.5 852.73 565.33 852.92 576.43 853.1 570.31 853.29 572.5 853.48 575.76 853.66 574.81 853.85 571.72 854.03 572.26 854.22 564.39 854.41 575.2 854.59 564.17 854.78 562.57 854.96 565.76 855.15 566.77 855.34 577.36 855.52 563.88 855.71 563.97 855.89 572.33 856.08 566.32 856.27 567.59 856.45 561 856.64 558.8 856.82 564.37 857.01 574.32 857.2 568.74 857.38 582.15 857.57 564.94 857.75 572.97 857.94 567.65 858.13 563.36 858.31 574.1 858.5 565.52 858.68 564.66 858.87 566.28 859.06 563.26 859.24 565.38 859.43 578.98 859.61 576.65 859.8 573.19 859.99 575.64 860.17 566.01 860.36 562.94 860.54 565.9 860.73 574.82 860.92 569.92 861.1 568.99 861.29 575.15 861.48 563.57 861.66 560.51 861.85 570.01 862.03 561.78 862.22 560.3 862.41 576.14 862.59 567.94 862.78 565.61 862.96 573.58 863.15 574.81 863.34 565.34 863.52 576.2 863.71 572.42 863.89 573.15 864.08 572.66 864.27 564.17 864.45 562.29 864.64 558.01 864.82 566.43 865.01 556.64 865.2 558.98 865.38 570.77 865.57 564.64 865.75 570.11 865.94 563.43 866.13 576.85 866.31 566.18 866.5 565.76 866.68 570.83 866.87 572.23 867.06 564.43 867.24 579.76 867.43 570.06 867.61 570.81 867.8 569.07 867.99 577.47 868.17 570.64 868.36 562.62 868.54 566.38 868.73 575.21 868.92 566.31 869.1 574.54 869.29 588.39 869.47 570.47 869.66 570.22 869.85 571.8 870.03 585.2 870.22 564.1 870.4 571.79 870.59 565.06 870.78 573.22 870.96 569.3 871.15 560.45 871.33 568.28 871.52 572.83 871.71 572.11 871.89 561.95 872.08 564.98 872.27 568.96 872.45 576.28 872.64 567.92 872.82 576.82 873.01 564.59 873.2 568.14 873.38 567.98 873.57 579.11 873.75 562.95 873.94 571.2 874.13 570.14 874.31 564.97 874.5 561.06 874.68 575.45 874.87 586.24 875.06 575.33 875.24 573.53 875.43 563.66 875.61 569.61 875.8 565.84 875.99 563.35 876.17 570.11 876.36 558.76 876.54 574.32 876.73 569.31 876.92 564.15 877.1 567.67 877.29 567.82 877.47 568.14 877.66 574.67 877.85 573.41 878.03 569.89 878.22 572.99 878.4 562.11 878.59 573.19 878.78 564.41 878.96 562.32 879.15 562.6 879.33 569.07 879.52 577.16 879.71 560.23 879.89 580.54 880.08 560.44 880.26 567.11 880.45 565.47 880.64 567.54 880.82 564.33 881.01 567.1 881.19 574.77 881.38 575.31 881.57 570.32 881.75 570.44 881.94 573.12 882.12 559.85 882.31 573.22 882.5 565.99 882.68 564.74 882.87 567.97 883.06 562.96 883.24 565.13 883.43 573.78 883.61 568.22 883.8 572.38 883.99 576.92 884.17 567.39 884.36 564.41 884.54 540.85 884.73 537.91 884.92 545 885.1 545.99 885.29 542.64 885.47 534.75 885.66 538.64 885.85 543.01 886.03 538.03 886.22 531.23 886.4 550.22 886.59 535.2 886.78 531.75 886.96 527.87 887.15 534.66 887.33 533.27 887.52 532.78 887.71 541.37 887.89 526.13 888.08 524.71 888.26 535.45 888.45 529.95 888.64 529.39 888.82 529.66 889.01 525.84 889.19 504.89 889.38 508.57 889.57 507.16 889.75 511.72 889.94 517.55 890.12 524.73 890.31 516.12 890.5 516.95 890.68 515.39 890.87 513.08 891.05 509.33 891.24 515.93 891.43 514.59 891.61 521.61 891.8 509.79 891.98 503.06 892.17 497.88 892.36 503.24 892.54 515.14 892.73 509.51 892.92 510.63 893.1 498.55 893.29 500 893.47 503.21 893.66 505.13 893.85 505.98 894.03 499.08 894.22 505.44 894.4 501.71 894.59 497.03 894.78 507.51 894.96 507.1 895.15 496.12 895.33 499.31 895.52 498.63 895.71 495.89 895.89 492.71 896.08 500.89 896.26 491.65 896.45 495.09 896.64 502.24 896.82 491.21 897.01 490.29 897.19 501.42 897.38 487.79 897.57 498.25 897.75 488.91 897.94 489.63 898.12 493.65 898.31 489.51 898.5 496.82 898.68 488.13 898.87 487.47 899.05 489.81 899.24 484.23 899.43 488.87 899.61 481.97 899.8 482.66 899.98 490.14 900.17 489.31 900.36 490.84 900.54 484.82 900.73 482.75 900.91 477.95 901.1 486.51 901.29 485.48 901.47 478.37 901.66 476.72 901.84 485.95 902.03 485.13 902.22 491.61 902.4 478.3 902.59 481.38 902.77 474.04 902.96 480.59 903.15 480.84 903.33 483.74 903.52 483.82 903.71 477.92 903.89 475 904.08 486.74 904.26 481.78 904.45 485.38 904.64 486.21 904.82 485.48 905.01 479.56 905.19 487.21 905.38 474.93 905.57 480.89 905.75 477.41 905.94 482.2 906.12 474.26 906.31 479.69 906.5 477.73 906.68 477.23 906.87 486.69 907.05 478.03 907.24 486.3 907.43 482.37 907.61 481.44 907.8 474.85 907.98 474.26 908.17 483.77 908.36 477.14 908.54 475.73 908.73 483.36 908.91 474.11 909.1 473.37 909.29 481.18 909.47 476.54 909.66 466.5 909.84 470.54 910.03 476.14 910.22 480.87 910.4 464.77 910.59 475.46 910.77 483.05 910.96 466.43 911.15 475.36 911.33 473.45 911.52 478.75 911.7 473.87 911.89 482.55 912.08 476.01 912.26 477.02 912.45 475.33 912.63 481.04 912.82 490.95 913.01 472.99 913.19 486.3 913.38 478.61 913.57 473.02 913.75 477.75 913.94 476.9 914.12 468.35 914.31 467.12 914.5 469.39 914.68 483.32 914.87 475.1 915.05 474.4 915.24 468 915.43 480.33 915.61 481.84 915.8 461.52 915.98 486.71 916.17 464.64 916.36 468.39 916.54 469.05 916.73 480.49 916.91 475.56 917.1 482.1 917.29 467.59 917.47 464.41 917.66 474.43 917.84 475.21 918.03 453.55 918.22 471 918.4 464.67 918.59 487.76 918.77 468.39 918.96 487.84 919.15 472.33 919.33 472.16 919.52 472.47 919.7 471.2 919.89 475.08 920.08 482.84 920.26 472.18 920.45 469.86 920.63 473.97 920.82 471.13 921.01 467.8 921.19 468.22 921.38 476.71 921.56 467.33 921.75 480.35 921.94 475.44 922.12 481.74 922.31 465.3 922.49 473.05 922.68 464.87 922.87 483.07 923.05 471.6 923.24 477.45 923.42 470.98 923.61 474.22 923.8 480.11 923.98 472.31 924.17 473.09 924.36 466.19 924.54 460.7 924.73 475.01 924.91 475.44 925.1 472.47 925.29 470.43 925.47 466.3 925.66 470.81 925.84 478.11 926.03 470.21 926.22 474.15 926.4 486.94 926.59 476.2 926.77 472.26 926.96 466.43 927.15 475.95 927.33 475.37 927.52 456.82 927.7 467.15 927.89 468.06 928.08 472.52 928.26 472.32 928.45 467.57 928.63 470.48 928.82 474.53 929.01 480.92 929.19 458.98 929.38 464.02 929.56 475.98 929.75 468.31 929.94 463.85 930.12 472.03 930.31 465.26 930.49 469.76 930.68 466.5 930.87 472.26 931.05 472.77 931.24 476.76 931.42 483.86 931.61 470.22 931.8 478.71 931.98 482.01 932.17 470.95 932.35 469.67 932.54 461.01 932.73 471.42 932.91 469.76 933.1 470.07 933.28 466.81 933.47 470.56 933.66 469.53 933.84 466.84 934.03 476.77 934.22 459.18 934.4 471.64 934.59 481.19 934.77 474.91 934.96 484.49 935.15 471.29 935.33 469.93 935.52 468.58 935.7 472.49 935.89 470.67 936.08 472.67 936.26 471.58 936.45 471.16 936.63 476.72 936.82 465.04 937.01 469.76 937.19 477.58 937.38 468.82 937.56 458.26 937.75 468.73 937.94 460.47 938.12 461.31 938.31 472.21 938.49 464.53 938.68 475.41 938.87 463.56 939.05 474.8 939.24 470.18 939.42 465.77 939.61 460.89 939.8 466.29 939.98 459.57 940.17 467.47 940.35 456.46 940.54 468.84 940.73 482.42 940.91 477.77 941.1 462.34 941.28 470.42 941.47 477.42 941.66 476.75 941.84 460.34 942.03 469.71 942.21 471.01 942.4 466.95 942.59 468.55 942.77 466.3 942.96 468.86 943.14 478.01 943.33 477.95 943.52 467.71 943.7 467.78 943.89 464.39 944.07 468.13 944.26 459.66 944.45 472.29 944.63 470.32 944.82 468.39 945.01 482.62 945.19 470.14 945.38 476.5 945.56 477.85 945.75 463.92 945.94 463.29 946.12 465.09 946.31 464.63 946.49 477.58 946.68 456.53 946.87 468.33 947.05 473.54 947.24 464 947.42 471.77 947.61 455.7 947.8 464.61 947.98 462.94 948.17 481.58 948.35 468.22 948.54 474.84 948.73 469.11 948.91 460.09 949.1 475.96 949.28 464.43 949.47 465.98 949.66 479.52 949.84 469.1 950.03 470.33 950.21 461.49 950.4 482.87 950.59 480.93 950.77 470.1 950.96 466.28 951.14 460.69 951.33 466.03 951.52 466.47 951.7 448.17 951.89 471.74 952.07 472.27 952.26 463.64 952.45 463.12 952.63 471.15 952.82 465.26 953 473.41 953.19 472.51 953.38 482.12 953.56 472.4 953.75 469.61 953.93 460.02 954.12 461.67 954.31 467.73 954.49 466.01 954.68 451.7 954.86 469.79 955.05 472 955.24 465.84 955.42 488.98 955.61 466.68 955.8 475.75 955.98 478.68 956.17 469.6 956.35 470.73 956.54 455.21 956.73 478.25 956.91 468.35 957.1 465.26 957.28 471.99 957.47 464.87 957.66 470.76 957.84 461.7 958.03 465.07 958.21 463.15 958.4 463.84 958.59 462.7 958.77 475.21 958.96 465.74 959.14 473.1 959.33 463.07 959.52 476 959.7 473.37 959.89 473.45 960.07 464.5 960.26 461.5 960.45 472.82 960.63 468.76 960.82 473.24 961 466.14 961.19 468.96 961.38 462.64 961.56 470.46 961.75 462.5 961.93 470.16 962.12 459.25 962.31 465.25 962.49 473.6 962.68 464.57 962.86 466.8 963.05 464.56 963.24 470.96 963.42 475.53 963.61 467.84 963.79 474 963.98 464.8 964.17 462.61 964.35 472.79 964.54 475.96 964.72 473.48 964.91 468.77 965.1 467.97 965.28 463.63 965.47 465.83 965.66 455.72 965.84 480.51 966.03 467.51 966.21 466.65 966.4 480.36 966.59 477.02 966.77 476.44 966.96 461.04 967.14 454.84 967.33 459.26 967.52 477.08 967.7 466.44 967.89 469.24 968.07 472.11 968.26 467.39 968.45 463.28 968.63 461.76 968.82 464.75 969 461.28 969.19 477.53 969.38 465.99 969.56 476.25 969.75 471.49 969.93 479.16 970.12 465.38 970.31 461.97 970.49 471.6 970.68 469.08 970.86 458.37 971.05 473.61 971.24 470.28 971.42 468.14 971.61 469.56 971.79 464.04 971.98 462.26 972.17 467.61 972.35 476.87 972.54 475.53 972.72 467.82 972.91 471.26 973.1 475.12 973.28 467.28 973.47 465.64 973.65 464.14 973.84 462.08 974.03 475.97 974.21 469.31 974.4 476.56 974.58 470.14 974.77 469.25 974.96 471.9 975.14 461.34 975.33 473.1 975.51 479.01 975.7 471.74 975.89 462.91 976.07 473.76 976.26 462.36 976.45 466.59 976.63 470.56 976.82 470.19 977 465.08 977.19 488.41 977.38 467.08 977.56 467.16 977.75 462.95 977.93 464.84 978.12 469.96 978.31 478.01 978.49 483.27 978.68 460.87 978.86 456.93 979.05 465.93 979.24 473.12 979.42 466.09 979.61 464.99 979.79 468.94 979.98 471.07 980.17 455.94 980.35 467.62 980.54 463.57 980.72 469.76 980.91 462.96 981.1 471.52 981.28 474.72 981.47 468.97 981.65 483.64 981.84 480.23 982.03 470.25 982.21 467.83 982.4 469.47 982.58 472 982.77 464.05 982.96 474.8 983.14 475.44 983.33 462.43 983.51 469.9 983.7 467.01 983.89 472.04 984.07 471.06 984.26 467.05 984.44 474.94 984.63 471.92 984.82 466.89 985 463.64 985.19 480.09 985.37 464.71 985.56 457.57 985.75 463.93 985.93 472.56 986.12 467.56 986.31 468.63 986.49 483.24 986.68 461.28 986.86 481.22 987.05 469.47 987.24 460.19 987.42 464.12 987.61 460.88 987.79 473.59 987.98 461.93 988.17 470.49 988.35 470.32 988.54 475.67 988.72 476.45 988.91 469.42 989.1 469.66 989.28 467.38 989.47 473.37 989.65 473.39 989.84 459.61 990.03 474.75 990.21 468.97 990.4 465.04 990.58 465.57 990.77 479.75 990.96 465.81 991.14 473.5 991.33 471.09 991.51 484.39 991.7 461.9 991.89 471.49 992.07 472.18 992.26 468.05 992.44 462.78 992.63 471.25 992.82 477.63 993 468.29 993.19 467.71 993.37 461.69 993.56 471.11 993.75 467.32 993.93 473.25 994.12 470.69 994.3 467.53 994.49 474.96 994.68 471.44 994.86 472.18 995.05 470.18 995.23 463.44 995.42 473.57 995.61 472.27 995.79 466.23 995.98 470.88 996.16 476.39 996.35 466.41 996.54 470.03 996.72 476.56 996.91 473.59 997.1 467.15 997.28 465.17 997.47 470.14 997.65 471.53 997.84 459.88 998.03 477.54 998.21 467.2 998.4 457.82 998.58 468.93 998.77 462.35 998.96 471.84 999.14 469.14 999.33 482.24 999.51 473.2 999.7 459.5 999.89 474.59 1000.07 467.62 1000.26 472 1000.44 466.25 1000.63 466.43 1000.82 473.76 1001 463.66 1001.19 465.07 1001.37 472.82 1001.56 466.64 1001.75 464.14 1001.93 465.63 1002.12 480.21 1002.3 466.73 1002.49 467.29 1002.68 470.29 1002.86 462.61 1003.05 469.5 1003.23 473.32 1003.42 469.71 1003.61 464.96 1003.79 466.6 1003.98 466.02 1004.16 462.75 1004.35 473.99 1004.54 469.22 1004.72 470.31 1004.91 461.39 1005.09 472.79 1005.28 474.98 1005.47 471.27 1005.65 464.92 1005.84 477.32 1006.02 471.53 1006.21 470.13 1006.4 479.37 1006.58 471.55 1006.77 462.66 1006.95 460.77 1007.14 459.41 1007.33 456.31 1007.51 468.77 1007.7 469.34 1007.89 466.66 1008.07 465.66 1008.26 470.15 1008.44 471.2 1008.63 463.75 1008.82 458.46 1009 471.7 1009.19 473.55 1009.37 477.7 1009.56 464.44 1009.75 473.42 1009.93 468.84 1010.12 468.6 1010.3 468.49 1010.49 463.41 1010.68 472.62 1010.86 469.43 1011.05 474.41 1011.23 480.67 1011.42 471.04 1011.61 473.56 1011.79 473.36 1011.98 471.1 1012.16 475.68 1012.35 461.67" fill="none" stroke="#ff0000" stroke-width="1.2"/>
<path d="M62.8 190 64.81 200.13 66.82 208.94 68.83 216.62 70.83 223.3 72.84 229.11 74.85 234.18 76.86 238.58 78.87 242.42 80.88 245.76 82.88 248.66 84.89 251.19 86.9 253.4 88.91 255.31 90.92 256.98 92.92 258.43 94.93 259.7 96.94 260.8 98.95 261.76 100.96 262.59 102.97 263.32 104.97 263.95 106.98 264.5 108.99 264.98 111 265.4 113.01 265.76 115.02 266.08 117.03 266.35 119.03 266.59 121.04 266.8 123.05 266.98 125.06 267.14 127.07 267.28 129.07 267.4 131.08 267.5 133.09 267.59 135.1 267.67 137.11 267.74 139.12 267.8 141.12 267.85 143.13 267.9 145.14 267.93 147.15 267.97 149.16 268 151.17 268.03 153.18 268.05 155.18 268.07 157.19 268.08 159.2 268.1 161.21 268.11 163.22 268.12 165.23 268.13 167.23 268.14 169.24 268.15 171.25 268.16 173.26 268.16 175.27 268.17 177.28 268.17 179.28 268.17 181.29 268.18 183.3 268.18" fill="none" stroke="#0000ff" stroke-width="3.3" stroke-linejoin="round"/>
<path d="M189 274.9 191.18 252.19 193.35 233.55 195.53 218.25 197.7 205.7 199.88 195.41 202.05 186.95 204.22 180.02 206.4 174.33 208.57 169.66 210.75 165.83 212.93 162.68 215.1 160.1 217.28 157.98 219.45 156.25 221.62 154.82 223.8 153.65 225.97 152.69 228.15 151.9 230.32 151.26 232.5 150.73 234.68 150.29 236.85 149.93 239.03 149.64 241.2 149.4 243.38 149.2 245.55 149.04 247.72 148.91 249.9 148.8 252.07 148.71 254.25 148.64 256.43 148.58 258.6 148.53 260.77 148.49 262.95 148.45 265.12 148.43 267.3 148.4 269.48 148.38 271.65 148.37 273.82 148.36 276 148.35 278.18 148.34 280.35 148.33 282.52 148.33 284.7 148.32 286.88 148.32 289.05 148.31 291.23 148.31 293.4 148.31 295.57 148.31 297.75 148.31 299.93 148.31 302.1 148.3 304.27 148.3 306.45 148.3 308.62 148.3 310.8 148.3 312.98 148.3 315.15 148.3 317.32 148.3 319.5 148.3" fill="none" stroke="#0000ff" stroke-width="3.3" stroke-linejoin="round"/>
<path d="M62.4 504.8 64.42 511.69 66.44 517.66 68.46 522.84 70.48 527.33 72.5 531.22 74.52 534.59 76.54 537.51 78.56 540.04 80.58 542.23 82.6 544.14 84.62 545.78 86.64 547.21 88.66 548.45 90.68 549.52 92.7 550.45 94.72 551.26 96.74 551.96 98.76 552.56 100.78 553.09 102.8 553.54 104.82 553.94 106.84 554.28 108.86 554.57 110.88 554.83 112.9 555.05 114.92 555.25 116.94 555.41 118.96 555.56 120.98 555.68 123 555.79 125.02 555.89 127.04 555.97 129.06 556.04 131.08 556.1 133.1 556.15 135.12 556.2 137.14 556.24 139.16 556.27 141.18 556.3 143.2 556.33 145.22 556.35 147.24 556.37 149.26 556.39 151.28 556.4 153.3 556.42 155.32 556.43 157.34 556.44 159.36 556.45 161.38 556.45 163.4 556.46 165.42 556.46 167.44 556.47 169.46 556.47 171.48 556.48 173.5 556.48 175.52 556.48 177.54 556.49 179.56 556.49 181.58 556.49 183.6 556.49" fill="none" stroke="#0000ff" stroke-width="3.3" stroke-linejoin="round"/>
<path d="M187.2 566.2 189.39 551.64 191.57 539.44 193.76 529.23 195.95 520.68 198.13 513.52 200.32 507.52 202.51 502.49 204.69 498.28 206.88 494.76 209.07 491.81 211.25 489.34 213.44 487.27 215.63 485.53 217.81 484.08 220 482.87 222.19 481.85 224.37 481 226.56 480.28 228.75 479.68 230.93 479.18 233.12 478.76 235.31 478.41 237.49 478.12 239.68 477.87 241.87 477.66 244.05 477.49 246.24 477.35 248.43 477.22 250.61 477.12 252.8 477.04 254.99 476.97 257.17 476.91 259.36 476.86 261.55 476.82 263.73 476.78 265.92 476.75 268.11 476.73 270.29 476.71 272.48 476.69 274.67 476.67 276.85 476.66 279.04 476.65 281.23 476.64 283.41 476.64 285.6 476.63 287.79 476.63 289.97 476.62 292.16 476.62 294.35 476.62 296.53 476.61 298.72 476.61 300.91 476.61 303.09 476.61 305.28 476.61 307.47 476.61 309.65 476.6 311.84 476.6 314.03 476.6 316.21 476.6 318.4 476.6" fill="none" stroke="#0000ff" stroke-width="3.3" stroke-linejoin="round"/>
<path d="M411 177.4 413.19 196.78 415.38 213.43 417.56 227.74 419.75 240.04 421.94 250.61 424.13 259.69 426.32 267.5 428.51 274.21 430.69 279.97 432.88 284.92 435.07 289.18 437.26 292.84 439.45 295.98 441.64 298.69 443.82 301.01 446.01 303 448.2 304.72 450.39 306.19 452.58 307.46 454.77 308.55 456.95 309.48 459.14 310.29 461.33 310.98 463.52 311.57 465.71 312.08 467.9 312.52 470.08 312.9 472.27 313.22 474.46 313.5 476.65 313.74 478.84 313.94 481.03 314.12 483.21 314.27 485.4 314.4 487.59 314.51 489.78 314.61 491.97 314.69 494.16 314.77 496.34 314.83 498.53 314.88 500.72 314.92 502.91 314.96 505.1 315 507.29 315.02 509.47 315.05 511.66 315.07 513.85 315.09 516.04 315.1 518.23 315.12 520.42 315.13 522.61 315.14 524.79 315.15 526.98 315.16 529.17 315.16 531.36 315.17 533.55 315.17 535.73 315.18 537.92 315.18 540.11 315.18 542.3 315.18" fill="none" stroke="#0000ff" stroke-width="3.3" stroke-linejoin="round"/>
<path d="M542.3 315 544.44 290.15 546.57 269.33 548.71 251.87 550.85 237.24 552.98 224.98 555.12 214.71 557.26 206.09 559.39 198.88 561.53 192.83 563.67 187.76 565.8 183.51 567.94 179.94 570.08 176.96 572.21 174.46 574.35 172.36 576.49 170.6 578.62 169.13 580.76 167.89 582.9 166.86 585.03 165.99 587.17 165.26 589.31 164.65 591.44 164.14 593.58 163.72 595.72 163.36 597.85 163.06 599.99 162.8 602.13 162.59 604.26 162.42 606.4 162.27 608.54 162.14 610.67 162.04 612.81 161.95 614.95 161.88 617.08 161.82 619.22 161.77 621.36 161.72 623.49 161.69 625.63 161.66 627.77 161.63 629.9 161.61 632.04 161.59 634.18 161.58 636.31 161.56 638.45 161.55 640.59 161.55 642.72 161.54 644.86 161.53 647 161.53 649.13 161.52 651.27 161.52 653.41 161.52 655.54 161.51 657.68 161.51 659.82 161.51 661.95 161.51 664.09 161.51 666.23 161.51 668.36 161.5 670.5 161.5" fill="none" stroke="#0000ff" stroke-width="3.3" stroke-linejoin="round"/>
<path d="M411 488.7 413.18 501.24 415.37 512.01 417.55 521.26 419.73 529.2 421.92 536.02 424.1 541.88 426.28 546.91 428.47 551.23 430.65 554.94 432.83 558.13 435.02 560.86 437.2 563.21 439.38 565.23 441.57 566.96 443.75 568.45 445.93 569.73 448.12 570.83 450.3 571.77 452.48 572.58 454.67 573.27 456.85 573.87 459.03 574.38 461.22 574.82 463.4 575.2 465.58 575.53 467.77 575.8 469.95 576.04 472.13 576.25 474.32 576.43 476.5 576.58 478.68 576.71 480.87 576.82 483.05 576.92 485.23 577 487.42 577.07 489.6 577.13 491.78 577.18 493.97 577.23 496.15 577.27 498.33 577.3 500.52 577.33 502.7 577.35 504.88 577.37 507.07 577.39 509.25 577.41 511.43 577.42 513.62 577.43 515.8 577.44 517.98 577.45 520.17 577.46 522.35 577.46 524.53 577.47 526.72 577.47 528.9 577.48 531.08 577.48 533.27 577.48 535.45 577.48 537.63 577.49 539.82 577.49 542 577.49" fill="none" stroke="#0000ff" stroke-width="3.3" stroke-linejoin="round"/>
<path d="M542 571.7 544.14 555.85 546.28 542.72 548.42 531.85 550.57 522.84 552.71 515.39 554.85 509.22 556.99 504.11 559.13 499.88 561.27 496.37 563.42 493.47 565.56 491.07 567.7 489.08 569.84 487.43 571.98 486.07 574.12 484.94 576.27 484 578.41 483.23 580.55 482.59 582.69 482.06 584.83 481.62 586.98 481.25 589.12 480.95 591.26 480.7 593.4 480.5 595.54 480.32 597.68 480.18 599.83 480.07 601.97 479.97 604.11 479.89 606.25 479.82 608.39 479.77 610.53 479.72 612.67 479.68 614.82 479.65 616.96 479.62 619.1 479.6 621.24 479.59 623.38 479.57 625.52 479.56 627.67 479.55 629.81 479.54 631.95 479.53 634.09 479.53 636.23 479.52 638.38 479.52 640.52 479.52 642.66 479.51 644.8 479.51 646.94 479.51 649.08 479.51 651.23 479.51 653.37 479.51 655.51 479.5 657.65 479.5 659.79 479.5 661.93 479.5 664.08 479.5 666.22 479.5 668.36 479.5 670.5 479.5" fill="none" stroke="#0000ff" stroke-width="3.3" stroke-linejoin="round"/>
<path d="M752.8 170.2 754.98 193.42 757.16 212.92 759.34 229.3 761.52 243.04 763.7 254.58 765.88 264.27 768.06 272.41 770.24 279.24 772.42 284.98 774.6 289.79 776.78 293.84 778.96 297.23 781.14 300.08 783.32 302.47 785.5 304.48 787.68 306.17 789.86 307.59 792.04 308.77 794.22 309.77 796.4 310.61 798.58 311.32 800.76 311.91 802.94 312.4 805.12 312.82 807.3 313.17 809.48 313.46 811.66 313.71 813.84 313.92 816.02 314.09 818.2 314.24 820.38 314.36 822.56 314.46 824.74 314.55 826.92 314.62 829.1 314.68 831.28 314.73 833.46 314.78 835.64 314.81 837.82 314.84 840 314.87 842.18 314.89 844.36 314.91 846.54 314.92 848.72 314.93 850.9 314.94 853.08 314.95 855.26 314.96 857.44 314.97 859.62 314.97 861.8 314.98 863.98 314.98 866.16 314.98 868.34 314.99 870.52 314.99 872.7 314.99 874.88 314.99 877.06 314.99 879.24 314.99 881.42 315 883.6 315" fill="none" stroke="#0000ff" stroke-width="3.3" stroke-linejoin="round"/>
<path d="M885 279.4 887.12 259.49 889.24 242.7 891.36 228.55 893.48 216.63 895.6 206.57 897.72 198.1 899.84 190.95 901.96 184.93 904.08 179.85 906.2 175.57 908.32 171.97 910.44 168.92 912.56 166.36 914.68 164.2 916.8 162.38 918.92 160.84 921.04 159.55 923.16 158.46 925.28 157.54 927.4 156.76 929.52 156.11 931.64 155.56 933.76 155.09 935.88 154.7 938 154.37 940.12 154.09 942.24 153.86 944.36 153.66 946.48 153.49 948.6 153.35 950.72 153.24 952.84 153.14 954.96 153.05 957.08 152.98 959.2 152.92 961.32 152.87 963.44 152.83 965.56 152.79 967.68 152.76 969.8 152.74 971.92 152.72 974.04 152.7 976.16 152.68 978.28 152.67 980.4 152.66 982.52 152.65 984.64 152.64 986.76 152.63 988.88 152.63 991 152.62 993.12 152.62 995.24 152.62 997.36 152.61 999.48 152.61 1001.6 152.61 1003.72 152.61 1005.84 152.61 1007.96 152.61 1010.08 152.61 1012.2 152.6" fill="none" stroke="#0000ff" stroke-width="3.3" stroke-linejoin="round"/>
<path d="M752.5 478.8 754.68 495.51 756.86 509.13 759.03 520.22 761.21 529.26 763.39 536.62 765.57 542.62 767.75 547.51 769.93 551.49 772.11 554.74 774.28 557.38 776.46 559.53 778.64 561.29 780.82 562.72 783 563.88 785.17 564.83 787.35 565.6 789.53 566.23 791.71 566.74 793.89 567.16 796.07 567.5 798.25 567.78 800.42 568.01 802.6 568.19 804.78 568.34 806.96 568.46 809.14 568.56 811.32 568.64 813.49 568.71 815.67 568.76 817.85 568.81 820.03 568.84 822.21 568.87 824.38 568.9 826.56 568.92 828.74 568.93 830.92 568.94 833.1 568.95 835.28 568.96 837.46 568.97 839.63 568.98 841.81 568.98 843.99 568.98 846.17 568.99 848.35 568.99 850.53 568.99 852.7 568.99 854.88 568.99 857.06 569 859.24 569 861.42 569 863.6 569 865.77 569 867.95 569 870.13 569 872.31 569 874.49 569 876.67 569 878.84 569 881.02 569 883.2 569" fill="none" stroke="#0000ff" stroke-width="3.3" stroke-linejoin="round"/>
<path d="M884.5 548 886.63 534.08 888.76 522.62 890.88 513.17 893.01 505.38 895.14 498.96 897.27 493.67 899.4 489.32 901.53 485.72 903.65 482.76 905.78 480.33 907.91 478.32 910.04 476.66 912.17 475.29 914.3 474.17 916.42 473.24 918.55 472.48 920.68 471.85 922.81 471.33 924.94 470.9 927.07 470.55 929.2 470.26 931.32 470.02 933.45 469.82 935.58 469.66 937.71 469.53 939.84 469.42 941.97 469.33 944.09 469.25 946.22 469.19 948.35 469.14 950.48 469.1 952.61 469.06 954.74 469.03 956.86 469.01 958.99 468.99 961.12 468.97 963.25 468.96 965.38 468.95 967.5 468.94 969.63 468.93 971.76 468.93 973.89 468.92 976.02 468.92 978.15 468.92 980.28 468.91 982.4 468.91 984.53 468.91 986.66 468.91 988.79 468.91 990.92 468.9 993.05 468.9 995.17 468.9 997.3 468.9 999.43 468.9 1001.56 468.9 1003.69 468.9 1005.82 468.9 1007.94 468.9 1010.07 468.9 1012.2 468.9" fill="none" stroke="#0000ff" stroke-width="3.3" stroke-linejoin="round"/>
<rect x="70.6" y="0" width="237.9" height="77" fill="#fff" stroke="#000" stroke-width="1.2"/>
<line x1="74.4" y1="21" x2="139.9" y2="21" stroke="#00ff00" stroke-width="1.7"/>
<line x1="74.4" y1="57.2" x2="139.9" y2="57.2" stroke="#ff0000" stroke-width="1.7"/>
<rect x="419.6" y="0" width="238" height="77" fill="#fff" stroke="#000" stroke-width="1.2"/>
<line x1="423.4" y1="21" x2="488.9" y2="21" stroke="#00ff00" stroke-width="1.7"/>
<line x1="423.4" y1="57.2" x2="488.9" y2="57.2" stroke="#ff0000" stroke-width="1.7"/>
<rect x="760.4" y="0" width="245" height="77" fill="#fff" stroke="#000" stroke-width="1.2"/>
<line x1="764.2" y1="21" x2="829.7" y2="21" stroke="#00ff00" stroke-width="1.7"/>
<line x1="764.2" y1="57.2" x2="829.7" y2="57.2" stroke="#ff0000" stroke-width="1.7"/>
<g transform="translate(78.1 170.75)" fill="none" stroke="#000"><path d="M2.3 -11.7 L11.8 -11.7" stroke-width="2.1"/><path d="M0.3 -8.9 Q1.3 -11.1 3.2 -11.5" stroke-width="1.1"/><path d="M6.2 -11.1 C6.0 -8 5.5 -3.2 6.1 -1.7 C6.7 -0.2 8.4 -0.5 9.3 -1.6 L10.4 -3.3" stroke-width="2.0"/></g>
<rect x="98.8" y="159.65" width="15.2" height="1.9" fill="#000"/>
<rect x="98.8" y="164.85" width="15.2" height="1.9" fill="#000"/>
<g transform="translate(198.1 264.65)" fill="none" stroke="#000"><path d="M2.3 -11.7 L11.8 -11.7" stroke-width="2.1"/><path d="M0.3 -8.9 Q1.3 -11.1 3.2 -11.5" stroke-width="1.1"/><path d="M6.2 -11.1 C6.0 -8 5.5 -3.2 6.1 -1.7 C6.7 -0.2 8.4 -0.5 9.3 -1.6 L10.4 -3.3" stroke-width="2.0"/></g>
<rect x="218.8" y="253.55" width="15.2" height="1.9" fill="#000"/>
<rect x="218.8" y="258.75" width="15.2" height="1.9" fill="#000"/>
<g transform="translate(67.8 468.95)" fill="none" stroke="#000"><path d="M2.3 -11.7 L11.8 -11.7" stroke-width="2.1"/><path d="M0.3 -8.9 Q1.3 -11.1 3.2 -11.5" stroke-width="1.1"/><path d="M6.2 -11.1 C6.0 -8 5.5 -3.2 6.1 -1.7 C6.7 -0.2 8.4 -0.5 9.3 -1.6 L10.4 -3.3" stroke-width="2.0"/></g>
<rect x="88.5" y="457.85" width="15.2" height="1.9" fill="#000"/>
<rect x="88.5" y="463.05" width="15.2" height="1.9" fill="#000"/>
<g transform="translate(200.3 561.75)" fill="none" stroke="#000"><path d="M2.3 -11.7 L11.8 -11.7" stroke-width="2.1"/><path d="M0.3 -8.9 Q1.3 -11.1 3.2 -11.5" stroke-width="1.1"/><path d="M6.2 -11.1 C6.0 -8 5.5 -3.2 6.1 -1.7 C6.7 -0.2 8.4 -0.5 9.3 -1.6 L10.4 -3.3" stroke-width="2.0"/></g>
<rect x="221" y="550.65" width="15.2" height="1.9" fill="#000"/>
<rect x="221" y="555.85" width="15.2" height="1.9" fill="#000"/>
<g transform="translate(422.3 193.95)" fill="none" stroke="#000"><path d="M2.3 -11.7 L11.8 -11.7" stroke-width="2.1"/><path d="M0.3 -8.9 Q1.3 -11.1 3.2 -11.5" stroke-width="1.1"/><path d="M6.2 -11.1 C6.0 -8 5.5 -3.2 6.1 -1.7 C6.7 -0.2 8.4 -0.5 9.3 -1.6 L10.4 -3.3" stroke-width="2.0"/></g>
<rect x="443" y="182.85" width="15.2" height="1.9" fill="#000"/>
<rect x="443" y="188.05" width="15.2" height="1.9" fill="#000"/>
<g transform="translate(548.2 323.15)" fill="none" stroke="#000"><path d="M2.3 -11.7 L11.8 -11.7" stroke-width="2.1"/><path d="M0.3 -8.9 Q1.3 -11.1 3.2 -11.5" stroke-width="1.1"/><path d="M6.2 -11.1 C6.0 -8 5.5 -3.2 6.1 -1.7 C6.7 -0.2 8.4 -0.5 9.3 -1.6 L10.4 -3.3" stroke-width="2.0"/></g>
<rect x="568.9" y="312.05" width="15.2" height="1.9" fill="#000"/>
<rect x="568.9" y="317.25" width="15.2" height="1.9" fill="#000"/>
<g transform="translate(427.2 493.45)" fill="none" stroke="#000"><path d="M2.3 -11.7 L11.8 -11.7" stroke-width="2.1"/><path d="M0.3 -8.9 Q1.3 -11.1 3.2 -11.5" stroke-width="1.1"/><path d="M6.2 -11.1 C6.0 -8 5.5 -3.2 6.1 -1.7 C6.7 -0.2 8.4 -0.5 9.3 -1.6 L10.4 -3.3" stroke-width="2.0"/></g>
<rect x="447.9" y="482.35" width="15.2" height="1.9" fill="#000"/>
<rect x="447.9" y="487.55" width="15.2" height="1.9" fill="#000"/>
<g transform="translate(551.6 554.95)" fill="none" stroke="#000"><path d="M2.3 -11.7 L11.8 -11.7" stroke-width="2.1"/><path d="M0.3 -8.9 Q1.3 -11.1 3.2 -11.5" stroke-width="1.1"/><path d="M6.2 -11.1 C6.0 -8 5.5 -3.2 6.1 -1.7 C6.7 -0.2 8.4 -0.5 9.3 -1.6 L10.4 -3.3" stroke-width="2.0"/></g>
<rect x="572.3" y="543.85" width="15.2" height="1.9" fill="#000"/>
<rect x="572.3" y="549.05" width="15.2" height="1.9" fill="#000"/>
<g transform="translate(765.4 196.75)" fill="none" stroke="#000"><path d="M2.3 -11.7 L11.8 -11.7" stroke-width="2.1"/><path d="M0.3 -8.9 Q1.3 -11.1 3.2 -11.5" stroke-width="1.1"/><path d="M6.2 -11.1 C6.0 -8 5.5 -3.2 6.1 -1.7 C6.7 -0.2 8.4 -0.5 9.3 -1.6 L10.4 -3.3" stroke-width="2.0"/></g>
<rect x="786.1" y="185.65" width="15.2" height="1.9" fill="#000"/>
<rect x="786.1" y="190.85" width="15.2" height="1.9" fill="#000"/>
<g transform="translate(891.1 300.95)" fill="none" stroke="#000"><path d="M2.3 -11.7 L11.8 -11.7" stroke-width="2.1"/><path d="M0.3 -8.9 Q1.3 -11.1 3.2 -11.5" stroke-width="1.1"/><path d="M6.2 -11.1 C6.0 -8 5.5 -3.2 6.1 -1.7 C6.7 -0.2 8.4 -0.5 9.3 -1.6 L10.4 -3.3" stroke-width="2.0"/></g>
<rect x="911.8" y="289.85" width="15.2" height="1.9" fill="#000"/>
<rect x="911.8" y="295.05" width="15.2" height="1.9" fill="#000"/>
<g transform="translate(766.6 500.65)" fill="none" stroke="#000"><path d="M2.3 -11.7 L11.8 -11.7" stroke-width="2.1"/><path d="M0.3 -8.9 Q1.3 -11.1 3.2 -11.5" stroke-width="1.1"/><path d="M6.2 -11.1 C6.0 -8 5.5 -3.2 6.1 -1.7 C6.7 -0.2 8.4 -0.5 9.3 -1.6 L10.4 -3.3" stroke-width="2.0"/></g>
<rect x="787.3" y="489.55" width="15.2" height="1.9" fill="#000"/>
<rect x="787.3" y="494.75" width="15.2" height="1.9" fill="#000"/>
<g transform="translate(891.1 551.25)" fill="none" stroke="#000"><path d="M2.3 -11.7 L11.8 -11.7" stroke-width="2.1"/><path d="M0.3 -8.9 Q1.3 -11.1 3.2 -11.5" stroke-width="1.1"/><path d="M6.2 -11.1 C6.0 -8 5.5 -3.2 6.1 -1.7 C6.7 -0.2 8.4 -0.5 9.3 -1.6 L10.4 -3.3" stroke-width="2.0"/></g>
<rect x="911.8" y="540.15" width="15.2" height="1.9" fill="#000"/>
<rect x="911.8" y="545.35" width="15.2" height="1.9" fill="#000"/>
<g style="will-change:opacity"><g transform="translate(-0.9 319.85) scale(1 1.04)" fill="#000" stroke="#000" stroke-width="0.35" ><text x="0" y="0" font-family="&quot;Liberation Sans&quot;, sans-serif" font-size="35.6">34</text></g>
<g transform="translate(-0.9 242.35) scale(1 1.04)" fill="#000" stroke="#000" stroke-width="0.35" ><text x="0" y="0" font-family="&quot;Liberation Sans&quot;, sans-serif" font-size="35.6">36</text></g>
<g transform="translate(-0.9 164.85) scale(1 1.04)" fill="#000" stroke="#000" stroke-width="0.35" ><text x="0" y="0" font-family="&quot;Liberation Sans&quot;, sans-serif" font-size="35.6">38</text></g>
<g transform="translate(-0.9 87.35) scale(1 1.04)" fill="#000" stroke="#000" stroke-width="0.35" ><text x="0" y="0" font-family="&quot;Liberation Sans&quot;, sans-serif" font-size="35.6">40</text></g>
<g transform="translate(-0.9 641.11) scale(1 1.04)" fill="#000" stroke="#000" stroke-width="0.35" ><text x="0" y="0" font-family="&quot;Liberation Sans&quot;, sans-serif" font-size="35.6">22</text></g>
<g transform="translate(-0.9 563.55) scale(1 1.04)" fill="#000" stroke="#000" stroke-width="0.35" ><text x="0" y="0" font-family="&quot;Liberation Sans&quot;, sans-serif" font-size="35.6">24</text></g>
<g transform="translate(-0.9 485.99) scale(1 1.04)" fill="#000" stroke="#000" stroke-width="0.35" ><text x="0" y="0" font-family="&quot;Liberation Sans&quot;, sans-serif" font-size="35.6">26</text></g>
<g transform="translate(49.05 709.1) scale(1 1.04)" fill="#000" stroke="#000" stroke-width="0.35" ><text x="0" y="0" font-family="&quot;Liberation Sans&quot;, sans-serif" font-size="35.6">0</text></g>
<g transform="translate(103.69 709.1) scale(1 1.04)" fill="#000" stroke="#000" stroke-width="0.35" ><text x="0" y="0" font-family="&quot;Liberation Sans&quot;, sans-serif" font-size="35.6">200</text></g>
<g transform="translate(178.14 709.1) scale(1 1.04)" fill="#000" stroke="#000" stroke-width="0.35" ><text x="0" y="0" font-family="&quot;Liberation Sans&quot;, sans-serif" font-size="35.6">400</text></g>
<g transform="translate(252.58 709.1) scale(1 1.04)" fill="#000" stroke="#000" stroke-width="0.35" ><text x="0" y="0" font-family="&quot;Liberation Sans&quot;, sans-serif" font-size="35.6">600</text></g>
<g transform="translate(147.42 31.35) scale(1 1.04)" fill="#000" stroke="#000" stroke-width="0.35" ><text x="0" y="0" font-family="&quot;Liberation Sans&quot;, sans-serif" font-size="29.2">O777/Ar750</text></g>
<g transform="translate(147.42 66.9) scale(1 1.04)" fill="#000" stroke="#000" stroke-width="0.35" ><text x="0" y="0" font-family="&quot;Liberation Sans&quot;, sans-serif" font-size="29.2">O844/Ar750</text></g>
<g transform="translate(347.91 372.07) scale(1 1.04)" fill="#000" stroke="#000" stroke-width="0.35" ><text x="0" y="0" font-family="&quot;Liberation Sans&quot;, sans-serif" font-size="35.6">6,5</text></g>
<g transform="translate(347.91 237.4) scale(1 1.04)" fill="#000" stroke="#000" stroke-width="0.35" ><text x="0" y="0" font-family="&quot;Liberation Sans&quot;, sans-serif" font-size="35.6">7,0</text></g>
<g transform="translate(347.91 102.72) scale(1 1.04)" fill="#000" stroke="#000" stroke-width="0.35" ><text x="0" y="0" font-family="&quot;Liberation Sans&quot;, sans-serif" font-size="35.6">7,5</text></g>
<g transform="translate(347.91 571.7) scale(1 1.04)" fill="#000" stroke="#000" stroke-width="0.35" ><text x="0" y="0" font-family="&quot;Liberation Sans&quot;, sans-serif" font-size="35.6">4,5</text></g>
<g transform="translate(400.6 709.1) scale(1 1.04)" fill="#000" stroke="#000" stroke-width="0.35" ><text x="0" y="0" font-family="&quot;Liberation Sans&quot;, sans-serif" font-size="35.6">0</text></g>
<g transform="translate(455.12 709.1) scale(1 1.04)" fill="#000" stroke="#000" stroke-width="0.35" ><text x="0" y="0" font-family="&quot;Liberation Sans&quot;, sans-serif" font-size="35.6">200</text></g>
<g transform="translate(529.43 709.1) scale(1 1.04)" fill="#000" stroke="#000" stroke-width="0.35" ><text x="0" y="0" font-family="&quot;Liberation Sans&quot;, sans-serif" font-size="35.6">400</text></g>
<g transform="translate(603.74 709.1) scale(1 1.04)" fill="#000" stroke="#000" stroke-width="0.35" ><text x="0" y="0" font-family="&quot;Liberation Sans&quot;, sans-serif" font-size="35.6">600</text></g>
<g transform="translate(496.42 31.35) scale(1 1.04)" fill="#000" stroke="#000" stroke-width="0.35" ><text x="0" y="0" font-family="&quot;Liberation Sans&quot;, sans-serif" font-size="29.2">O777/Kr759</text></g>
<g transform="translate(496.42 66.9) scale(1 1.04)" fill="#000" stroke="#000" stroke-width="0.35" ><text x="0" y="0" font-family="&quot;Liberation Sans&quot;, sans-serif" font-size="29.2">O844/Kr759</text></g>
<g transform="translate(689.71 255.3) scale(1 1.04)" fill="#000" stroke="#000" stroke-width="0.35" ><path transform="translate(0 0) scale(0.01738 -0.01671)" d="M763 0L583 0L583 1147Q518 1085 415 1024.5Q312 964 223 931L223 1105Q374 1176 490 1279.5Q606 1383 652 1466L763 1466Z"/><text x="19.8" y="0" font-family="&quot;Liberation Sans&quot;, sans-serif" font-size="35.6">,</text><path transform="translate(29.69 0) scale(0.01738 -0.01671)" d="M763 0L583 0L583 1147Q518 1085 415 1024.5Q312 964 223 931L223 1105Q374 1176 490 1279.5Q606 1383 652 1466L763 1466Z"/></g>
<g transform="translate(689.71 48.8) scale(1 1.04)" fill="#000" stroke="#000" stroke-width="0.35" ><path transform="translate(0 0) scale(0.01738 -0.01671)" d="M763 0L583 0L583 1147Q518 1085 415 1024.5Q312 964 223 931L223 1105Q374 1176 490 1279.5Q606 1383 652 1466L763 1466Z"/><text x="19.8" y="0" font-family="&quot;Liberation Sans&quot;, sans-serif" font-size="35.6">,2</text></g>
<g transform="translate(689.71 679.6) scale(1 1.04)" fill="#000" stroke="#000" stroke-width="0.35" ><text x="0" y="0" font-family="&quot;Liberation Sans&quot;, sans-serif" font-size="35.6">0,7</text></g>
<g transform="translate(689.71 473.1) scale(1 1.04)" fill="#000" stroke="#000" stroke-width="0.35" ><text x="0" y="0" font-family="&quot;Liberation Sans&quot;, sans-serif" font-size="35.6">0,8</text></g>
<g transform="translate(742 709.1) scale(1 1.04)" fill="#000" stroke="#000" stroke-width="0.35" ><text x="0" y="0" font-family="&quot;Liberation Sans&quot;, sans-serif" font-size="35.6">0</text></g>
<g transform="translate(796.62 709.1) scale(1 1.04)" fill="#000" stroke="#000" stroke-width="0.35" ><text x="0" y="0" font-family="&quot;Liberation Sans&quot;, sans-serif" font-size="35.6">200</text></g>
<g transform="translate(871.03 709.1) scale(1 1.04)" fill="#000" stroke="#000" stroke-width="0.35" ><text x="0" y="0" font-family="&quot;Liberation Sans&quot;, sans-serif" font-size="35.6">400</text></g>
<g transform="translate(945.44 709.1) scale(1 1.04)" fill="#000" stroke="#000" stroke-width="0.35" ><text x="0" y="0" font-family="&quot;Liberation Sans&quot;, sans-serif" font-size="35.6">600</text></g>
<g transform="translate(837.22 31.35) scale(1 1.04)" fill="#000" stroke="#000" stroke-width="0.35" ><text x="0" y="0" font-family="&quot;Liberation Sans&quot;, sans-serif" font-size="29.2">O777/Xe823</text></g>
<g transform="translate(837.22 66.9) scale(1 1.04)" fill="#000" stroke="#000" stroke-width="0.35" ><text x="0" y="0" font-family="&quot;Liberation Sans&quot;, sans-serif" font-size="29.2">O844/Xe823</text></g>
<g transform="translate(121.49 170.75) scale(1 1.04)" fill="#000" stroke="#000" stroke-width="0.35" ><text x="0" y="0" font-family="&quot;Liberation Sans&quot;, sans-serif" font-size="29.2">38,95</text></g>
<g transform="translate(240.63 264.65) scale(1 1.04)" fill="#000" stroke="#000" stroke-width="0.35" ><text x="0" y="0" font-family="&quot;Liberation Sans&quot;, sans-serif" font-size="29.2">29,58</text></g>
<g transform="translate(110.69 468.95) scale(1 1.04)" fill="#000" stroke="#000" stroke-width="0.35" ><text x="0" y="0" font-family="&quot;Liberation Sans&quot;, sans-serif" font-size="29.2">38,00</text></g>
<g transform="translate(243.19 561.75) scale(1 1.04)" fill="#000" stroke="#000" stroke-width="0.35" ><text x="0" y="0" font-family="&quot;Liberation Sans&quot;, sans-serif" font-size="29.2">33,</text><path transform="translate(40.59 0) scale(0.01426 -0.01371)" d="M763 0L583 0L583 1147Q518 1085 415 1024.5Q312 964 223 931L223 1105Q374 1176 490 1279.5Q606 1383 652 1466L763 1466Z"/><text x="56.83" y="0" font-family="&quot;Liberation Sans&quot;, sans-serif" font-size="29.2">8</text></g>
<g transform="translate(465.19 193.95) scale(1 1.04)" fill="#000" stroke="#000" stroke-width="0.35" ><text x="0" y="0" font-family="&quot;Liberation Sans&quot;, sans-serif" font-size="29.2">38,93</text></g>
<g transform="translate(591.49 323.15) scale(1 1.04)" fill="#000" stroke="#000" stroke-width="0.35" ><text x="0" y="0" font-family="&quot;Liberation Sans&quot;, sans-serif" font-size="29.2">32,63</text></g>
<g transform="translate(470.09 493.45) scale(1 1.04)" fill="#000" stroke="#000" stroke-width="0.35" ><text x="0" y="0" font-family="&quot;Liberation Sans&quot;, sans-serif" font-size="29.2">38,65</text></g>
<g transform="translate(594.49 554.95) scale(1 1.04)" fill="#000" stroke="#000" stroke-width="0.35" ><text x="0" y="0" font-family="&quot;Liberation Sans&quot;, sans-serif" font-size="29.2">30,58</text></g>
<g transform="translate(808.29 196.75) scale(1 1.04)" fill="#000" stroke="#000" stroke-width="0.35" ><text x="0" y="0" font-family="&quot;Liberation Sans&quot;, sans-serif" font-size="29.2">33,54</text></g>
<g transform="translate(933.99 300.95) scale(1 1.04)" fill="#000" stroke="#000" stroke-width="0.35" ><text x="0" y="0" font-family="&quot;Liberation Sans&quot;, sans-serif" font-size="29.2">33,39</text></g>
<g transform="translate(809.13 500.65) scale(1 1.04)" fill="#000" stroke="#000" stroke-width="0.35" ><text x="0" y="0" font-family="&quot;Liberation Sans&quot;, sans-serif" font-size="29.2">28,59</text></g>
<g transform="translate(933.63 551.25) scale(1 1.04)" fill="#000" stroke="#000" stroke-width="0.35" ><text x="0" y="0" font-family="&quot;Liberation Sans&quot;, sans-serif" font-size="29.2">29,59</text></g>
<g transform="translate(441 768.2) scale(1 1)" fill="#000" stroke="#000" stroke-width="0.35" ><text x="0" y="0" font-family="&quot;Liberation Sans&quot;, sans-serif" font-size="52.7">time, ms</text></g>
<text x="157.5" y="847.5" font-family="&quot;Liberation Serif&quot;, serif" font-size="44.3" stroke="#000" stroke-width="0.5">a)</text>
<text x="521.9" y="847.5" font-family="&quot;Liberation Serif&quot;, serif" font-size="44.3" stroke="#000" stroke-width="0.5">b)</text>
<text x="916.3" y="847.5" font-family="&quot;Liberation Serif&quot;, serif" font-size="44.3" stroke="#000" stroke-width="0.5">c)</text></g>
</svg></body></html>
